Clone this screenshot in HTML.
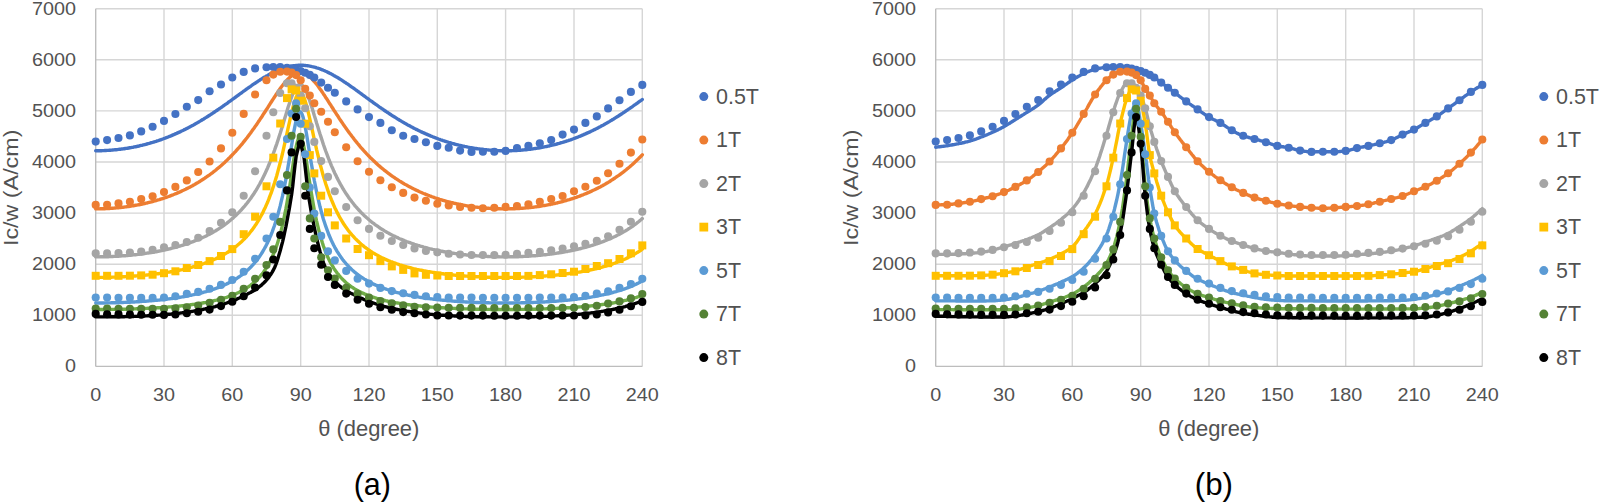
<!DOCTYPE html>
<html lang="en"><head><meta charset="utf-8"><title>Ic/w vs θ</title>
<style>
html,body{margin:0;padding:0;background:#fff;}
body{width:1600px;height:503px;overflow:hidden;font-family:"Liberation Sans",Arial,sans-serif;}
svg{display:block;}
</style></head><body>
<svg width="1600" height="503" viewBox="0 0 1600 503" font-family="'Liberation Sans', Arial, sans-serif">
<rect width="1600" height="503" fill="#fff"/>
<g><line x1="95.7" y1="315.3" x2="642.3" y2="315.3" stroke="#d6d6d6" stroke-width="1.4"/>
<line x1="95.7" y1="264.2" x2="642.3" y2="264.2" stroke="#d6d6d6" stroke-width="1.4"/>
<line x1="95.7" y1="213.1" x2="642.3" y2="213.1" stroke="#d6d6d6" stroke-width="1.4"/>
<line x1="95.7" y1="162.0" x2="642.3" y2="162.0" stroke="#d6d6d6" stroke-width="1.4"/>
<line x1="95.7" y1="110.9" x2="642.3" y2="110.9" stroke="#d6d6d6" stroke-width="1.4"/>
<line x1="95.7" y1="59.8" x2="642.3" y2="59.8" stroke="#d6d6d6" stroke-width="1.4"/>
<line x1="95.7" y1="8.7" x2="642.3" y2="8.7" stroke="#d6d6d6" stroke-width="1.4"/>
<line x1="164.0" y1="8.7" x2="164.0" y2="366.4" stroke="#d6d6d6" stroke-width="1.4"/>
<line x1="232.3" y1="8.7" x2="232.3" y2="366.4" stroke="#d6d6d6" stroke-width="1.4"/>
<line x1="300.7" y1="8.7" x2="300.7" y2="366.4" stroke="#d6d6d6" stroke-width="1.4"/>
<line x1="369.0" y1="8.7" x2="369.0" y2="366.4" stroke="#d6d6d6" stroke-width="1.4"/>
<line x1="437.3" y1="8.7" x2="437.3" y2="366.4" stroke="#d6d6d6" stroke-width="1.4"/>
<line x1="505.6" y1="8.7" x2="505.6" y2="366.4" stroke="#d6d6d6" stroke-width="1.4"/>
<line x1="574.0" y1="8.7" x2="574.0" y2="366.4" stroke="#d6d6d6" stroke-width="1.4"/>
<line x1="642.3" y1="8.7" x2="642.3" y2="366.4" stroke="#d6d6d6" stroke-width="1.4"/>
<line x1="95.7" y1="8.7" x2="95.7" y2="366.4" stroke="#bdbdbd" stroke-width="1.4"/>
<line x1="95.7" y1="366.4" x2="642.3" y2="366.4" stroke="#bdbdbd" stroke-width="1.4"/>
<text x="75.9" y="372.2" font-size="19" fill="#525252" text-anchor="end" textLength="11.0" lengthAdjust="spacingAndGlyphs">0</text>
<text x="75.9" y="321.1" font-size="19" fill="#525252" text-anchor="end" textLength="44.0" lengthAdjust="spacingAndGlyphs">1000</text>
<text x="75.9" y="270.0" font-size="19" fill="#525252" text-anchor="end" textLength="44.0" lengthAdjust="spacingAndGlyphs">2000</text>
<text x="75.9" y="218.9" font-size="19" fill="#525252" text-anchor="end" textLength="44.0" lengthAdjust="spacingAndGlyphs">3000</text>
<text x="75.9" y="167.8" font-size="19" fill="#525252" text-anchor="end" textLength="44.0" lengthAdjust="spacingAndGlyphs">4000</text>
<text x="75.9" y="116.7" font-size="19" fill="#525252" text-anchor="end" textLength="44.0" lengthAdjust="spacingAndGlyphs">5000</text>
<text x="75.9" y="65.6" font-size="19" fill="#525252" text-anchor="end" textLength="44.0" lengthAdjust="spacingAndGlyphs">6000</text>
<text x="75.9" y="14.5" font-size="19" fill="#525252" text-anchor="end" textLength="44.0" lengthAdjust="spacingAndGlyphs">7000</text>
<text x="95.7" y="400.7" font-size="19" fill="#525252" text-anchor="middle" textLength="11.0" lengthAdjust="spacingAndGlyphs">0</text>
<text x="164.0" y="400.7" font-size="19" fill="#525252" text-anchor="middle" textLength="22.0" lengthAdjust="spacingAndGlyphs">30</text>
<text x="232.3" y="400.7" font-size="19" fill="#525252" text-anchor="middle" textLength="22.0" lengthAdjust="spacingAndGlyphs">60</text>
<text x="300.7" y="400.7" font-size="19" fill="#525252" text-anchor="middle" textLength="22.0" lengthAdjust="spacingAndGlyphs">90</text>
<text x="369.0" y="400.7" font-size="19" fill="#525252" text-anchor="middle" textLength="33.0" lengthAdjust="spacingAndGlyphs">120</text>
<text x="437.3" y="400.7" font-size="19" fill="#525252" text-anchor="middle" textLength="33.0" lengthAdjust="spacingAndGlyphs">150</text>
<text x="505.6" y="400.7" font-size="19" fill="#525252" text-anchor="middle" textLength="33.0" lengthAdjust="spacingAndGlyphs">180</text>
<text x="574.0" y="400.7" font-size="19" fill="#525252" text-anchor="middle" textLength="33.0" lengthAdjust="spacingAndGlyphs">210</text>
<text x="642.3" y="400.7" font-size="19" fill="#525252" text-anchor="middle" textLength="33.0" lengthAdjust="spacingAndGlyphs">240</text>
<text x="368.8" y="436.3" font-size="21.6" fill="#525252" text-anchor="middle" textLength="101.2" lengthAdjust="spacingAndGlyphs">θ (degree)</text>
<text transform="translate(17.6,187.8) rotate(-90)" font-size="20.8" fill="#525252" text-anchor="middle" textLength="116.5" lengthAdjust="spacingAndGlyphs">Ic/w (A/cm)</text>
<text x="372.3" y="495" font-size="30.5" fill="#000" text-anchor="middle" textLength="37.3" lengthAdjust="spacingAndGlyphs">(a)</text>
<path d="M95.7,150.8 L96.8,150.8 L98.0,150.7 L99.1,150.7 L100.3,150.7 L101.4,150.7 L102.5,150.6 L103.7,150.6 L104.8,150.5 L105.9,150.5 L107.1,150.4 L108.2,150.4 L109.4,150.3 L110.5,150.2 L111.6,150.1 L112.8,150.0 L113.9,149.9 L115.1,149.8 L116.2,149.7 L117.3,149.6 L118.5,149.4 L119.6,149.3 L120.8,149.2 L121.9,149.0 L123.0,148.9 L124.2,148.7 L125.3,148.5 L126.4,148.4 L127.6,148.2 L128.7,148.0 L129.9,147.8 L131.0,147.6 L132.1,147.4 L133.3,147.2 L134.4,146.9 L135.6,146.7 L136.7,146.5 L137.8,146.2 L139.0,146.0 L140.1,145.7 L141.2,145.4 L142.4,145.2 L143.5,144.9 L144.7,144.6 L145.8,144.3 L146.9,144.0 L148.1,143.7 L149.2,143.4 L150.4,143.0 L151.5,142.7 L152.6,142.4 L153.8,142.0 L154.9,141.7 L156.1,141.3 L157.2,140.9 L158.3,140.6 L159.5,140.2 L160.6,139.8 L161.7,139.4 L162.9,139.0 L164.0,138.5 L165.2,138.1 L166.3,137.7 L167.4,137.2 L168.6,136.8 L169.7,136.3 L170.9,135.9 L172.0,135.4 L173.1,134.9 L174.3,134.4 L175.4,133.9 L176.6,133.4 L177.7,132.9 L178.8,132.4 L180.0,131.9 L181.1,131.3 L182.2,130.8 L183.4,130.2 L184.5,129.6 L185.7,129.1 L186.8,128.5 L187.9,127.9 L189.1,127.3 L190.2,126.7 L191.4,126.1 L192.5,125.5 L193.6,124.9 L194.8,124.2 L195.9,123.6 L197.0,122.9 L198.2,122.3 L199.3,121.6 L200.5,120.9 L201.6,120.2 L202.7,119.5 L203.9,118.9 L205.0,118.1 L206.2,117.4 L207.3,116.7 L208.4,116.0 L209.6,115.3 L210.7,114.5 L211.9,113.8 L213.0,113.0 L214.1,112.3 L215.3,111.5 L216.4,110.7 L217.5,110.0 L218.7,109.2 L219.8,108.4 L221.0,107.6 L222.1,106.8 L223.2,106.0 L224.4,105.2 L225.5,104.4 L226.7,103.6 L227.8,102.8 L228.9,101.9 L230.1,101.1 L231.2,100.3 L232.3,99.5 L233.5,98.6 L234.6,97.8 L235.8,97.0 L236.9,96.1 L238.0,95.3 L239.2,94.5 L240.3,93.7 L241.5,92.8 L242.6,92.0 L243.7,91.2 L244.9,90.4 L246.0,89.5 L247.2,88.7 L248.3,87.9 L249.4,87.1 L250.6,86.3 L251.7,85.5 L252.8,84.7 L254.0,83.9 L255.1,83.2 L256.3,82.4 L257.4,81.7 L258.5,80.9 L259.7,80.2 L260.8,79.4 L262.0,78.7 L263.1,78.0 L264.2,77.3 L265.4,76.7 L266.5,76.0 L267.7,75.4 L268.8,74.7 L269.9,74.1 L271.1,73.5 L272.2,72.9 L273.3,72.4 L274.5,71.8 L275.6,71.3 L276.8,70.8 L277.9,70.3 L279.0,69.8 L280.2,69.4 L281.3,68.9 L282.5,68.5 L283.6,68.1 L284.7,67.8 L285.9,67.4 L287.0,67.1 L288.1,66.8 L289.3,66.6 L290.4,66.3 L291.6,66.1 L292.7,65.9 L293.8,65.7 L295.0,65.6 L296.1,65.5 L297.3,65.4 L298.4,65.3 L299.5,65.3 L300.7,65.3 L301.8,65.3 L303.0,65.3 L304.1,65.4 L305.2,65.5 L306.4,65.6 L307.5,65.7 L308.6,65.9 L309.8,66.1 L310.9,66.3 L312.1,66.6 L313.2,66.8 L314.3,67.1 L315.5,67.4 L316.6,67.8 L317.8,68.1 L318.9,68.5 L320.0,68.9 L321.2,69.4 L322.3,69.8 L323.4,70.3 L324.6,70.8 L325.7,71.3 L326.9,71.8 L328.0,72.4 L329.1,72.9 L330.3,73.5 L331.4,74.1 L332.6,74.7 L333.7,75.4 L334.8,76.0 L336.0,76.7 L337.1,77.3 L338.3,78.0 L339.4,78.7 L340.5,79.4 L341.7,80.2 L342.8,80.9 L343.9,81.7 L345.1,82.4 L346.2,83.2 L347.4,83.9 L348.5,84.7 L349.6,85.5 L350.8,86.3 L351.9,87.1 L353.1,87.9 L354.2,88.7 L355.3,89.5 L356.5,90.4 L357.6,91.2 L358.8,92.0 L359.9,92.8 L361.0,93.7 L362.2,94.5 L363.3,95.3 L364.4,96.1 L365.6,97.0 L366.7,97.8 L367.9,98.6 L369.0,99.5 L370.1,100.3 L371.3,101.1 L372.4,101.9 L373.6,102.8 L374.7,103.6 L375.8,104.4 L377.0,105.2 L378.1,106.0 L379.2,106.8 L380.4,107.6 L381.5,108.4 L382.7,109.2 L383.8,110.0 L384.9,110.7 L386.1,111.5 L387.2,112.3 L388.4,113.0 L389.5,113.8 L390.6,114.5 L391.8,115.3 L392.9,116.0 L394.1,116.7 L395.2,117.4 L396.3,118.1 L397.5,118.9 L398.6,119.5 L399.7,120.2 L400.9,120.9 L402.0,121.6 L403.2,122.3 L404.3,122.9 L405.4,123.6 L406.6,124.2 L407.7,124.9 L408.9,125.5 L410.0,126.1 L411.1,126.7 L412.3,127.3 L413.4,127.9 L414.5,128.5 L415.7,129.1 L416.8,129.6 L418.0,130.2 L419.1,130.8 L420.2,131.3 L421.4,131.9 L422.5,132.4 L423.7,132.9 L424.8,133.4 L425.9,133.9 L427.1,134.4 L428.2,134.9 L429.4,135.4 L430.5,135.9 L431.6,136.3 L432.8,136.8 L433.9,137.2 L435.0,137.7 L436.2,138.1 L437.3,138.5 L438.5,139.0 L439.6,139.4 L440.7,139.8 L441.9,140.2 L443.0,140.6 L444.2,140.9 L445.3,141.3 L446.4,141.7 L447.6,142.0 L448.7,142.4 L449.9,142.7 L451.0,143.0 L452.1,143.4 L453.3,143.7 L454.4,144.0 L455.5,144.3 L456.7,144.6 L457.8,144.9 L459.0,145.2 L460.1,145.4 L461.2,145.7 L462.4,146.0 L463.5,146.2 L464.7,146.5 L465.8,146.7 L466.9,146.9 L468.1,147.2 L469.2,147.4 L470.3,147.6 L471.5,147.8 L472.6,148.0 L473.8,148.2 L474.9,148.4 L476.0,148.5 L477.2,148.7 L478.3,148.9 L479.5,149.0 L480.6,149.2 L481.7,149.3 L482.9,149.4 L484.0,149.6 L485.2,149.7 L486.3,149.8 L487.4,149.9 L488.6,150.0 L489.7,150.1 L490.8,150.2 L492.0,150.3 L493.1,150.4 L494.3,150.4 L495.4,150.5 L496.5,150.5 L497.7,150.6 L498.8,150.6 L500.0,150.7 L501.1,150.7 L502.2,150.7 L503.4,150.7 L504.5,150.8 L505.6,150.8 L506.8,150.8 L507.9,150.7 L509.1,150.7 L510.2,150.7 L511.3,150.7 L512.5,150.6 L513.6,150.6 L514.8,150.5 L515.9,150.5 L517.0,150.4 L518.2,150.4 L519.3,150.3 L520.5,150.2 L521.6,150.1 L522.7,150.0 L523.9,149.9 L525.0,149.8 L526.1,149.7 L527.3,149.6 L528.4,149.4 L529.6,149.3 L530.7,149.2 L531.8,149.0 L533.0,148.9 L534.1,148.7 L535.3,148.5 L536.4,148.4 L537.5,148.2 L538.7,148.0 L539.8,147.8 L541.0,147.6 L542.1,147.4 L543.2,147.2 L544.4,146.9 L545.5,146.7 L546.6,146.5 L547.8,146.2 L548.9,146.0 L550.1,145.7 L551.2,145.4 L552.3,145.2 L553.5,144.9 L554.6,144.6 L555.8,144.3 L556.9,144.0 L558.0,143.7 L559.2,143.4 L560.3,143.0 L561.4,142.7 L562.6,142.4 L563.7,142.0 L564.9,141.7 L566.0,141.3 L567.1,140.9 L568.3,140.6 L569.4,140.2 L570.6,139.8 L571.7,139.4 L572.8,139.0 L574.0,138.5 L575.1,138.1 L576.3,137.7 L577.4,137.2 L578.5,136.8 L579.7,136.3 L580.8,135.9 L581.9,135.4 L583.1,134.9 L584.2,134.4 L585.4,133.9 L586.5,133.4 L587.6,132.9 L588.8,132.4 L589.9,131.9 L591.1,131.3 L592.2,130.8 L593.3,130.2 L594.5,129.6 L595.6,129.1 L596.8,128.5 L597.9,127.9 L599.0,127.3 L600.2,126.7 L601.3,126.1 L602.4,125.5 L603.6,124.9 L604.7,124.2 L605.9,123.6 L607.0,122.9 L608.1,122.3 L609.3,121.6 L610.4,120.9 L611.6,120.2 L612.7,119.5 L613.8,118.9 L615.0,118.1 L616.1,117.4 L617.2,116.7 L618.4,116.0 L619.5,115.3 L620.7,114.5 L621.8,113.8 L622.9,113.0 L624.1,112.3 L625.2,111.5 L626.4,110.7 L627.5,110.0 L628.6,109.2 L629.8,108.4 L630.9,107.6 L632.1,106.8 L633.2,106.0 L634.3,105.2 L635.5,104.4 L636.6,103.6 L637.7,102.8 L638.9,101.9 L640.0,101.1 L641.2,100.3 L642.3,99.5" fill="none" stroke="#4472C4" stroke-width="3.4" stroke-linejoin="round" stroke-linecap="round"/>
<path d="M95.7,208.9 L96.8,208.9 L98.0,208.9 L99.1,208.9 L100.3,208.8 L101.4,208.8 L102.5,208.8 L103.7,208.7 L104.8,208.7 L105.9,208.6 L107.1,208.6 L108.2,208.5 L109.4,208.5 L110.5,208.4 L111.6,208.3 L112.8,208.2 L113.9,208.1 L115.1,208.0 L116.2,207.9 L117.3,207.8 L118.5,207.7 L119.6,207.6 L120.8,207.5 L121.9,207.4 L123.0,207.2 L124.2,207.1 L125.3,206.9 L126.4,206.8 L127.6,206.6 L128.7,206.5 L129.9,206.3 L131.0,206.1 L132.1,205.9 L133.3,205.7 L134.4,205.5 L135.6,205.3 L136.7,205.1 L137.8,204.9 L139.0,204.7 L140.1,204.5 L141.2,204.2 L142.4,204.0 L143.5,203.7 L144.7,203.5 L145.8,203.2 L146.9,203.0 L148.1,202.7 L149.2,202.4 L150.4,202.1 L151.5,201.8 L152.6,201.5 L153.8,201.2 L154.9,200.9 L156.1,200.6 L157.2,200.2 L158.3,199.9 L159.5,199.6 L160.6,199.2 L161.7,198.8 L162.9,198.5 L164.0,198.1 L165.2,197.7 L166.3,197.3 L167.4,196.9 L168.6,196.5 L169.7,196.1 L170.9,195.6 L172.0,195.2 L173.1,194.8 L174.3,194.3 L175.4,193.8 L176.6,193.4 L177.7,192.9 L178.8,192.4 L180.0,191.9 L181.1,191.4 L182.2,190.8 L183.4,190.3 L184.5,189.8 L185.7,189.2 L186.8,188.6 L187.9,188.1 L189.1,187.5 L190.2,186.9 L191.4,186.3 L192.5,185.7 L193.6,185.0 L194.8,184.4 L195.9,183.7 L197.0,183.0 L198.2,182.4 L199.3,181.7 L200.5,181.0 L201.6,180.2 L202.7,179.5 L203.9,178.8 L205.0,178.0 L206.2,177.2 L207.3,176.4 L208.4,175.6 L209.6,174.8 L210.7,174.0 L211.9,173.1 L213.0,172.3 L214.1,171.4 L215.3,170.5 L216.4,169.6 L217.5,168.6 L218.7,167.7 L219.8,166.7 L221.0,165.7 L222.1,164.7 L223.2,163.7 L224.4,162.7 L225.5,161.6 L226.7,160.5 L227.8,159.4 L228.9,158.3 L230.1,157.2 L231.2,156.0 L232.3,154.8 L233.5,153.6 L234.6,152.4 L235.8,151.2 L236.9,149.9 L238.0,148.6 L239.2,147.3 L240.3,146.0 L241.5,144.6 L242.6,143.3 L243.7,141.9 L244.9,140.4 L246.0,139.0 L247.2,137.5 L248.3,136.0 L249.4,134.5 L250.6,133.0 L251.7,131.4 L252.8,129.8 L254.0,128.2 L255.1,126.6 L256.3,125.0 L257.4,123.3 L258.5,121.6 L259.7,119.9 L260.8,118.2 L262.0,116.5 L263.1,114.7 L264.2,113.0 L265.4,111.2 L266.5,109.4 L267.7,107.7 L268.8,105.9 L269.9,104.1 L271.1,102.3 L272.2,100.5 L273.3,98.8 L274.5,97.0 L275.6,95.3 L276.8,93.6 L277.9,91.9 L279.0,90.2 L280.2,88.6 L281.3,87.0 L282.5,85.5 L283.6,84.1 L284.7,82.7 L285.9,81.3 L287.0,80.1 L288.1,78.9 L289.3,77.8 L290.4,76.8 L291.6,75.9 L292.7,75.1 L293.8,74.4 L295.0,73.8 L296.1,73.3 L297.3,73.0 L298.4,72.7 L299.5,72.6 L300.7,72.6 L301.8,72.8 L303.0,73.0 L304.1,73.4 L305.2,73.9 L306.4,74.5 L307.5,75.2 L308.6,76.0 L309.8,77.0 L310.9,78.0 L312.1,79.1 L313.2,80.3 L314.3,81.6 L315.5,82.9 L316.6,84.3 L317.8,85.8 L318.9,87.4 L320.0,88.9 L321.2,90.6 L322.3,92.2 L323.4,93.9 L324.6,95.6 L325.7,97.4 L326.9,99.1 L328.0,100.9 L329.1,102.7 L330.3,104.4 L331.4,106.2 L332.6,108.0 L333.7,109.8 L334.8,111.6 L336.0,113.3 L337.1,115.1 L338.3,116.8 L339.4,118.6 L340.5,120.3 L341.7,122.0 L342.8,123.6 L343.9,125.3 L345.1,126.9 L346.2,128.6 L347.4,130.2 L348.5,131.7 L349.6,133.3 L350.8,134.8 L351.9,136.3 L353.1,137.8 L354.2,139.3 L355.3,140.7 L356.5,142.1 L357.6,143.5 L358.8,144.9 L359.9,146.3 L361.0,147.6 L362.2,148.9 L363.3,150.2 L364.4,151.4 L365.6,152.7 L366.7,153.9 L367.9,155.1 L369.0,156.2 L370.1,157.4 L371.3,158.5 L372.4,159.6 L373.6,160.7 L374.7,161.8 L375.8,162.9 L377.0,163.9 L378.1,164.9 L379.2,165.9 L380.4,166.9 L381.5,167.9 L382.7,168.8 L383.8,169.7 L384.9,170.7 L386.1,171.5 L387.2,172.4 L388.4,173.3 L389.5,174.1 L390.6,175.0 L391.8,175.8 L392.9,176.6 L394.1,177.4 L395.2,178.2 L396.3,178.9 L397.5,179.7 L398.6,180.4 L399.7,181.1 L400.9,181.8 L402.0,182.5 L403.2,183.2 L404.3,183.9 L405.4,184.5 L406.6,185.1 L407.7,185.8 L408.9,186.4 L410.0,187.0 L411.1,187.6 L412.3,188.2 L413.4,188.8 L414.5,189.3 L415.7,189.9 L416.8,190.4 L418.0,190.9 L419.1,191.5 L420.2,192.0 L421.4,192.5 L422.5,193.0 L423.7,193.5 L424.8,193.9 L425.9,194.4 L427.1,194.8 L428.2,195.3 L429.4,195.7 L430.5,196.2 L431.6,196.6 L432.8,197.0 L433.9,197.4 L435.0,197.8 L436.2,198.2 L437.3,198.5 L438.5,198.9 L439.6,199.3 L440.7,199.6 L441.9,200.0 L443.0,200.3 L444.2,200.6 L445.3,201.0 L446.4,201.3 L447.6,201.6 L448.7,201.9 L449.9,202.2 L451.0,202.5 L452.1,202.7 L453.3,203.0 L454.4,203.3 L455.5,203.5 L456.7,203.8 L457.8,204.0 L459.0,204.3 L460.1,204.5 L461.2,204.7 L462.4,205.0 L463.5,205.2 L464.7,205.4 L465.8,205.6 L466.9,205.8 L468.1,206.0 L469.2,206.1 L470.3,206.3 L471.5,206.5 L472.6,206.7 L473.8,206.8 L474.9,207.0 L476.0,207.1 L477.2,207.2 L478.3,207.4 L479.5,207.5 L480.6,207.6 L481.7,207.8 L482.9,207.9 L484.0,208.0 L485.2,208.1 L486.3,208.2 L487.4,208.2 L488.6,208.3 L489.7,208.4 L490.8,208.5 L492.0,208.5 L493.1,208.6 L494.3,208.7 L495.4,208.7 L496.5,208.8 L497.7,208.8 L498.8,208.8 L500.0,208.8 L501.1,208.9 L502.2,208.9 L503.4,208.9 L504.5,208.9 L505.6,208.9 L506.8,208.9 L507.9,208.9 L509.1,208.9 L510.2,208.8 L511.3,208.8 L512.5,208.8 L513.6,208.7 L514.8,208.7 L515.9,208.6 L517.0,208.6 L518.2,208.5 L519.3,208.5 L520.5,208.4 L521.6,208.3 L522.7,208.2 L523.9,208.1 L525.0,208.0 L526.1,207.9 L527.3,207.8 L528.4,207.7 L529.6,207.6 L530.7,207.5 L531.8,207.4 L533.0,207.2 L534.1,207.1 L535.3,206.9 L536.4,206.8 L537.5,206.6 L538.7,206.5 L539.8,206.3 L541.0,206.1 L542.1,205.9 L543.2,205.7 L544.4,205.5 L545.5,205.3 L546.6,205.1 L547.8,204.9 L548.9,204.7 L550.1,204.5 L551.2,204.2 L552.3,204.0 L553.5,203.7 L554.6,203.5 L555.8,203.2 L556.9,203.0 L558.0,202.7 L559.2,202.4 L560.3,202.1 L561.4,201.8 L562.6,201.5 L563.7,201.2 L564.9,200.9 L566.0,200.6 L567.1,200.2 L568.3,199.9 L569.4,199.6 L570.6,199.2 L571.7,198.8 L572.8,198.5 L574.0,198.1 L575.1,197.7 L576.3,197.3 L577.4,196.9 L578.5,196.5 L579.7,196.1 L580.8,195.6 L581.9,195.2 L583.1,194.8 L584.2,194.3 L585.4,193.8 L586.5,193.4 L587.6,192.9 L588.8,192.4 L589.9,191.9 L591.1,191.4 L592.2,190.8 L593.3,190.3 L594.5,189.8 L595.6,189.2 L596.8,188.6 L597.9,188.1 L599.0,187.5 L600.2,186.9 L601.3,186.3 L602.4,185.7 L603.6,185.0 L604.7,184.4 L605.9,183.7 L607.0,183.0 L608.1,182.4 L609.3,181.7 L610.4,181.0 L611.6,180.2 L612.7,179.5 L613.8,178.8 L615.0,178.0 L616.1,177.2 L617.2,176.4 L618.4,175.6 L619.5,174.8 L620.7,174.0 L621.8,173.1 L622.9,172.3 L624.1,171.4 L625.2,170.5 L626.4,169.6 L627.5,168.6 L628.6,167.7 L629.8,166.7 L630.9,165.7 L632.1,164.7 L633.2,163.7 L634.3,162.7 L635.5,161.6 L636.6,160.5 L637.7,159.4 L638.9,158.3 L640.0,157.2 L641.2,156.0 L642.3,154.8" fill="none" stroke="#ED7D31" stroke-width="3.4" stroke-linejoin="round" stroke-linecap="round"/>
<path d="M95.7,256.9 L96.8,256.9 L98.0,256.9 L99.1,256.9 L100.3,256.8 L101.4,256.8 L102.5,256.8 L103.7,256.8 L104.8,256.8 L105.9,256.7 L107.1,256.7 L108.2,256.7 L109.4,256.6 L110.5,256.6 L111.6,256.5 L112.8,256.5 L113.9,256.4 L115.1,256.4 L116.2,256.3 L117.3,256.2 L118.5,256.2 L119.6,256.1 L120.8,256.0 L121.9,255.9 L123.0,255.8 L124.2,255.8 L125.3,255.7 L126.4,255.6 L127.6,255.5 L128.7,255.4 L129.9,255.3 L131.0,255.2 L132.1,255.0 L133.3,254.9 L134.4,254.8 L135.6,254.7 L136.7,254.6 L137.8,254.4 L139.0,254.3 L140.1,254.1 L141.2,254.0 L142.4,253.8 L143.5,253.7 L144.7,253.5 L145.8,253.4 L146.9,253.2 L148.1,253.0 L149.2,252.8 L150.4,252.7 L151.5,252.5 L152.6,252.3 L153.8,252.1 L154.9,251.9 L156.1,251.7 L157.2,251.5 L158.3,251.2 L159.5,251.0 L160.6,250.8 L161.7,250.6 L162.9,250.3 L164.0,250.1 L165.2,249.8 L166.3,249.6 L167.4,249.3 L168.6,249.0 L169.7,248.8 L170.9,248.5 L172.0,248.2 L173.1,247.9 L174.3,247.6 L175.4,247.3 L176.6,247.0 L177.7,246.7 L178.8,246.4 L180.0,246.0 L181.1,245.7 L182.2,245.3 L183.4,245.0 L184.5,244.6 L185.7,244.2 L186.8,243.9 L187.9,243.5 L189.1,243.1 L190.2,242.7 L191.4,242.2 L192.5,241.8 L193.6,241.4 L194.8,240.9 L195.9,240.5 L197.0,240.0 L198.2,239.5 L199.3,239.1 L200.5,238.6 L201.6,238.1 L202.7,237.5 L203.9,237.0 L205.0,236.5 L206.2,235.9 L207.3,235.3 L208.4,234.8 L209.6,234.2 L210.7,233.6 L211.9,232.9 L213.0,232.3 L214.1,231.6 L215.3,231.0 L216.4,230.3 L217.5,229.6 L218.7,228.8 L219.8,228.1 L221.0,227.4 L222.1,226.6 L223.2,225.8 L224.4,225.0 L225.5,224.1 L226.7,223.3 L227.8,222.4 L228.9,221.5 L230.1,220.5 L231.2,219.6 L232.3,218.6 L233.5,217.6 L234.6,216.6 L235.8,215.5 L236.9,214.4 L238.0,213.3 L239.2,212.1 L240.3,210.9 L241.5,209.7 L242.6,208.4 L243.7,207.1 L244.9,205.8 L246.0,204.4 L247.2,203.0 L248.3,201.5 L249.4,200.0 L250.6,198.5 L251.7,196.8 L252.8,195.2 L254.0,193.5 L255.1,191.7 L256.3,189.9 L257.4,188.0 L258.5,186.0 L259.7,184.0 L260.8,181.9 L262.0,179.7 L263.1,177.5 L264.2,175.2 L265.4,172.7 L266.5,170.3 L267.7,167.7 L268.8,165.0 L269.9,162.3 L271.1,159.4 L272.2,156.5 L273.3,153.5 L274.5,150.3 L275.6,147.1 L276.8,143.8 L277.9,140.4 L279.0,136.9 L280.2,133.3 L281.3,129.7 L282.5,126.0 L283.6,122.2 L284.7,118.5 L285.9,114.7 L287.0,111.0 L288.1,107.3 L289.3,103.8 L290.4,100.4 L291.6,97.2 L292.7,94.2 L293.8,91.5 L295.0,89.2 L296.1,87.3 L297.3,85.9 L298.4,84.9 L299.5,84.4 L300.7,84.5 L301.8,85.1 L303.0,86.1 L304.1,87.7 L305.2,89.7 L306.4,92.0 L307.5,94.8 L308.6,97.8 L309.8,101.0 L310.9,104.5 L312.1,108.0 L313.2,111.7 L314.3,115.5 L315.5,119.2 L316.6,123.0 L317.8,126.7 L318.9,130.4 L320.0,134.0 L321.2,137.6 L322.3,141.1 L323.4,144.5 L324.6,147.8 L325.7,151.0 L326.9,154.1 L328.0,157.1 L329.1,160.0 L330.3,162.8 L331.4,165.6 L332.6,168.2 L333.7,170.8 L334.8,173.2 L336.0,175.6 L337.1,177.9 L338.3,180.2 L339.4,182.3 L340.5,184.4 L341.7,186.4 L342.8,188.3 L343.9,190.2 L345.1,192.1 L346.2,193.8 L347.4,195.5 L348.5,197.2 L349.6,198.8 L350.8,200.3 L351.9,201.8 L353.1,203.3 L354.2,204.7 L355.3,206.1 L356.5,207.4 L357.6,208.7 L358.8,210.0 L359.9,211.2 L361.0,212.4 L362.2,213.5 L363.3,214.6 L364.4,215.7 L365.6,216.8 L366.7,217.8 L367.9,218.8 L369.0,219.8 L370.1,220.7 L371.3,221.7 L372.4,222.6 L373.6,223.4 L374.7,224.3 L375.8,225.1 L377.0,225.9 L378.1,226.7 L379.2,227.5 L380.4,228.3 L381.5,229.0 L382.7,229.7 L383.8,230.4 L384.9,231.1 L386.1,231.8 L387.2,232.4 L388.4,233.1 L389.5,233.7 L390.6,234.3 L391.8,234.9 L392.9,235.5 L394.1,236.0 L395.2,236.6 L396.3,237.1 L397.5,237.6 L398.6,238.2 L399.7,238.7 L400.9,239.2 L402.0,239.6 L403.2,240.1 L404.3,240.6 L405.4,241.0 L406.6,241.5 L407.7,241.9 L408.9,242.3 L410.0,242.7 L411.1,243.1 L412.3,243.5 L413.4,243.9 L414.5,244.3 L415.7,244.7 L416.8,245.0 L418.0,245.4 L419.1,245.7 L420.2,246.1 L421.4,246.4 L422.5,246.7 L423.7,247.1 L424.8,247.4 L425.9,247.7 L427.1,248.0 L428.2,248.3 L429.4,248.6 L430.5,248.8 L431.6,249.1 L432.8,249.4 L433.9,249.6 L435.0,249.9 L436.2,250.1 L437.3,250.4 L438.5,250.6 L439.6,250.8 L440.7,251.1 L441.9,251.3 L443.0,251.5 L444.2,251.7 L445.3,251.9 L446.4,252.1 L447.6,252.3 L448.7,252.5 L449.9,252.7 L451.0,252.9 L452.1,253.1 L453.3,253.2 L454.4,253.4 L455.5,253.6 L456.7,253.7 L457.8,253.9 L459.0,254.0 L460.1,254.2 L461.2,254.3 L462.4,254.4 L463.5,254.6 L464.7,254.7 L465.8,254.8 L466.9,255.0 L468.1,255.1 L469.2,255.2 L470.3,255.3 L471.5,255.4 L472.6,255.5 L473.8,255.6 L474.9,255.7 L476.0,255.8 L477.2,255.9 L478.3,255.9 L479.5,256.0 L480.6,256.1 L481.7,256.2 L482.9,256.2 L484.0,256.3 L485.2,256.4 L486.3,256.4 L487.4,256.5 L488.6,256.5 L489.7,256.6 L490.8,256.6 L492.0,256.7 L493.1,256.7 L494.3,256.7 L495.4,256.8 L496.5,256.8 L497.7,256.8 L498.8,256.8 L500.0,256.9 L501.1,256.9 L502.2,256.9 L503.4,256.9 L504.5,256.9 L505.6,256.9 L506.8,256.9 L507.9,256.9 L509.1,256.9 L510.2,256.8 L511.3,256.8 L512.5,256.8 L513.6,256.8 L514.8,256.8 L515.9,256.7 L517.0,256.7 L518.2,256.7 L519.3,256.6 L520.5,256.6 L521.6,256.5 L522.7,256.5 L523.9,256.4 L525.0,256.4 L526.1,256.3 L527.3,256.2 L528.4,256.2 L529.6,256.1 L530.7,256.0 L531.8,255.9 L533.0,255.8 L534.1,255.8 L535.3,255.7 L536.4,255.6 L537.5,255.5 L538.7,255.4 L539.8,255.3 L541.0,255.2 L542.1,255.0 L543.2,254.9 L544.4,254.8 L545.5,254.7 L546.6,254.6 L547.8,254.4 L548.9,254.3 L550.1,254.1 L551.2,254.0 L552.3,253.8 L553.5,253.7 L554.6,253.5 L555.8,253.4 L556.9,253.2 L558.0,253.0 L559.2,252.8 L560.3,252.7 L561.4,252.5 L562.6,252.3 L563.7,252.1 L564.9,251.9 L566.0,251.7 L567.1,251.5 L568.3,251.2 L569.4,251.0 L570.6,250.8 L571.7,250.6 L572.8,250.3 L574.0,250.1 L575.1,249.8 L576.3,249.6 L577.4,249.3 L578.5,249.0 L579.7,248.8 L580.8,248.5 L581.9,248.2 L583.1,247.9 L584.2,247.6 L585.4,247.3 L586.5,247.0 L587.6,246.7 L588.8,246.4 L589.9,246.0 L591.1,245.7 L592.2,245.3 L593.3,245.0 L594.5,244.6 L595.6,244.2 L596.8,243.9 L597.9,243.5 L599.0,243.1 L600.2,242.7 L601.3,242.2 L602.4,241.8 L603.6,241.4 L604.7,240.9 L605.9,240.5 L607.0,240.0 L608.1,239.5 L609.3,239.1 L610.4,238.6 L611.6,238.1 L612.7,237.5 L613.8,237.0 L615.0,236.5 L616.1,235.9 L617.2,235.3 L618.4,234.8 L619.5,234.2 L620.7,233.6 L621.8,232.9 L622.9,232.3 L624.1,231.6 L625.2,231.0 L626.4,230.3 L627.5,229.6 L628.6,228.8 L629.8,228.1 L630.9,227.4 L632.1,226.6 L633.2,225.8 L634.3,225.0 L635.5,224.1 L636.6,223.3 L637.7,222.4 L638.9,221.5 L640.0,220.5 L641.2,219.6 L642.3,218.6" fill="none" stroke="#A5A5A5" stroke-width="3.4" stroke-linejoin="round" stroke-linecap="round"/>
<path d="M95.7,277.4 L96.8,277.4 L98.0,277.4 L99.1,277.4 L100.3,277.4 L101.4,277.4 L102.5,277.4 L103.7,277.4 L104.8,277.3 L105.9,277.3 L107.1,277.3 L108.2,277.3 L109.4,277.2 L110.5,277.2 L111.6,277.2 L112.8,277.1 L113.9,277.1 L115.1,277.1 L116.2,277.0 L117.3,277.0 L118.5,276.9 L119.6,276.9 L120.8,276.8 L121.9,276.8 L123.0,276.7 L124.2,276.7 L125.3,276.6 L126.4,276.6 L127.6,276.5 L128.7,276.4 L129.9,276.4 L131.0,276.3 L132.1,276.2 L133.3,276.1 L134.4,276.0 L135.6,276.0 L136.7,275.9 L137.8,275.8 L139.0,275.7 L140.1,275.6 L141.2,275.5 L142.4,275.4 L143.5,275.3 L144.7,275.2 L145.8,275.1 L146.9,275.0 L148.1,274.9 L149.2,274.7 L150.4,274.6 L151.5,274.5 L152.6,274.4 L153.8,274.2 L154.9,274.1 L156.1,273.9 L157.2,273.8 L158.3,273.7 L159.5,273.5 L160.6,273.3 L161.7,273.2 L162.9,273.0 L164.0,272.9 L165.2,272.7 L166.3,272.5 L167.4,272.3 L168.6,272.1 L169.7,272.0 L170.9,271.8 L172.0,271.6 L173.1,271.4 L174.3,271.2 L175.4,270.9 L176.6,270.7 L177.7,270.5 L178.8,270.3 L180.0,270.0 L181.1,269.8 L182.2,269.6 L183.4,269.3 L184.5,269.0 L185.7,268.8 L186.8,268.5 L187.9,268.2 L189.1,267.9 L190.2,267.7 L191.4,267.4 L192.5,267.0 L193.6,266.7 L194.8,266.4 L195.9,266.1 L197.0,265.7 L198.2,265.4 L199.3,265.0 L200.5,264.7 L201.6,264.3 L202.7,263.9 L203.9,263.5 L205.0,263.1 L206.2,262.7 L207.3,262.3 L208.4,261.8 L209.6,261.4 L210.7,260.9 L211.9,260.5 L213.0,260.0 L214.1,259.5 L215.3,259.0 L216.4,258.4 L217.5,257.9 L218.7,257.3 L219.8,256.8 L221.0,256.2 L222.1,255.6 L223.2,254.9 L224.4,254.3 L225.5,253.6 L226.7,252.9 L227.8,252.2 L228.9,251.5 L230.1,250.8 L231.2,250.0 L232.3,249.2 L233.5,248.4 L234.6,247.5 L235.8,246.6 L236.9,245.7 L238.0,244.8 L239.2,243.8 L240.3,242.8 L241.5,241.7 L242.6,240.6 L243.7,239.5 L244.9,238.4 L246.0,237.2 L247.2,235.9 L248.3,234.6 L249.4,233.3 L250.6,231.8 L251.7,230.4 L252.8,228.9 L254.0,227.3 L255.1,225.6 L256.3,223.9 L257.4,222.1 L258.5,220.3 L259.7,218.3 L260.8,216.3 L262.0,214.2 L263.1,211.9 L264.2,209.6 L265.4,207.2 L266.5,204.6 L267.7,202.0 L268.8,199.2 L269.9,196.2 L271.1,193.2 L272.2,189.9 L273.3,186.6 L274.5,183.0 L275.6,179.4 L276.8,175.5 L277.9,171.4 L279.0,167.2 L280.2,162.8 L281.3,158.3 L282.5,153.5 L283.6,148.6 L284.7,143.6 L285.9,138.5 L287.0,133.3 L288.1,128.1 L289.3,122.9 L290.4,117.8 L291.6,113.0 L292.7,108.4 L293.8,104.2 L295.0,100.5 L296.1,97.3 L297.3,94.9 L298.4,93.3 L299.5,92.5 L300.7,92.6 L301.8,93.6 L303.0,95.4 L304.1,97.9 L305.2,101.1 L306.4,105.0 L307.5,109.3 L308.6,113.9 L309.8,118.8 L310.9,123.9 L312.1,129.1 L313.2,134.4 L314.3,139.5 L315.5,144.6 L316.6,149.6 L317.8,154.5 L318.9,159.2 L320.0,163.7 L321.2,168.1 L322.3,172.3 L323.4,176.3 L324.6,180.1 L325.7,183.8 L326.9,187.3 L328.0,190.6 L329.1,193.8 L330.3,196.8 L331.4,199.7 L332.6,202.5 L333.7,205.1 L334.8,207.7 L336.0,210.1 L337.1,212.4 L338.3,214.6 L339.4,216.7 L340.5,218.7 L341.7,220.6 L342.8,222.5 L343.9,224.3 L345.1,226.0 L346.2,227.6 L347.4,229.2 L348.5,230.7 L349.6,232.1 L350.8,233.5 L351.9,234.9 L353.1,236.2 L354.2,237.4 L355.3,238.6 L356.5,239.8 L357.6,240.9 L358.8,241.9 L359.9,243.0 L361.0,244.0 L362.2,245.0 L363.3,245.9 L364.4,246.8 L365.6,247.7 L366.7,248.5 L367.9,249.3 L369.0,250.1 L370.1,250.9 L371.3,251.7 L372.4,252.4 L373.6,253.1 L374.7,253.8 L375.8,254.4 L377.0,255.1 L378.1,255.7 L379.2,256.3 L380.4,256.9 L381.5,257.5 L382.7,258.0 L383.8,258.5 L384.9,259.1 L386.1,259.6 L387.2,260.1 L388.4,260.6 L389.5,261.0 L390.6,261.5 L391.8,261.9 L392.9,262.4 L394.1,262.8 L395.2,263.2 L396.3,263.6 L397.5,264.0 L398.6,264.4 L399.7,264.8 L400.9,265.1 L402.0,265.5 L403.2,265.8 L404.3,266.2 L405.4,266.5 L406.6,266.8 L407.7,267.1 L408.9,267.4 L410.0,267.7 L411.1,268.0 L412.3,268.3 L413.4,268.6 L414.5,268.8 L415.7,269.1 L416.8,269.4 L418.0,269.6 L419.1,269.8 L420.2,270.1 L421.4,270.3 L422.5,270.5 L423.7,270.8 L424.8,271.0 L425.9,271.2 L427.1,271.4 L428.2,271.6 L429.4,271.8 L430.5,272.0 L431.6,272.2 L432.8,272.4 L433.9,272.5 L435.0,272.7 L436.2,272.9 L437.3,273.1 L438.5,273.2 L439.6,273.4 L440.7,273.5 L441.9,273.7 L443.0,273.8 L444.2,274.0 L445.3,274.1 L446.4,274.3 L447.6,274.4 L448.7,274.5 L449.9,274.6 L451.0,274.8 L452.1,274.9 L453.3,275.0 L454.4,275.1 L455.5,275.2 L456.7,275.3 L457.8,275.4 L459.0,275.5 L460.1,275.6 L461.2,275.7 L462.4,275.8 L463.5,275.9 L464.7,276.0 L465.8,276.1 L466.9,276.1 L468.1,276.2 L469.2,276.3 L470.3,276.4 L471.5,276.4 L472.6,276.5 L473.8,276.6 L474.9,276.6 L476.0,276.7 L477.2,276.8 L478.3,276.8 L479.5,276.9 L480.6,276.9 L481.7,277.0 L482.9,277.0 L484.0,277.0 L485.2,277.1 L486.3,277.1 L487.4,277.2 L488.6,277.2 L489.7,277.2 L490.8,277.2 L492.0,277.3 L493.1,277.3 L494.3,277.3 L495.4,277.3 L496.5,277.4 L497.7,277.4 L498.8,277.4 L500.0,277.4 L501.1,277.4 L502.2,277.4 L503.4,277.4 L504.5,277.4 L505.6,277.4 L506.8,277.4 L507.9,277.4 L509.1,277.4 L510.2,277.4 L511.3,277.4 L512.5,277.4 L513.6,277.4 L514.8,277.3 L515.9,277.3 L517.0,277.3 L518.2,277.3 L519.3,277.2 L520.5,277.2 L521.6,277.2 L522.7,277.1 L523.9,277.1 L525.0,277.1 L526.1,277.0 L527.3,277.0 L528.4,276.9 L529.6,276.9 L530.7,276.8 L531.8,276.8 L533.0,276.7 L534.1,276.7 L535.3,276.6 L536.4,276.6 L537.5,276.5 L538.7,276.4 L539.8,276.4 L541.0,276.3 L542.1,276.2 L543.2,276.1 L544.4,276.0 L545.5,276.0 L546.6,275.9 L547.8,275.8 L548.9,275.7 L550.1,275.6 L551.2,275.5 L552.3,275.4 L553.5,275.3 L554.6,275.2 L555.8,275.1 L556.9,275.0 L558.0,274.9 L559.2,274.7 L560.3,274.6 L561.4,274.5 L562.6,274.4 L563.7,274.2 L564.9,274.1 L566.0,273.9 L567.1,273.8 L568.3,273.7 L569.4,273.5 L570.6,273.3 L571.7,273.2 L572.8,273.0 L574.0,272.9 L575.1,272.7 L576.3,272.5 L577.4,272.3 L578.5,272.1 L579.7,272.0 L580.8,271.8 L581.9,271.6 L583.1,271.4 L584.2,271.2 L585.4,270.9 L586.5,270.7 L587.6,270.5 L588.8,270.3 L589.9,270.0 L591.1,269.8 L592.2,269.6 L593.3,269.3 L594.5,269.0 L595.6,268.8 L596.8,268.5 L597.9,268.2 L599.0,267.9 L600.2,267.7 L601.3,267.4 L602.4,267.0 L603.6,266.7 L604.7,266.4 L605.9,266.1 L607.0,265.7 L608.1,265.4 L609.3,265.0 L610.4,264.7 L611.6,264.3 L612.7,263.9 L613.8,263.5 L615.0,263.1 L616.1,262.7 L617.2,262.3 L618.4,261.8 L619.5,261.4 L620.7,260.9 L621.8,260.5 L622.9,260.0 L624.1,259.5 L625.2,259.0 L626.4,258.4 L627.5,257.9 L628.6,257.3 L629.8,256.8 L630.9,256.2 L632.1,255.6 L633.2,254.9 L634.3,254.3 L635.5,253.6 L636.6,252.9 L637.7,252.2 L638.9,251.5 L640.0,250.8 L641.2,250.0 L642.3,249.2" fill="none" stroke="#FFC000" stroke-width="3.4" stroke-linejoin="round" stroke-linecap="round"/>
<path d="M95.7,303.0 L96.8,303.0 L98.0,303.0 L99.1,303.0 L100.3,303.0 L101.4,303.0 L102.5,303.0 L103.7,303.0 L104.8,303.0 L105.9,302.9 L107.1,302.9 L108.2,302.9 L109.4,302.9 L110.5,302.9 L111.6,302.8 L112.8,302.8 L113.9,302.8 L115.1,302.8 L116.2,302.7 L117.3,302.7 L118.5,302.7 L119.6,302.6 L120.8,302.6 L121.9,302.5 L123.0,302.5 L124.2,302.4 L125.3,302.4 L126.4,302.3 L127.6,302.3 L128.7,302.2 L129.9,302.2 L131.0,302.1 L132.1,302.1 L133.3,302.0 L134.4,302.0 L135.6,301.9 L136.7,301.8 L137.8,301.7 L139.0,301.7 L140.1,301.6 L141.2,301.5 L142.4,301.4 L143.5,301.4 L144.7,301.3 L145.8,301.2 L146.9,301.1 L148.1,301.0 L149.2,300.9 L150.4,300.8 L151.5,300.7 L152.6,300.6 L153.8,300.5 L154.9,300.4 L156.1,300.3 L157.2,300.2 L158.3,300.1 L159.5,300.0 L160.6,299.8 L161.7,299.7 L162.9,299.6 L164.0,299.5 L165.2,299.3 L166.3,299.2 L167.4,299.1 L168.6,298.9 L169.7,298.8 L170.9,298.6 L172.0,298.5 L173.1,298.3 L174.3,298.1 L175.4,298.0 L176.6,297.8 L177.7,297.6 L178.8,297.5 L180.0,297.3 L181.1,297.1 L182.2,296.9 L183.4,296.7 L184.5,296.5 L185.7,296.3 L186.8,296.1 L187.9,295.9 L189.1,295.6 L190.2,295.4 L191.4,295.2 L192.5,294.9 L193.6,294.7 L194.8,294.4 L195.9,294.2 L197.0,293.9 L198.2,293.7 L199.3,293.4 L200.5,293.1 L201.6,292.8 L202.7,292.5 L203.9,292.2 L205.0,291.9 L206.2,291.6 L207.3,291.2 L208.4,290.9 L209.6,290.5 L210.7,290.2 L211.9,289.8 L213.0,289.4 L214.1,289.1 L215.3,288.7 L216.4,288.2 L217.5,287.8 L218.7,287.4 L219.8,286.9 L221.0,286.5 L222.1,286.0 L223.2,285.5 L224.4,285.0 L225.5,284.5 L226.7,283.9 L227.8,283.4 L228.9,282.8 L230.1,282.2 L231.2,281.6 L232.3,281.0 L233.5,280.4 L234.6,279.7 L235.8,279.0 L236.9,278.3 L238.0,277.5 L239.2,276.8 L240.3,276.0 L241.5,275.1 L242.6,274.3 L243.7,273.4 L244.9,272.5 L246.0,271.5 L247.2,270.5 L248.3,269.5 L249.4,268.4 L250.6,267.3 L251.7,266.1 L252.8,264.9 L254.0,263.6 L255.1,262.2 L256.3,260.8 L257.4,259.4 L258.5,257.9 L259.7,256.2 L260.8,254.6 L262.0,252.8 L263.1,250.9 L264.2,249.0 L265.4,246.9 L266.5,244.7 L267.7,242.4 L268.8,240.0 L269.9,237.4 L271.1,234.7 L272.2,231.9 L273.3,228.8 L274.5,225.5 L275.6,222.1 L276.8,218.4 L277.9,214.5 L279.0,210.4 L280.2,205.9 L281.3,201.2 L282.5,196.2 L283.6,190.9 L284.7,185.2 L285.9,179.2 L287.0,172.9 L288.1,166.4 L289.3,159.6 L290.4,152.6 L291.6,145.5 L292.7,138.6 L293.8,131.9 L295.0,125.8 L296.1,120.4 L297.3,116.2 L298.4,113.2 L299.5,111.7 L300.7,111.9 L301.8,113.7 L303.0,116.9 L304.1,121.4 L305.2,127.0 L306.4,133.2 L307.5,140.0 L308.6,146.9 L309.8,154.0 L310.9,160.9 L312.1,167.7 L313.2,174.2 L314.3,180.5 L315.5,186.4 L316.6,192.0 L317.8,197.2 L318.9,202.2 L320.0,206.8 L321.2,211.2 L322.3,215.3 L323.4,219.2 L324.6,222.8 L325.7,226.2 L326.9,229.4 L328.0,232.4 L329.1,235.3 L330.3,238.0 L331.4,240.5 L332.6,242.9 L333.7,245.2 L334.8,247.3 L336.0,249.4 L337.1,251.3 L338.3,253.2 L339.4,254.9 L340.5,256.6 L341.7,258.2 L342.8,259.7 L343.9,261.1 L345.1,262.5 L346.2,263.8 L347.4,265.1 L348.5,266.3 L349.6,267.5 L350.8,268.6 L351.9,269.7 L353.1,270.7 L354.2,271.7 L355.3,272.7 L356.5,273.6 L357.6,274.5 L358.8,275.3 L359.9,276.1 L361.0,276.9 L362.2,277.7 L363.3,278.4 L364.4,279.1 L365.6,279.8 L366.7,280.5 L367.9,281.1 L369.0,281.8 L370.1,282.4 L371.3,282.9 L372.4,283.5 L373.6,284.1 L374.7,284.6 L375.8,285.1 L377.0,285.6 L378.1,286.1 L379.2,286.6 L380.4,287.0 L381.5,287.5 L382.7,287.9 L383.8,288.3 L384.9,288.7 L386.1,289.1 L387.2,289.5 L388.4,289.9 L389.5,290.3 L390.6,290.6 L391.8,291.0 L392.9,291.3 L394.1,291.6 L395.2,292.0 L396.3,292.3 L397.5,292.6 L398.6,292.9 L399.7,293.2 L400.9,293.4 L402.0,293.7 L403.2,294.0 L404.3,294.2 L405.4,294.5 L406.6,294.7 L407.7,295.0 L408.9,295.2 L410.0,295.5 L411.1,295.7 L412.3,295.9 L413.4,296.1 L414.5,296.3 L415.7,296.5 L416.8,296.7 L418.0,296.9 L419.1,297.1 L420.2,297.3 L421.4,297.5 L422.5,297.7 L423.7,297.8 L424.8,298.0 L425.9,298.2 L427.1,298.3 L428.2,298.5 L429.4,298.6 L430.5,298.8 L431.6,298.9 L432.8,299.1 L433.9,299.2 L435.0,299.4 L436.2,299.5 L437.3,299.6 L438.5,299.7 L439.6,299.9 L440.7,300.0 L441.9,300.1 L443.0,300.2 L444.2,300.3 L445.3,300.4 L446.4,300.5 L447.6,300.7 L448.7,300.8 L449.9,300.8 L451.0,300.9 L452.1,301.0 L453.3,301.1 L454.4,301.2 L455.5,301.3 L456.7,301.4 L457.8,301.5 L459.0,301.5 L460.1,301.6 L461.2,301.7 L462.4,301.8 L463.5,301.8 L464.7,301.9 L465.8,302.0 L466.9,302.0 L468.1,302.1 L469.2,302.1 L470.3,302.2 L471.5,302.3 L472.6,302.3 L473.8,302.4 L474.9,302.4 L476.0,302.5 L477.2,302.5 L478.3,302.5 L479.5,302.6 L480.6,302.6 L481.7,302.7 L482.9,302.7 L484.0,302.7 L485.2,302.8 L486.3,302.8 L487.4,302.8 L488.6,302.8 L489.7,302.9 L490.8,302.9 L492.0,302.9 L493.1,302.9 L494.3,302.9 L495.4,303.0 L496.5,303.0 L497.7,303.0 L498.8,303.0 L500.0,303.0 L501.1,303.0 L502.2,303.0 L503.4,303.0 L504.5,303.0 L505.6,303.0 L506.8,303.0 L507.9,303.0 L509.1,303.0 L510.2,303.0 L511.3,303.0 L512.5,303.0 L513.6,303.0 L514.8,303.0 L515.9,302.9 L517.0,302.9 L518.2,302.9 L519.3,302.9 L520.5,302.9 L521.6,302.8 L522.7,302.8 L523.9,302.8 L525.0,302.8 L526.1,302.7 L527.3,302.7 L528.4,302.7 L529.6,302.6 L530.7,302.6 L531.8,302.5 L533.0,302.5 L534.1,302.4 L535.3,302.4 L536.4,302.3 L537.5,302.3 L538.7,302.2 L539.8,302.2 L541.0,302.1 L542.1,302.1 L543.2,302.0 L544.4,302.0 L545.5,301.9 L546.6,301.8 L547.8,301.7 L548.9,301.7 L550.1,301.6 L551.2,301.5 L552.3,301.4 L553.5,301.4 L554.6,301.3 L555.8,301.2 L556.9,301.1 L558.0,301.0 L559.2,300.9 L560.3,300.8 L561.4,300.7 L562.6,300.6 L563.7,300.5 L564.9,300.4 L566.0,300.3 L567.1,300.2 L568.3,300.1 L569.4,300.0 L570.6,299.8 L571.7,299.7 L572.8,299.6 L574.0,299.5 L575.1,299.3 L576.3,299.2 L577.4,299.1 L578.5,298.9 L579.7,298.8 L580.8,298.6 L581.9,298.5 L583.1,298.3 L584.2,298.1 L585.4,298.0 L586.5,297.8 L587.6,297.6 L588.8,297.5 L589.9,297.3 L591.1,297.1 L592.2,296.9 L593.3,296.7 L594.5,296.5 L595.6,296.3 L596.8,296.1 L597.9,295.9 L599.0,295.6 L600.2,295.4 L601.3,295.2 L602.4,294.9 L603.6,294.7 L604.7,294.4 L605.9,294.2 L607.0,293.9 L608.1,293.7 L609.3,293.4 L610.4,293.1 L611.6,292.8 L612.7,292.5 L613.8,292.2 L615.0,291.9 L616.1,291.6 L617.2,291.2 L618.4,290.9 L619.5,290.5 L620.7,290.2 L621.8,289.8 L622.9,289.4 L624.1,289.1 L625.2,288.7 L626.4,288.2 L627.5,287.8 L628.6,287.4 L629.8,286.9 L630.9,286.5 L632.1,286.0 L633.2,285.5 L634.3,285.0 L635.5,284.5 L636.6,283.9 L637.7,283.4 L638.9,282.8 L640.0,282.2 L641.2,281.6 L642.3,281.0" fill="none" stroke="#5B9BD5" stroke-width="3.4" stroke-linejoin="round" stroke-linecap="round"/>
<path d="M95.7,309.5 L96.8,309.5 L98.0,309.5 L99.1,309.5 L100.3,309.5 L101.4,309.5 L102.5,309.5 L103.7,309.5 L104.8,309.5 L105.9,309.5 L107.1,309.5 L108.2,309.5 L109.4,309.4 L110.5,309.4 L111.6,309.4 L112.8,309.4 L113.9,309.4 L115.1,309.4 L116.2,309.4 L117.3,309.3 L118.5,309.3 L119.6,309.3 L120.8,309.3 L121.9,309.2 L123.0,309.2 L124.2,309.2 L125.3,309.2 L126.4,309.1 L127.6,309.1 L128.7,309.1 L129.9,309.0 L131.0,309.0 L132.1,309.0 L133.3,308.9 L134.4,308.9 L135.6,308.9 L136.7,308.8 L137.8,308.8 L139.0,308.7 L140.1,308.7 L141.2,308.6 L142.4,308.6 L143.5,308.5 L144.7,308.5 L145.8,308.4 L146.9,308.4 L148.1,308.3 L149.2,308.3 L150.4,308.2 L151.5,308.2 L152.6,308.1 L153.8,308.0 L154.9,308.0 L156.1,307.9 L157.2,307.8 L158.3,307.8 L159.5,307.7 L160.6,307.6 L161.7,307.5 L162.9,307.5 L164.0,307.4 L165.2,307.3 L166.3,307.2 L167.4,307.1 L168.6,307.0 L169.7,306.9 L170.9,306.9 L172.0,306.8 L173.1,306.7 L174.3,306.6 L175.4,306.5 L176.6,306.3 L177.7,306.2 L178.8,306.1 L180.0,306.0 L181.1,305.9 L182.2,305.8 L183.4,305.7 L184.5,305.5 L185.7,305.4 L186.8,305.3 L187.9,305.1 L189.1,305.0 L190.2,304.8 L191.4,304.7 L192.5,304.5 L193.6,304.4 L194.8,304.2 L195.9,304.1 L197.0,303.9 L198.2,303.7 L199.3,303.5 L200.5,303.4 L201.6,303.2 L202.7,303.0 L203.9,302.8 L205.0,302.6 L206.2,302.4 L207.3,302.1 L208.4,301.9 L209.6,301.7 L210.7,301.5 L211.9,301.2 L213.0,301.0 L214.1,300.7 L215.3,300.4 L216.4,300.2 L217.5,299.9 L218.7,299.6 L219.8,299.3 L221.0,299.0 L222.1,298.6 L223.2,298.3 L224.4,298.0 L225.5,297.6 L226.7,297.3 L227.8,296.9 L228.9,296.5 L230.1,296.1 L231.2,295.6 L232.3,295.2 L233.5,294.8 L234.6,294.3 L235.8,293.8 L236.9,293.3 L238.0,292.8 L239.2,292.2 L240.3,291.6 L241.5,291.1 L242.6,290.4 L243.7,289.8 L244.9,289.1 L246.0,288.4 L247.2,287.7 L248.3,286.9 L249.4,286.1 L250.6,285.3 L251.7,284.4 L252.8,283.5 L254.0,282.5 L255.1,281.5 L256.3,280.4 L257.4,279.3 L258.5,278.1 L259.7,276.9 L260.8,275.5 L262.0,274.2 L263.1,272.7 L264.2,271.1 L265.4,269.5 L266.5,267.7 L267.7,265.8 L268.8,263.8 L269.9,261.7 L271.1,259.4 L272.2,257.0 L273.3,254.4 L274.5,251.6 L275.6,248.6 L276.8,245.4 L277.9,241.9 L279.0,238.2 L280.2,234.2 L281.3,229.8 L282.5,225.1 L283.6,220.1 L284.7,214.7 L285.9,208.9 L287.0,202.7 L288.1,196.1 L289.3,189.1 L290.4,181.9 L291.6,174.4 L292.7,166.9 L293.8,159.6 L295.0,152.8 L296.1,146.8 L297.3,141.9 L298.4,138.5 L299.5,136.8 L300.7,137.0 L301.8,139.0 L303.0,142.8 L304.1,147.9 L305.2,154.1 L306.4,161.1 L307.5,168.4 L308.6,175.9 L309.8,183.3 L310.9,190.5 L312.1,197.4 L313.2,203.9 L314.3,210.1 L315.5,215.8 L316.6,221.1 L317.8,226.1 L318.9,230.7 L320.0,235.0 L321.2,238.9 L322.3,242.6 L323.4,246.0 L324.6,249.2 L325.7,252.2 L326.9,254.9 L328.0,257.5 L329.1,259.9 L330.3,262.1 L331.4,264.2 L332.6,266.2 L333.7,268.1 L334.8,269.8 L336.0,271.4 L337.1,273.0 L338.3,274.4 L339.4,275.8 L340.5,277.1 L341.7,278.4 L342.8,279.5 L343.9,280.6 L345.1,281.7 L346.2,282.7 L347.4,283.7 L348.5,284.6 L349.6,285.5 L350.8,286.3 L351.9,287.1 L353.1,287.8 L354.2,288.6 L355.3,289.3 L356.5,289.9 L357.6,290.6 L358.8,291.2 L359.9,291.8 L361.0,292.3 L362.2,292.9 L363.3,293.4 L364.4,293.9 L365.6,294.4 L366.7,294.9 L367.9,295.3 L369.0,295.7 L370.1,296.2 L371.3,296.6 L372.4,296.9 L373.6,297.3 L374.7,297.7 L375.8,298.0 L377.0,298.4 L378.1,298.7 L379.2,299.0 L380.4,299.3 L381.5,299.6 L382.7,299.9 L383.8,300.2 L384.9,300.5 L386.1,300.8 L387.2,301.0 L388.4,301.3 L389.5,301.5 L390.6,301.7 L391.8,302.0 L392.9,302.2 L394.1,302.4 L395.2,302.6 L396.3,302.8 L397.5,303.0 L398.6,303.2 L399.7,303.4 L400.9,303.6 L402.0,303.8 L403.2,303.9 L404.3,304.1 L405.4,304.3 L406.6,304.4 L407.7,304.6 L408.9,304.7 L410.0,304.9 L411.1,305.0 L412.3,305.2 L413.4,305.3 L414.5,305.4 L415.7,305.6 L416.8,305.7 L418.0,305.8 L419.1,305.9 L420.2,306.0 L421.4,306.2 L422.5,306.3 L423.7,306.4 L424.8,306.5 L425.9,306.6 L427.1,306.7 L428.2,306.8 L429.4,306.9 L430.5,307.0 L431.6,307.1 L432.8,307.1 L433.9,307.2 L435.0,307.3 L436.2,307.4 L437.3,307.5 L438.5,307.6 L439.6,307.6 L440.7,307.7 L441.9,307.8 L443.0,307.8 L444.2,307.9 L445.3,308.0 L446.4,308.0 L447.6,308.1 L448.7,308.2 L449.9,308.2 L451.0,308.3 L452.1,308.3 L453.3,308.4 L454.4,308.4 L455.5,308.5 L456.7,308.5 L457.8,308.6 L459.0,308.6 L460.1,308.7 L461.2,308.7 L462.4,308.8 L463.5,308.8 L464.7,308.9 L465.8,308.9 L466.9,308.9 L468.1,309.0 L469.2,309.0 L470.3,309.0 L471.5,309.1 L472.6,309.1 L473.8,309.1 L474.9,309.2 L476.0,309.2 L477.2,309.2 L478.3,309.2 L479.5,309.3 L480.6,309.3 L481.7,309.3 L482.9,309.3 L484.0,309.4 L485.2,309.4 L486.3,309.4 L487.4,309.4 L488.6,309.4 L489.7,309.4 L490.8,309.5 L492.0,309.5 L493.1,309.5 L494.3,309.5 L495.4,309.5 L496.5,309.5 L497.7,309.5 L498.8,309.5 L500.0,309.5 L501.1,309.5 L502.2,309.5 L503.4,309.5 L504.5,309.5 L505.6,309.5 L506.8,309.5 L507.9,309.5 L509.1,309.5 L510.2,309.5 L511.3,309.5 L512.5,309.5 L513.6,309.5 L514.8,309.5 L515.9,309.5 L517.0,309.5 L518.2,309.5 L519.3,309.4 L520.5,309.4 L521.6,309.4 L522.7,309.4 L523.9,309.4 L525.0,309.4 L526.1,309.4 L527.3,309.3 L528.4,309.3 L529.6,309.3 L530.7,309.3 L531.8,309.2 L533.0,309.2 L534.1,309.2 L535.3,309.2 L536.4,309.1 L537.5,309.1 L538.7,309.1 L539.8,309.0 L541.0,309.0 L542.1,309.0 L543.2,308.9 L544.4,308.9 L545.5,308.9 L546.6,308.8 L547.8,308.8 L548.9,308.7 L550.1,308.7 L551.2,308.6 L552.3,308.6 L553.5,308.5 L554.6,308.5 L555.8,308.4 L556.9,308.4 L558.0,308.3 L559.2,308.3 L560.3,308.2 L561.4,308.2 L562.6,308.1 L563.7,308.0 L564.9,308.0 L566.0,307.9 L567.1,307.8 L568.3,307.8 L569.4,307.7 L570.6,307.6 L571.7,307.5 L572.8,307.5 L574.0,307.4 L575.1,307.3 L576.3,307.2 L577.4,307.1 L578.5,307.0 L579.7,306.9 L580.8,306.9 L581.9,306.8 L583.1,306.7 L584.2,306.6 L585.4,306.5 L586.5,306.3 L587.6,306.2 L588.8,306.1 L589.9,306.0 L591.1,305.9 L592.2,305.8 L593.3,305.7 L594.5,305.5 L595.6,305.4 L596.8,305.3 L597.9,305.1 L599.0,305.0 L600.2,304.8 L601.3,304.7 L602.4,304.5 L603.6,304.4 L604.7,304.2 L605.9,304.1 L607.0,303.9 L608.1,303.7 L609.3,303.5 L610.4,303.4 L611.6,303.2 L612.7,303.0 L613.8,302.8 L615.0,302.6 L616.1,302.4 L617.2,302.1 L618.4,301.9 L619.5,301.7 L620.7,301.5 L621.8,301.2 L622.9,301.0 L624.1,300.7 L625.2,300.4 L626.4,300.2 L627.5,299.9 L628.6,299.6 L629.8,299.3 L630.9,299.0 L632.1,298.6 L633.2,298.3 L634.3,298.0 L635.5,297.6 L636.6,297.3 L637.7,296.9 L638.9,296.5 L640.0,296.1 L641.2,295.6 L642.3,295.2" fill="none" stroke="#70AD47" stroke-width="3.4" stroke-linejoin="round" stroke-linecap="round"/>
<path d="M95.7,316.9 L96.8,316.9 L98.0,316.9 L99.1,316.9 L100.3,316.9 L101.4,316.9 L102.5,316.9 L103.7,316.9 L104.8,316.9 L105.9,316.9 L107.1,316.9 L108.2,316.9 L109.4,316.9 L110.5,316.8 L111.6,316.8 L112.8,316.8 L113.9,316.8 L115.1,316.8 L116.2,316.8 L117.3,316.8 L118.5,316.7 L119.6,316.7 L120.8,316.7 L121.9,316.7 L123.0,316.7 L124.2,316.7 L125.3,316.6 L126.4,316.6 L127.6,316.6 L128.7,316.6 L129.9,316.6 L131.0,316.5 L132.1,316.5 L133.3,316.5 L134.4,316.4 L135.6,316.4 L136.7,316.4 L137.8,316.3 L139.0,316.3 L140.1,316.2 L141.2,316.2 L142.4,316.1 L143.5,316.1 L144.7,316.0 L145.8,315.9 L146.9,315.9 L148.1,315.8 L149.2,315.7 L150.4,315.7 L151.5,315.6 L152.6,315.5 L153.8,315.5 L154.9,315.4 L156.1,315.3 L157.2,315.2 L158.3,315.1 L159.5,315.1 L160.6,315.0 L161.7,314.9 L162.9,314.8 L164.0,314.7 L165.2,314.6 L166.3,314.6 L167.4,314.5 L168.6,314.3 L169.7,314.2 L170.9,314.1 L172.0,314.0 L173.1,313.9 L174.3,313.7 L175.4,313.6 L176.6,313.5 L177.7,313.3 L178.8,313.2 L180.0,313.1 L181.1,312.9 L182.2,312.8 L183.4,312.6 L184.5,312.5 L185.7,312.3 L186.8,312.1 L187.9,312.0 L189.1,311.8 L190.2,311.6 L191.4,311.5 L192.5,311.3 L193.6,311.1 L194.8,310.9 L195.9,310.7 L197.0,310.5 L198.2,310.3 L199.3,310.1 L200.5,309.9 L201.6,309.7 L202.7,309.5 L203.9,309.2 L205.0,309.0 L206.2,308.7 L207.3,308.5 L208.4,308.2 L209.6,308.0 L210.7,307.7 L211.9,307.4 L213.0,307.2 L214.1,306.9 L215.3,306.6 L216.4,306.2 L217.5,305.9 L218.7,305.6 L219.8,305.2 L221.0,304.9 L222.1,304.5 L223.2,304.2 L224.4,303.8 L225.5,303.4 L226.7,303.0 L227.8,302.6 L228.9,302.2 L230.1,301.8 L231.2,301.4 L232.3,301.0 L233.5,300.5 L234.6,300.1 L235.8,299.6 L236.9,299.1 L238.0,298.5 L239.2,298.0 L240.3,297.5 L241.5,296.9 L242.6,296.4 L243.7,295.8 L244.9,295.3 L246.0,294.7 L247.2,294.2 L248.3,293.6 L249.4,293.0 L250.6,292.5 L251.7,291.8 L252.8,291.2 L254.0,290.5 L255.1,289.8 L256.3,289.1 L257.4,288.3 L258.5,287.4 L259.7,286.5 L260.8,285.6 L262.0,284.6 L263.1,283.6 L264.2,282.5 L265.4,281.3 L266.5,280.0 L267.7,278.7 L268.8,277.2 L269.9,275.6 L271.1,273.9 L272.2,272.1 L273.3,270.1 L274.5,267.8 L275.6,265.1 L276.8,261.9 L277.9,258.4 L279.0,254.7 L280.2,250.7 L281.3,246.5 L282.5,242.1 L283.6,237.3 L284.7,232.1 L285.9,226.6 L287.0,220.9 L288.1,214.9 L289.3,208.6 L290.4,201.9 L291.6,194.7 L292.7,186.4 L293.8,175.9 L295.0,165.3 L296.1,156.7 L297.3,151.5 L298.4,147.4 L299.5,144.6 L300.7,145.0 L301.8,148.1 L303.0,152.4 L304.1,158.1 L305.2,167.3 L306.4,178.1 L307.5,188.3 L308.6,196.2 L309.8,203.3 L310.9,209.9 L312.1,216.1 L313.2,222.0 L314.3,227.7 L315.5,233.2 L316.6,238.3 L317.8,243.0 L318.9,247.3 L320.0,251.5 L321.2,255.4 L322.3,259.2 L323.4,262.6 L324.6,265.6 L325.7,268.3 L326.9,270.5 L328.0,272.5 L329.1,274.2 L330.3,275.9 L331.4,277.5 L332.6,279.0 L333.7,280.3 L334.8,281.5 L336.0,282.7 L337.1,283.8 L338.3,284.8 L339.4,285.8 L340.5,286.7 L341.7,287.6 L342.8,288.4 L343.9,289.2 L345.1,290.0 L346.2,290.7 L347.4,291.3 L348.5,292.0 L349.6,292.6 L350.8,293.2 L351.9,293.7 L353.1,294.3 L354.2,294.8 L355.3,295.4 L356.5,295.9 L357.6,296.5 L358.8,297.0 L359.9,297.6 L361.0,298.1 L362.2,298.6 L363.3,299.2 L364.4,299.7 L365.6,300.2 L366.7,300.6 L367.9,301.1 L369.0,301.5 L370.1,301.9 L371.3,302.3 L372.4,302.7 L373.6,303.1 L374.7,303.5 L375.8,303.9 L377.0,304.2 L378.1,304.6 L379.2,305.0 L380.4,305.3 L381.5,305.7 L382.7,306.0 L383.8,306.3 L384.9,306.6 L386.1,306.9 L387.2,307.2 L388.4,307.5 L389.5,307.8 L390.6,308.0 L391.8,308.3 L392.9,308.5 L394.1,308.8 L395.2,309.0 L396.3,309.3 L397.5,309.5 L398.6,309.7 L399.7,309.9 L400.9,310.1 L402.0,310.4 L403.2,310.6 L404.3,310.8 L405.4,311.0 L406.6,311.1 L407.7,311.3 L408.9,311.5 L410.0,311.7 L411.1,311.8 L412.3,312.0 L413.4,312.2 L414.5,312.3 L415.7,312.5 L416.8,312.6 L418.0,312.8 L419.1,312.9 L420.2,313.1 L421.4,313.2 L422.5,313.4 L423.7,313.5 L424.8,313.6 L425.9,313.8 L427.1,313.9 L428.2,314.0 L429.4,314.1 L430.5,314.3 L431.6,314.4 L432.8,314.5 L433.9,314.6 L435.0,314.7 L436.2,314.8 L437.3,314.8 L438.5,314.9 L439.6,315.0 L440.7,315.1 L441.9,315.2 L443.0,315.2 L444.2,315.3 L445.3,315.4 L446.4,315.5 L447.6,315.5 L448.7,315.6 L449.9,315.7 L451.0,315.8 L452.1,315.8 L453.3,315.9 L454.4,316.0 L455.5,316.0 L456.7,316.1 L457.8,316.1 L459.0,316.2 L460.1,316.2 L461.2,316.3 L462.4,316.3 L463.5,316.4 L464.7,316.4 L465.8,316.5 L466.9,316.5 L468.1,316.5 L469.2,316.5 L470.3,316.6 L471.5,316.6 L472.6,316.6 L473.8,316.6 L474.9,316.6 L476.0,316.7 L477.2,316.7 L478.3,316.7 L479.5,316.7 L480.6,316.7 L481.7,316.8 L482.9,316.8 L484.0,316.8 L485.2,316.8 L486.3,316.8 L487.4,316.8 L488.6,316.8 L489.7,316.9 L490.8,316.9 L492.0,316.9 L493.1,316.9 L494.3,316.9 L495.4,316.9 L496.5,316.9 L497.7,316.9 L498.8,316.9 L500.0,316.9 L501.1,316.9 L502.2,316.9 L503.4,316.9 L504.5,316.9 L505.6,316.9 L506.8,316.9 L507.9,316.9 L509.1,316.9 L510.2,316.9 L511.3,316.9 L512.5,316.9 L513.6,316.9 L514.8,316.9 L515.9,316.9 L517.0,316.9 L518.2,316.9 L519.3,316.9 L520.5,316.8 L521.6,316.8 L522.7,316.8 L523.9,316.8 L525.0,316.8 L526.1,316.8 L527.3,316.8 L528.4,316.7 L529.6,316.7 L530.7,316.7 L531.8,316.7 L533.0,316.7 L534.1,316.7 L535.3,316.6 L536.4,316.6 L537.5,316.6 L538.7,316.6 L539.8,316.6 L541.0,316.5 L542.1,316.5 L543.2,316.5 L544.4,316.4 L545.5,316.4 L546.6,316.4 L547.8,316.3 L548.9,316.3 L550.1,316.2 L551.2,316.2 L552.3,316.1 L553.5,316.1 L554.6,316.0 L555.8,315.9 L556.9,315.9 L558.0,315.8 L559.2,315.7 L560.3,315.7 L561.4,315.6 L562.6,315.5 L563.7,315.5 L564.9,315.4 L566.0,315.3 L567.1,315.2 L568.3,315.1 L569.4,315.1 L570.6,315.0 L571.7,314.9 L572.8,314.8 L574.0,314.7 L575.1,314.6 L576.3,314.6 L577.4,314.5 L578.5,314.3 L579.7,314.2 L580.8,314.1 L581.9,314.0 L583.1,313.9 L584.2,313.7 L585.4,313.6 L586.5,313.5 L587.6,313.3 L588.8,313.2 L589.9,313.1 L591.1,312.9 L592.2,312.8 L593.3,312.6 L594.5,312.5 L595.6,312.3 L596.8,312.1 L597.9,312.0 L599.0,311.8 L600.2,311.6 L601.3,311.5 L602.4,311.3 L603.6,311.1 L604.7,310.9 L605.9,310.7 L607.0,310.5 L608.1,310.3 L609.3,310.1 L610.4,309.9 L611.6,309.7 L612.7,309.5 L613.8,309.2 L615.0,309.0 L616.1,308.7 L617.2,308.5 L618.4,308.2 L619.5,308.0 L620.7,307.7 L621.8,307.4 L622.9,307.2 L624.1,306.9 L625.2,306.6 L626.4,306.2 L627.5,305.9 L628.6,305.6 L629.8,305.2 L630.9,304.9 L632.1,304.5 L633.2,304.2 L634.3,303.8 L635.5,303.4 L636.6,303.0 L637.7,302.6 L638.9,302.2 L640.0,301.8 L641.2,301.4 L642.3,301.0" fill="none" stroke="#000000" stroke-width="3.4" stroke-linejoin="round" stroke-linecap="round"/>
<circle cx="95.7" cy="141.6" r="4.05" fill="#4472C4"/>
<circle cx="107.1" cy="140.1" r="4.05" fill="#4472C4"/>
<circle cx="118.5" cy="138.0" r="4.05" fill="#4472C4"/>
<circle cx="129.9" cy="135.4" r="4.05" fill="#4472C4"/>
<circle cx="141.2" cy="131.4" r="4.05" fill="#4472C4"/>
<circle cx="152.6" cy="126.7" r="4.05" fill="#4472C4"/>
<circle cx="164.0" cy="120.9" r="4.05" fill="#4472C4"/>
<circle cx="175.4" cy="114.0" r="4.05" fill="#4472C4"/>
<circle cx="186.8" cy="106.8" r="4.05" fill="#4472C4"/>
<circle cx="198.2" cy="100.1" r="4.05" fill="#4472C4"/>
<circle cx="209.6" cy="91.2" r="4.05" fill="#4472C4"/>
<circle cx="221.0" cy="84.5" r="4.05" fill="#4472C4"/>
<circle cx="232.3" cy="77.5" r="4.05" fill="#4472C4"/>
<circle cx="243.7" cy="71.9" r="4.05" fill="#4472C4"/>
<circle cx="255.1" cy="68.4" r="4.05" fill="#4472C4"/>
<circle cx="266.5" cy="67.2" r="4.05" fill="#4472C4"/>
<circle cx="273.3" cy="67.0" r="4.05" fill="#4472C4"/>
<circle cx="280.2" cy="67.0" r="4.05" fill="#4472C4"/>
<circle cx="287.0" cy="67.9" r="4.05" fill="#4472C4"/>
<circle cx="291.6" cy="68.6" r="4.05" fill="#4472C4"/>
<circle cx="296.1" cy="69.7" r="4.05" fill="#4472C4"/>
<circle cx="300.7" cy="71.0" r="4.05" fill="#4472C4"/>
<circle cx="305.2" cy="72.8" r="4.05" fill="#4472C4"/>
<circle cx="309.8" cy="74.9" r="4.05" fill="#4472C4"/>
<circle cx="314.3" cy="77.5" r="4.05" fill="#4472C4"/>
<circle cx="321.2" cy="82.6" r="4.05" fill="#4472C4"/>
<circle cx="328.0" cy="87.7" r="4.05" fill="#4472C4"/>
<circle cx="334.8" cy="92.8" r="4.05" fill="#4472C4"/>
<circle cx="346.2" cy="101.4" r="4.05" fill="#4472C4"/>
<circle cx="357.6" cy="109.4" r="4.05" fill="#4472C4"/>
<circle cx="369.0" cy="117.1" r="4.05" fill="#4472C4"/>
<circle cx="380.4" cy="122.9" r="4.05" fill="#4472C4"/>
<circle cx="391.8" cy="130.3" r="4.05" fill="#4472C4"/>
<circle cx="403.2" cy="135.8" r="4.05" fill="#4472C4"/>
<circle cx="414.5" cy="139.0" r="4.05" fill="#4472C4"/>
<circle cx="425.9" cy="142.2" r="4.05" fill="#4472C4"/>
<circle cx="437.3" cy="145.9" r="4.05" fill="#4472C4"/>
<circle cx="448.7" cy="147.7" r="4.05" fill="#4472C4"/>
<circle cx="460.1" cy="150.6" r="4.05" fill="#4472C4"/>
<circle cx="471.5" cy="151.9" r="4.05" fill="#4472C4"/>
<circle cx="482.9" cy="151.8" r="4.05" fill="#4472C4"/>
<circle cx="494.3" cy="151.8" r="4.05" fill="#4472C4"/>
<circle cx="505.6" cy="150.9" r="4.05" fill="#4472C4"/>
<circle cx="517.0" cy="148.1" r="4.05" fill="#4472C4"/>
<circle cx="528.4" cy="145.9" r="4.05" fill="#4472C4"/>
<circle cx="539.8" cy="143.3" r="4.05" fill="#4472C4"/>
<circle cx="551.2" cy="140.1" r="4.05" fill="#4472C4"/>
<circle cx="562.6" cy="134.6" r="4.05" fill="#4472C4"/>
<circle cx="574.0" cy="129.6" r="4.05" fill="#4472C4"/>
<circle cx="585.4" cy="122.9" r="4.05" fill="#4472C4"/>
<circle cx="596.8" cy="116.4" r="4.05" fill="#4472C4"/>
<circle cx="608.1" cy="108.4" r="4.05" fill="#4472C4"/>
<circle cx="619.5" cy="100.2" r="4.05" fill="#4472C4"/>
<circle cx="630.9" cy="91.9" r="4.05" fill="#4472C4"/>
<circle cx="642.3" cy="84.9" r="4.05" fill="#4472C4"/>
<circle cx="95.7" cy="204.9" r="4.05" fill="#ED7D31"/>
<circle cx="107.1" cy="204.7" r="4.05" fill="#ED7D31"/>
<circle cx="118.5" cy="203.4" r="4.05" fill="#ED7D31"/>
<circle cx="129.9" cy="201.8" r="4.05" fill="#ED7D31"/>
<circle cx="141.2" cy="199.1" r="4.05" fill="#ED7D31"/>
<circle cx="152.6" cy="196.2" r="4.05" fill="#ED7D31"/>
<circle cx="164.0" cy="192.1" r="4.05" fill="#ED7D31"/>
<circle cx="175.4" cy="186.9" r="4.05" fill="#ED7D31"/>
<circle cx="186.8" cy="180.4" r="4.05" fill="#ED7D31"/>
<circle cx="198.2" cy="172.0" r="4.05" fill="#ED7D31"/>
<circle cx="209.6" cy="161.5" r="4.05" fill="#ED7D31"/>
<circle cx="221.0" cy="148.4" r="4.05" fill="#ED7D31"/>
<circle cx="232.3" cy="132.8" r="4.05" fill="#ED7D31"/>
<circle cx="243.7" cy="113.9" r="4.05" fill="#ED7D31"/>
<circle cx="255.1" cy="94.5" r="4.05" fill="#ED7D31"/>
<circle cx="266.5" cy="80.2" r="4.05" fill="#ED7D31"/>
<circle cx="273.3" cy="74.6" r="4.05" fill="#ED7D31"/>
<circle cx="280.2" cy="71.8" r="4.05" fill="#ED7D31"/>
<circle cx="287.0" cy="71.6" r="4.05" fill="#ED7D31"/>
<circle cx="291.6" cy="72.6" r="4.05" fill="#ED7D31"/>
<circle cx="296.1" cy="75.1" r="4.05" fill="#ED7D31"/>
<circle cx="300.7" cy="80.2" r="4.05" fill="#ED7D31"/>
<circle cx="305.2" cy="88.9" r="4.05" fill="#ED7D31"/>
<circle cx="309.8" cy="95.6" r="4.05" fill="#ED7D31"/>
<circle cx="314.3" cy="103.2" r="4.05" fill="#ED7D31"/>
<circle cx="321.2" cy="111.8" r="4.05" fill="#ED7D31"/>
<circle cx="328.0" cy="121.8" r="4.05" fill="#ED7D31"/>
<circle cx="334.8" cy="132.3" r="4.05" fill="#ED7D31"/>
<circle cx="346.2" cy="147.2" r="4.05" fill="#ED7D31"/>
<circle cx="357.6" cy="161.2" r="4.05" fill="#ED7D31"/>
<circle cx="369.0" cy="171.8" r="4.05" fill="#ED7D31"/>
<circle cx="380.4" cy="180.3" r="4.05" fill="#ED7D31"/>
<circle cx="391.8" cy="187.3" r="4.05" fill="#ED7D31"/>
<circle cx="403.2" cy="192.9" r="4.05" fill="#ED7D31"/>
<circle cx="414.5" cy="197.6" r="4.05" fill="#ED7D31"/>
<circle cx="425.9" cy="200.8" r="4.05" fill="#ED7D31"/>
<circle cx="437.3" cy="203.7" r="4.05" fill="#ED7D31"/>
<circle cx="448.7" cy="205.5" r="4.05" fill="#ED7D31"/>
<circle cx="460.1" cy="206.9" r="4.05" fill="#ED7D31"/>
<circle cx="471.5" cy="207.8" r="4.05" fill="#ED7D31"/>
<circle cx="482.9" cy="208.3" r="4.05" fill="#ED7D31"/>
<circle cx="494.3" cy="207.8" r="4.05" fill="#ED7D31"/>
<circle cx="505.6" cy="206.9" r="4.05" fill="#ED7D31"/>
<circle cx="517.0" cy="206.0" r="4.05" fill="#ED7D31"/>
<circle cx="528.4" cy="204.3" r="4.05" fill="#ED7D31"/>
<circle cx="539.8" cy="201.7" r="4.05" fill="#ED7D31"/>
<circle cx="551.2" cy="199.0" r="4.05" fill="#ED7D31"/>
<circle cx="562.6" cy="196.0" r="4.05" fill="#ED7D31"/>
<circle cx="574.0" cy="191.2" r="4.05" fill="#ED7D31"/>
<circle cx="585.4" cy="186.8" r="4.05" fill="#ED7D31"/>
<circle cx="596.8" cy="180.7" r="4.05" fill="#ED7D31"/>
<circle cx="608.1" cy="173.3" r="4.05" fill="#ED7D31"/>
<circle cx="619.5" cy="163.7" r="4.05" fill="#ED7D31"/>
<circle cx="630.9" cy="152.6" r="4.05" fill="#ED7D31"/>
<circle cx="642.3" cy="139.5" r="4.05" fill="#ED7D31"/>
<circle cx="95.7" cy="253.4" r="4.05" fill="#A5A5A5"/>
<circle cx="107.1" cy="253.4" r="4.05" fill="#A5A5A5"/>
<circle cx="118.5" cy="253.1" r="4.05" fill="#A5A5A5"/>
<circle cx="129.9" cy="252.5" r="4.05" fill="#A5A5A5"/>
<circle cx="141.2" cy="251.6" r="4.05" fill="#A5A5A5"/>
<circle cx="152.6" cy="249.9" r="4.05" fill="#A5A5A5"/>
<circle cx="164.0" cy="247.3" r="4.05" fill="#A5A5A5"/>
<circle cx="175.4" cy="245.0" r="4.05" fill="#A5A5A5"/>
<circle cx="186.8" cy="242.0" r="4.05" fill="#A5A5A5"/>
<circle cx="198.2" cy="237.7" r="4.05" fill="#A5A5A5"/>
<circle cx="209.6" cy="231.0" r="4.05" fill="#A5A5A5"/>
<circle cx="221.0" cy="222.8" r="4.05" fill="#A5A5A5"/>
<circle cx="232.3" cy="212.3" r="4.05" fill="#A5A5A5"/>
<circle cx="243.7" cy="195.7" r="4.05" fill="#A5A5A5"/>
<circle cx="255.1" cy="171.3" r="4.05" fill="#A5A5A5"/>
<circle cx="266.5" cy="135.8" r="4.05" fill="#A5A5A5"/>
<circle cx="273.3" cy="112.2" r="4.05" fill="#A5A5A5"/>
<circle cx="280.2" cy="93.0" r="4.05" fill="#A5A5A5"/>
<circle cx="287.0" cy="83.3" r="4.05" fill="#A5A5A5"/>
<circle cx="291.6" cy="83.3" r="4.05" fill="#A5A5A5"/>
<circle cx="296.1" cy="87.9" r="4.05" fill="#A5A5A5"/>
<circle cx="300.7" cy="95.6" r="4.05" fill="#A5A5A5"/>
<circle cx="305.2" cy="108.3" r="4.05" fill="#A5A5A5"/>
<circle cx="309.8" cy="126.2" r="4.05" fill="#A5A5A5"/>
<circle cx="314.3" cy="141.9" r="4.05" fill="#A5A5A5"/>
<circle cx="321.2" cy="161.1" r="4.05" fill="#A5A5A5"/>
<circle cx="328.0" cy="176.9" r="4.05" fill="#A5A5A5"/>
<circle cx="334.8" cy="191.3" r="4.05" fill="#A5A5A5"/>
<circle cx="346.2" cy="207.0" r="4.05" fill="#A5A5A5"/>
<circle cx="357.6" cy="220.2" r="4.05" fill="#A5A5A5"/>
<circle cx="369.0" cy="228.9" r="4.05" fill="#A5A5A5"/>
<circle cx="380.4" cy="235.8" r="4.05" fill="#A5A5A5"/>
<circle cx="391.8" cy="241.0" r="4.05" fill="#A5A5A5"/>
<circle cx="403.2" cy="245.0" r="4.05" fill="#A5A5A5"/>
<circle cx="414.5" cy="248.4" r="4.05" fill="#A5A5A5"/>
<circle cx="425.9" cy="251.0" r="4.05" fill="#A5A5A5"/>
<circle cx="437.3" cy="252.4" r="4.05" fill="#A5A5A5"/>
<circle cx="448.7" cy="253.8" r="4.05" fill="#A5A5A5"/>
<circle cx="460.1" cy="254.5" r="4.05" fill="#A5A5A5"/>
<circle cx="471.5" cy="255.0" r="4.05" fill="#A5A5A5"/>
<circle cx="482.9" cy="255.0" r="4.05" fill="#A5A5A5"/>
<circle cx="494.3" cy="255.0" r="4.05" fill="#A5A5A5"/>
<circle cx="505.6" cy="254.7" r="4.05" fill="#A5A5A5"/>
<circle cx="517.0" cy="253.8" r="4.05" fill="#A5A5A5"/>
<circle cx="528.4" cy="252.9" r="4.05" fill="#A5A5A5"/>
<circle cx="539.8" cy="251.9" r="4.05" fill="#A5A5A5"/>
<circle cx="551.2" cy="250.3" r="4.05" fill="#A5A5A5"/>
<circle cx="562.6" cy="248.6" r="4.05" fill="#A5A5A5"/>
<circle cx="574.0" cy="246.3" r="4.05" fill="#A5A5A5"/>
<circle cx="585.4" cy="243.7" r="4.05" fill="#A5A5A5"/>
<circle cx="596.8" cy="240.7" r="4.05" fill="#A5A5A5"/>
<circle cx="608.1" cy="236.3" r="4.05" fill="#A5A5A5"/>
<circle cx="619.5" cy="229.7" r="4.05" fill="#A5A5A5"/>
<circle cx="630.9" cy="221.8" r="4.05" fill="#A5A5A5"/>
<circle cx="642.3" cy="211.8" r="4.05" fill="#A5A5A5"/>
<rect x="91.7" y="271.8" width="8" height="8" fill="#FFC000"/>
<rect x="103.1" y="271.8" width="8" height="8" fill="#FFC000"/>
<rect x="114.5" y="271.8" width="8" height="8" fill="#FFC000"/>
<rect x="125.9" y="271.7" width="8" height="8" fill="#FFC000"/>
<rect x="137.2" y="271.4" width="8" height="8" fill="#FFC000"/>
<rect x="148.6" y="270.7" width="8" height="8" fill="#FFC000"/>
<rect x="160.0" y="269.2" width="8" height="8" fill="#FFC000"/>
<rect x="171.4" y="267.3" width="8" height="8" fill="#FFC000"/>
<rect x="182.8" y="264.0" width="8" height="8" fill="#FFC000"/>
<rect x="194.2" y="261.0" width="8" height="8" fill="#FFC000"/>
<rect x="205.6" y="257.1" width="8" height="8" fill="#FFC000"/>
<rect x="217.0" y="252.0" width="8" height="8" fill="#FFC000"/>
<rect x="228.3" y="245.1" width="8" height="8" fill="#FFC000"/>
<rect x="239.7" y="230.2" width="8" height="8" fill="#FFC000"/>
<rect x="251.1" y="212.7" width="8" height="8" fill="#FFC000"/>
<rect x="262.5" y="182.3" width="8" height="8" fill="#FFC000"/>
<rect x="269.3" y="153.7" width="8" height="8" fill="#FFC000"/>
<rect x="276.2" y="119.5" width="8" height="8" fill="#FFC000"/>
<rect x="283.0" y="94.1" width="8" height="8" fill="#FFC000"/>
<rect x="287.6" y="85.4" width="8" height="8" fill="#FFC000"/>
<rect x="292.1" y="86.5" width="8" height="8" fill="#FFC000"/>
<rect x="296.7" y="96.7" width="8" height="8" fill="#FFC000"/>
<rect x="301.2" y="119.7" width="8" height="8" fill="#FFC000"/>
<rect x="305.8" y="151.1" width="8" height="8" fill="#FFC000"/>
<rect x="310.3" y="169.4" width="8" height="8" fill="#FFC000"/>
<rect x="317.2" y="191.7" width="8" height="8" fill="#FFC000"/>
<rect x="324.0" y="208.3" width="8" height="8" fill="#FFC000"/>
<rect x="330.8" y="221.4" width="8" height="8" fill="#FFC000"/>
<rect x="342.2" y="234.5" width="8" height="8" fill="#FFC000"/>
<rect x="353.6" y="245.0" width="8" height="8" fill="#FFC000"/>
<rect x="365.0" y="251.2" width="8" height="8" fill="#FFC000"/>
<rect x="376.4" y="257.1" width="8" height="8" fill="#FFC000"/>
<rect x="387.8" y="262.4" width="8" height="8" fill="#FFC000"/>
<rect x="399.2" y="265.9" width="8" height="8" fill="#FFC000"/>
<rect x="410.5" y="269.4" width="8" height="8" fill="#FFC000"/>
<rect x="421.9" y="270.8" width="8" height="8" fill="#FFC000"/>
<rect x="433.3" y="271.5" width="8" height="8" fill="#FFC000"/>
<rect x="444.7" y="272.0" width="8" height="8" fill="#FFC000"/>
<rect x="456.1" y="272.0" width="8" height="8" fill="#FFC000"/>
<rect x="467.5" y="272.0" width="8" height="8" fill="#FFC000"/>
<rect x="478.9" y="272.0" width="8" height="8" fill="#FFC000"/>
<rect x="490.3" y="272.0" width="8" height="8" fill="#FFC000"/>
<rect x="501.6" y="272.0" width="8" height="8" fill="#FFC000"/>
<rect x="513.0" y="272.0" width="8" height="8" fill="#FFC000"/>
<rect x="524.4" y="271.9" width="8" height="8" fill="#FFC000"/>
<rect x="535.8" y="271.1" width="8" height="8" fill="#FFC000"/>
<rect x="547.2" y="270.3" width="8" height="8" fill="#FFC000"/>
<rect x="558.6" y="269.0" width="8" height="8" fill="#FFC000"/>
<rect x="570.0" y="267.7" width="8" height="8" fill="#FFC000"/>
<rect x="581.4" y="265.0" width="8" height="8" fill="#FFC000"/>
<rect x="592.8" y="262.0" width="8" height="8" fill="#FFC000"/>
<rect x="604.1" y="259.2" width="8" height="8" fill="#FFC000"/>
<rect x="615.5" y="255.0" width="8" height="8" fill="#FFC000"/>
<rect x="626.9" y="249.3" width="8" height="8" fill="#FFC000"/>
<rect x="638.3" y="241.4" width="8" height="8" fill="#FFC000"/>
<circle cx="95.7" cy="297.5" r="4.05" fill="#5B9BD5"/>
<circle cx="107.1" cy="297.6" r="4.05" fill="#5B9BD5"/>
<circle cx="118.5" cy="297.7" r="4.05" fill="#5B9BD5"/>
<circle cx="129.9" cy="297.8" r="4.05" fill="#5B9BD5"/>
<circle cx="141.2" cy="297.9" r="4.05" fill="#5B9BD5"/>
<circle cx="152.6" cy="297.9" r="4.05" fill="#5B9BD5"/>
<circle cx="164.0" cy="297.5" r="4.05" fill="#5B9BD5"/>
<circle cx="175.4" cy="296.3" r="4.05" fill="#5B9BD5"/>
<circle cx="186.8" cy="293.8" r="4.05" fill="#5B9BD5"/>
<circle cx="198.2" cy="291.9" r="4.05" fill="#5B9BD5"/>
<circle cx="209.6" cy="288.7" r="4.05" fill="#5B9BD5"/>
<circle cx="221.0" cy="284.9" r="4.05" fill="#5B9BD5"/>
<circle cx="232.3" cy="280.0" r="4.05" fill="#5B9BD5"/>
<circle cx="243.7" cy="271.8" r="4.05" fill="#5B9BD5"/>
<circle cx="255.1" cy="258.8" r="4.05" fill="#5B9BD5"/>
<circle cx="266.5" cy="238.5" r="4.05" fill="#5B9BD5"/>
<circle cx="273.3" cy="216.7" r="4.05" fill="#5B9BD5"/>
<circle cx="280.2" cy="184.3" r="4.05" fill="#5B9BD5"/>
<circle cx="287.0" cy="139.0" r="4.05" fill="#5B9BD5"/>
<circle cx="291.6" cy="113.5" r="4.05" fill="#5B9BD5"/>
<circle cx="296.1" cy="103.4" r="4.05" fill="#5B9BD5"/>
<circle cx="300.7" cy="123.7" r="4.05" fill="#5B9BD5"/>
<circle cx="305.2" cy="154.3" r="4.05" fill="#5B9BD5"/>
<circle cx="309.8" cy="187.5" r="4.05" fill="#5B9BD5"/>
<circle cx="314.3" cy="213.6" r="4.05" fill="#5B9BD5"/>
<circle cx="321.2" cy="235.9" r="4.05" fill="#5B9BD5"/>
<circle cx="328.0" cy="251.2" r="4.05" fill="#5B9BD5"/>
<circle cx="334.8" cy="260.4" r="4.05" fill="#5B9BD5"/>
<circle cx="346.2" cy="270.9" r="4.05" fill="#5B9BD5"/>
<circle cx="357.6" cy="278.8" r="4.05" fill="#5B9BD5"/>
<circle cx="369.0" cy="283.6" r="4.05" fill="#5B9BD5"/>
<circle cx="380.4" cy="287.9" r="4.05" fill="#5B9BD5"/>
<circle cx="391.8" cy="291.1" r="4.05" fill="#5B9BD5"/>
<circle cx="403.2" cy="293.2" r="4.05" fill="#5B9BD5"/>
<circle cx="414.5" cy="294.9" r="4.05" fill="#5B9BD5"/>
<circle cx="425.9" cy="296.3" r="4.05" fill="#5B9BD5"/>
<circle cx="437.3" cy="297.0" r="4.05" fill="#5B9BD5"/>
<circle cx="448.7" cy="297.5" r="4.05" fill="#5B9BD5"/>
<circle cx="460.1" cy="297.6" r="4.05" fill="#5B9BD5"/>
<circle cx="471.5" cy="297.6" r="4.05" fill="#5B9BD5"/>
<circle cx="482.9" cy="297.7" r="4.05" fill="#5B9BD5"/>
<circle cx="494.3" cy="297.7" r="4.05" fill="#5B9BD5"/>
<circle cx="505.6" cy="297.7" r="4.05" fill="#5B9BD5"/>
<circle cx="517.0" cy="297.7" r="4.05" fill="#5B9BD5"/>
<circle cx="528.4" cy="297.7" r="4.05" fill="#5B9BD5"/>
<circle cx="539.8" cy="297.6" r="4.05" fill="#5B9BD5"/>
<circle cx="551.2" cy="297.6" r="4.05" fill="#5B9BD5"/>
<circle cx="562.6" cy="297.5" r="4.05" fill="#5B9BD5"/>
<circle cx="574.0" cy="297.0" r="4.05" fill="#5B9BD5"/>
<circle cx="585.4" cy="295.8" r="4.05" fill="#5B9BD5"/>
<circle cx="596.8" cy="293.5" r="4.05" fill="#5B9BD5"/>
<circle cx="608.1" cy="291.4" r="4.05" fill="#5B9BD5"/>
<circle cx="619.5" cy="287.9" r="4.05" fill="#5B9BD5"/>
<circle cx="630.9" cy="284.1" r="4.05" fill="#5B9BD5"/>
<circle cx="642.3" cy="278.8" r="4.05" fill="#5B9BD5"/>
<circle cx="95.7" cy="308.5" r="4.05" fill="#548235"/>
<circle cx="107.1" cy="308.6" r="4.05" fill="#548235"/>
<circle cx="118.5" cy="308.7" r="4.05" fill="#548235"/>
<circle cx="129.9" cy="308.7" r="4.05" fill="#548235"/>
<circle cx="141.2" cy="308.8" r="4.05" fill="#548235"/>
<circle cx="152.6" cy="308.7" r="4.05" fill="#548235"/>
<circle cx="164.0" cy="308.7" r="4.05" fill="#548235"/>
<circle cx="175.4" cy="308.4" r="4.05" fill="#548235"/>
<circle cx="186.8" cy="307.3" r="4.05" fill="#548235"/>
<circle cx="198.2" cy="305.5" r="4.05" fill="#548235"/>
<circle cx="209.6" cy="302.8" r="4.05" fill="#548235"/>
<circle cx="221.0" cy="299.8" r="4.05" fill="#548235"/>
<circle cx="232.3" cy="295.7" r="4.05" fill="#548235"/>
<circle cx="243.7" cy="288.7" r="4.05" fill="#548235"/>
<circle cx="255.1" cy="278.8" r="4.05" fill="#548235"/>
<circle cx="266.5" cy="265.0" r="4.05" fill="#548235"/>
<circle cx="273.3" cy="249.4" r="4.05" fill="#548235"/>
<circle cx="280.2" cy="221.9" r="4.05" fill="#548235"/>
<circle cx="287.0" cy="175.1" r="4.05" fill="#548235"/>
<circle cx="291.6" cy="135.8" r="4.05" fill="#548235"/>
<circle cx="296.1" cy="108.7" r="4.05" fill="#548235"/>
<circle cx="300.7" cy="136.7" r="4.05" fill="#548235"/>
<circle cx="305.2" cy="186.3" r="4.05" fill="#548235"/>
<circle cx="309.8" cy="218.4" r="4.05" fill="#548235"/>
<circle cx="314.3" cy="238.5" r="4.05" fill="#548235"/>
<circle cx="321.2" cy="257.3" r="4.05" fill="#548235"/>
<circle cx="328.0" cy="270.3" r="4.05" fill="#548235"/>
<circle cx="334.8" cy="278.5" r="4.05" fill="#548235"/>
<circle cx="346.2" cy="287.7" r="4.05" fill="#548235"/>
<circle cx="357.6" cy="293.8" r="4.05" fill="#548235"/>
<circle cx="369.0" cy="297.5" r="4.05" fill="#548235"/>
<circle cx="380.4" cy="301.0" r="4.05" fill="#548235"/>
<circle cx="391.8" cy="303.3" r="4.05" fill="#548235"/>
<circle cx="403.2" cy="305.4" r="4.05" fill="#548235"/>
<circle cx="414.5" cy="306.8" r="4.05" fill="#548235"/>
<circle cx="425.9" cy="307.3" r="4.05" fill="#548235"/>
<circle cx="437.3" cy="307.6" r="4.05" fill="#548235"/>
<circle cx="448.7" cy="307.8" r="4.05" fill="#548235"/>
<circle cx="460.1" cy="307.9" r="4.05" fill="#548235"/>
<circle cx="471.5" cy="307.9" r="4.05" fill="#548235"/>
<circle cx="482.9" cy="308.0" r="4.05" fill="#548235"/>
<circle cx="494.3" cy="308.0" r="4.05" fill="#548235"/>
<circle cx="505.6" cy="308.0" r="4.05" fill="#548235"/>
<circle cx="517.0" cy="308.0" r="4.05" fill="#548235"/>
<circle cx="528.4" cy="308.0" r="4.05" fill="#548235"/>
<circle cx="539.8" cy="308.0" r="4.05" fill="#548235"/>
<circle cx="551.2" cy="308.0" r="4.05" fill="#548235"/>
<circle cx="562.6" cy="307.9" r="4.05" fill="#548235"/>
<circle cx="574.0" cy="307.8" r="4.05" fill="#548235"/>
<circle cx="585.4" cy="307.0" r="4.05" fill="#548235"/>
<circle cx="596.8" cy="305.7" r="4.05" fill="#548235"/>
<circle cx="608.1" cy="303.6" r="4.05" fill="#548235"/>
<circle cx="619.5" cy="301.4" r="4.05" fill="#548235"/>
<circle cx="630.9" cy="298.4" r="4.05" fill="#548235"/>
<circle cx="642.3" cy="294.0" r="4.05" fill="#548235"/>
<circle cx="95.7" cy="313.9" r="4.05" fill="#000000"/>
<circle cx="107.1" cy="314.2" r="4.05" fill="#000000"/>
<circle cx="118.5" cy="314.4" r="4.05" fill="#000000"/>
<circle cx="129.9" cy="314.6" r="4.05" fill="#000000"/>
<circle cx="141.2" cy="314.7" r="4.05" fill="#000000"/>
<circle cx="152.6" cy="314.8" r="4.05" fill="#000000"/>
<circle cx="164.0" cy="314.9" r="4.05" fill="#000000"/>
<circle cx="175.4" cy="314.5" r="4.05" fill="#000000"/>
<circle cx="186.8" cy="313.3" r="4.05" fill="#000000"/>
<circle cx="198.2" cy="311.7" r="4.05" fill="#000000"/>
<circle cx="209.6" cy="309.6" r="4.05" fill="#000000"/>
<circle cx="221.0" cy="306.1" r="4.05" fill="#000000"/>
<circle cx="232.3" cy="301.8" r="4.05" fill="#000000"/>
<circle cx="243.7" cy="296.3" r="4.05" fill="#000000"/>
<circle cx="255.1" cy="287.5" r="4.05" fill="#000000"/>
<circle cx="266.5" cy="275.3" r="4.05" fill="#000000"/>
<circle cx="273.3" cy="259.5" r="4.05" fill="#000000"/>
<circle cx="280.2" cy="235.0" r="4.05" fill="#000000"/>
<circle cx="287.0" cy="190.4" r="4.05" fill="#000000"/>
<circle cx="291.6" cy="152.4" r="4.05" fill="#000000"/>
<circle cx="296.1" cy="117.0" r="4.05" fill="#000000"/>
<circle cx="300.7" cy="143.7" r="4.05" fill="#000000"/>
<circle cx="305.2" cy="195.7" r="4.05" fill="#000000"/>
<circle cx="309.8" cy="228.9" r="4.05" fill="#000000"/>
<circle cx="314.3" cy="248.2" r="4.05" fill="#000000"/>
<circle cx="321.2" cy="264.7" r="4.05" fill="#000000"/>
<circle cx="328.0" cy="277.0" r="4.05" fill="#000000"/>
<circle cx="334.8" cy="284.9" r="4.05" fill="#000000"/>
<circle cx="346.2" cy="293.6" r="4.05" fill="#000000"/>
<circle cx="357.6" cy="299.8" r="4.05" fill="#000000"/>
<circle cx="369.0" cy="303.8" r="4.05" fill="#000000"/>
<circle cx="380.4" cy="307.2" r="4.05" fill="#000000"/>
<circle cx="391.8" cy="309.8" r="4.05" fill="#000000"/>
<circle cx="403.2" cy="312.1" r="4.05" fill="#000000"/>
<circle cx="414.5" cy="313.3" r="4.05" fill="#000000"/>
<circle cx="425.9" cy="314.5" r="4.05" fill="#000000"/>
<circle cx="437.3" cy="315.4" r="4.05" fill="#000000"/>
<circle cx="448.7" cy="315.5" r="4.05" fill="#000000"/>
<circle cx="460.1" cy="315.6" r="4.05" fill="#000000"/>
<circle cx="471.5" cy="315.6" r="4.05" fill="#000000"/>
<circle cx="482.9" cy="315.6" r="4.05" fill="#000000"/>
<circle cx="494.3" cy="315.7" r="4.05" fill="#000000"/>
<circle cx="505.6" cy="315.7" r="4.05" fill="#000000"/>
<circle cx="517.0" cy="315.7" r="4.05" fill="#000000"/>
<circle cx="528.4" cy="315.6" r="4.05" fill="#000000"/>
<circle cx="539.8" cy="315.6" r="4.05" fill="#000000"/>
<circle cx="551.2" cy="315.6" r="4.05" fill="#000000"/>
<circle cx="562.6" cy="315.5" r="4.05" fill="#000000"/>
<circle cx="574.0" cy="315.5" r="4.05" fill="#000000"/>
<circle cx="585.4" cy="315.4" r="4.05" fill="#000000"/>
<circle cx="596.8" cy="314.5" r="4.05" fill="#000000"/>
<circle cx="608.1" cy="312.4" r="4.05" fill="#000000"/>
<circle cx="619.5" cy="309.8" r="4.05" fill="#000000"/>
<circle cx="630.9" cy="306.3" r="4.05" fill="#000000"/>
<circle cx="642.3" cy="301.9" r="4.05" fill="#000000"/>
<circle cx="703.8" cy="96.6" r="4.5" fill="#4472C4"/>
<text x="716.0" y="103.7" font-size="21.5" fill="#525252" textLength="43.0" lengthAdjust="spacingAndGlyphs">0.5T</text>
<circle cx="703.8" cy="140.1" r="4.5" fill="#ED7D31"/>
<text x="716.0" y="147.2" font-size="21.5" fill="#525252" textLength="25.0" lengthAdjust="spacingAndGlyphs">1T</text>
<circle cx="703.8" cy="183.6" r="4.5" fill="#A5A5A5"/>
<text x="716.0" y="190.7" font-size="21.5" fill="#525252" textLength="25.0" lengthAdjust="spacingAndGlyphs">2T</text>
<rect x="699.4" y="222.7" width="8.8" height="8.8" fill="#FFC000"/>
<text x="716.0" y="234.2" font-size="21.5" fill="#525252" textLength="25.0" lengthAdjust="spacingAndGlyphs">3T</text>
<circle cx="703.8" cy="270.6" r="4.5" fill="#5B9BD5"/>
<text x="716.0" y="277.7" font-size="21.5" fill="#525252" textLength="25.0" lengthAdjust="spacingAndGlyphs">5T</text>
<circle cx="703.8" cy="314.1" r="4.5" fill="#548235"/>
<text x="716.0" y="321.2" font-size="21.5" fill="#525252" textLength="25.0" lengthAdjust="spacingAndGlyphs">7T</text>
<circle cx="703.8" cy="357.6" r="4.5" fill="#000000"/>
<text x="716.0" y="364.7" font-size="21.5" fill="#525252" textLength="25.0" lengthAdjust="spacingAndGlyphs">8T</text></g>
<g><line x1="935.7" y1="315.3" x2="1482.3" y2="315.3" stroke="#d6d6d6" stroke-width="1.4"/>
<line x1="935.7" y1="264.2" x2="1482.3" y2="264.2" stroke="#d6d6d6" stroke-width="1.4"/>
<line x1="935.7" y1="213.1" x2="1482.3" y2="213.1" stroke="#d6d6d6" stroke-width="1.4"/>
<line x1="935.7" y1="162.0" x2="1482.3" y2="162.0" stroke="#d6d6d6" stroke-width="1.4"/>
<line x1="935.7" y1="110.9" x2="1482.3" y2="110.9" stroke="#d6d6d6" stroke-width="1.4"/>
<line x1="935.7" y1="59.8" x2="1482.3" y2="59.8" stroke="#d6d6d6" stroke-width="1.4"/>
<line x1="935.7" y1="8.7" x2="1482.3" y2="8.7" stroke="#d6d6d6" stroke-width="1.4"/>
<line x1="1004.0" y1="8.7" x2="1004.0" y2="366.4" stroke="#d6d6d6" stroke-width="1.4"/>
<line x1="1072.3" y1="8.7" x2="1072.3" y2="366.4" stroke="#d6d6d6" stroke-width="1.4"/>
<line x1="1140.7" y1="8.7" x2="1140.7" y2="366.4" stroke="#d6d6d6" stroke-width="1.4"/>
<line x1="1209.0" y1="8.7" x2="1209.0" y2="366.4" stroke="#d6d6d6" stroke-width="1.4"/>
<line x1="1277.3" y1="8.7" x2="1277.3" y2="366.4" stroke="#d6d6d6" stroke-width="1.4"/>
<line x1="1345.7" y1="8.7" x2="1345.7" y2="366.4" stroke="#d6d6d6" stroke-width="1.4"/>
<line x1="1414.0" y1="8.7" x2="1414.0" y2="366.4" stroke="#d6d6d6" stroke-width="1.4"/>
<line x1="1482.3" y1="8.7" x2="1482.3" y2="366.4" stroke="#d6d6d6" stroke-width="1.4"/>
<line x1="935.7" y1="8.7" x2="935.7" y2="366.4" stroke="#bdbdbd" stroke-width="1.4"/>
<line x1="935.7" y1="366.4" x2="1482.3" y2="366.4" stroke="#bdbdbd" stroke-width="1.4"/>
<text x="915.9" y="372.2" font-size="19" fill="#525252" text-anchor="end" textLength="11.0" lengthAdjust="spacingAndGlyphs">0</text>
<text x="915.9" y="321.1" font-size="19" fill="#525252" text-anchor="end" textLength="44.0" lengthAdjust="spacingAndGlyphs">1000</text>
<text x="915.9" y="270.0" font-size="19" fill="#525252" text-anchor="end" textLength="44.0" lengthAdjust="spacingAndGlyphs">2000</text>
<text x="915.9" y="218.9" font-size="19" fill="#525252" text-anchor="end" textLength="44.0" lengthAdjust="spacingAndGlyphs">3000</text>
<text x="915.9" y="167.8" font-size="19" fill="#525252" text-anchor="end" textLength="44.0" lengthAdjust="spacingAndGlyphs">4000</text>
<text x="915.9" y="116.7" font-size="19" fill="#525252" text-anchor="end" textLength="44.0" lengthAdjust="spacingAndGlyphs">5000</text>
<text x="915.9" y="65.6" font-size="19" fill="#525252" text-anchor="end" textLength="44.0" lengthAdjust="spacingAndGlyphs">6000</text>
<text x="915.9" y="14.5" font-size="19" fill="#525252" text-anchor="end" textLength="44.0" lengthAdjust="spacingAndGlyphs">7000</text>
<text x="935.7" y="400.7" font-size="19" fill="#525252" text-anchor="middle" textLength="11.0" lengthAdjust="spacingAndGlyphs">0</text>
<text x="1004.0" y="400.7" font-size="19" fill="#525252" text-anchor="middle" textLength="22.0" lengthAdjust="spacingAndGlyphs">30</text>
<text x="1072.3" y="400.7" font-size="19" fill="#525252" text-anchor="middle" textLength="22.0" lengthAdjust="spacingAndGlyphs">60</text>
<text x="1140.7" y="400.7" font-size="19" fill="#525252" text-anchor="middle" textLength="22.0" lengthAdjust="spacingAndGlyphs">90</text>
<text x="1209.0" y="400.7" font-size="19" fill="#525252" text-anchor="middle" textLength="33.0" lengthAdjust="spacingAndGlyphs">120</text>
<text x="1277.3" y="400.7" font-size="19" fill="#525252" text-anchor="middle" textLength="33.0" lengthAdjust="spacingAndGlyphs">150</text>
<text x="1345.7" y="400.7" font-size="19" fill="#525252" text-anchor="middle" textLength="33.0" lengthAdjust="spacingAndGlyphs">180</text>
<text x="1414.0" y="400.7" font-size="19" fill="#525252" text-anchor="middle" textLength="33.0" lengthAdjust="spacingAndGlyphs">210</text>
<text x="1482.3" y="400.7" font-size="19" fill="#525252" text-anchor="middle" textLength="33.0" lengthAdjust="spacingAndGlyphs">240</text>
<text x="1208.8" y="436.3" font-size="21.6" fill="#525252" text-anchor="middle" textLength="101.2" lengthAdjust="spacingAndGlyphs">θ (degree)</text>
<text transform="translate(857.6,187.8) rotate(-90)" font-size="20.8" fill="#525252" text-anchor="middle" textLength="116.5" lengthAdjust="spacingAndGlyphs">Ic/w (A/cm)</text>
<text x="1213.9" y="495" font-size="30.5" fill="#000" text-anchor="middle" textLength="38.2" lengthAdjust="spacingAndGlyphs">(b)</text>
<path d="M935.7,147.2 L936.8,147.1 L938.0,146.9 L939.1,146.8 L940.3,146.7 L941.4,146.5 L942.5,146.4 L943.7,146.2 L944.8,146.1 L945.9,145.9 L947.1,145.8 L948.2,145.6 L949.4,145.4 L950.5,145.2 L951.6,145.0 L952.8,144.8 L953.9,144.6 L955.1,144.3 L956.2,144.1 L957.3,143.9 L958.5,143.7 L959.6,143.4 L960.8,143.2 L961.9,143.0 L963.0,142.7 L964.2,142.5 L965.3,142.2 L966.4,141.9 L967.6,141.7 L968.7,141.4 L969.9,141.0 L971.0,140.7 L972.1,140.4 L973.3,140.0 L974.4,139.6 L975.6,139.2 L976.7,138.8 L977.8,138.3 L979.0,137.9 L980.1,137.4 L981.2,137.0 L982.4,136.6 L983.5,136.1 L984.7,135.7 L985.8,135.2 L986.9,134.8 L988.1,134.3 L989.2,133.8 L990.4,133.3 L991.5,132.8 L992.6,132.3 L993.8,131.8 L994.9,131.2 L996.1,130.7 L997.2,130.1 L998.3,129.6 L999.5,129.0 L1000.6,128.4 L1001.7,127.8 L1002.9,127.2 L1004.0,126.5 L1005.2,125.9 L1006.3,125.2 L1007.4,124.6 L1008.6,123.9 L1009.7,123.2 L1010.9,122.4 L1012.0,121.7 L1013.1,121.0 L1014.3,120.3 L1015.4,119.6 L1016.6,118.9 L1017.7,118.2 L1018.8,117.4 L1020.0,116.7 L1021.1,116.0 L1022.2,115.3 L1023.4,114.6 L1024.5,113.8 L1025.7,113.1 L1026.8,112.4 L1027.9,111.8 L1029.1,111.1 L1030.2,110.3 L1031.4,109.6 L1032.5,108.9 L1033.6,108.2 L1034.8,107.4 L1035.9,106.6 L1037.0,105.8 L1038.2,105.0 L1039.3,104.1 L1040.5,103.2 L1041.6,102.2 L1042.7,101.2 L1043.9,100.1 L1045.0,99.1 L1046.2,98.1 L1047.3,97.1 L1048.4,96.2 L1049.6,95.3 L1050.7,94.5 L1051.9,93.7 L1053.0,92.9 L1054.1,92.2 L1055.3,91.5 L1056.4,90.7 L1057.5,90.0 L1058.7,89.3 L1059.8,88.6 L1061.0,87.8 L1062.1,87.1 L1063.2,86.3 L1064.4,85.5 L1065.5,84.7 L1066.7,83.8 L1067.8,83.0 L1068.9,82.3 L1070.1,81.5 L1071.2,80.7 L1072.3,80.0 L1073.5,79.3 L1074.6,78.6 L1075.8,77.9 L1076.9,77.2 L1078.0,76.5 L1079.2,75.9 L1080.3,75.3 L1081.5,74.7 L1082.6,74.1 L1083.7,73.6 L1084.9,73.0 L1086.0,72.5 L1087.2,72.0 L1088.3,71.6 L1089.4,71.1 L1090.6,70.7 L1091.7,70.3 L1092.8,69.9 L1094.0,69.5 L1095.1,69.3 L1096.3,69.0 L1097.4,68.7 L1098.5,68.5 L1099.7,68.3 L1100.8,68.1 L1102.0,67.9 L1103.1,67.7 L1104.2,67.5 L1105.4,67.3 L1106.5,67.2 L1107.7,67.2 L1108.8,67.1 L1109.9,67.1 L1111.1,67.1 L1112.2,67.0 L1113.3,67.0 L1114.5,67.0 L1115.6,67.0 L1116.8,67.0 L1117.9,67.0 L1119.0,67.0 L1120.2,67.0 L1121.3,67.1 L1122.5,67.2 L1123.6,67.4 L1124.7,67.5 L1125.9,67.7 L1127.0,67.9 L1128.1,68.1 L1129.3,68.2 L1130.4,68.4 L1131.6,68.6 L1132.7,68.9 L1133.8,69.1 L1135.0,69.4 L1136.1,69.7 L1137.3,70.0 L1138.4,70.3 L1139.5,70.7 L1140.7,71.0 L1141.8,71.4 L1143.0,71.8 L1144.1,72.3 L1145.2,72.8 L1146.4,73.3 L1147.5,73.8 L1148.6,74.4 L1149.8,74.9 L1150.9,75.5 L1152.1,76.2 L1153.2,76.8 L1154.3,77.5 L1155.5,78.3 L1156.6,79.1 L1157.8,80.0 L1158.9,80.9 L1160.0,81.7 L1161.2,82.6 L1162.3,83.5 L1163.5,84.3 L1164.6,85.2 L1165.7,86.0 L1166.9,86.8 L1168.0,87.7 L1169.1,88.5 L1170.3,89.4 L1171.4,90.2 L1172.6,91.1 L1173.7,91.9 L1174.8,92.8 L1176.0,93.6 L1177.1,94.5 L1178.3,95.4 L1179.4,96.3 L1180.5,97.1 L1181.7,98.0 L1182.8,98.9 L1183.9,99.8 L1185.1,100.6 L1186.2,101.4 L1187.4,102.3 L1188.5,103.1 L1189.6,103.9 L1190.8,104.7 L1191.9,105.5 L1193.1,106.2 L1194.2,107.0 L1195.3,107.8 L1196.5,108.6 L1197.6,109.4 L1198.8,110.2 L1199.9,111.0 L1201.0,111.8 L1202.2,112.6 L1203.3,113.4 L1204.4,114.2 L1205.6,115.0 L1206.7,115.7 L1207.9,116.5 L1209.0,117.1 L1210.1,117.8 L1211.3,118.4 L1212.4,118.9 L1213.6,119.5 L1214.7,120.0 L1215.8,120.6 L1217.0,121.1 L1218.1,121.7 L1219.2,122.3 L1220.4,122.9 L1221.5,123.6 L1222.7,124.3 L1223.8,125.1 L1224.9,125.8 L1226.1,126.6 L1227.2,127.4 L1228.4,128.2 L1229.5,128.9 L1230.6,129.7 L1231.8,130.3 L1232.9,130.9 L1234.1,131.6 L1235.2,132.2 L1236.3,132.8 L1237.5,133.4 L1238.6,133.9 L1239.7,134.5 L1240.9,135.0 L1242.0,135.4 L1243.2,135.8 L1244.3,136.2 L1245.4,136.6 L1246.6,136.9 L1247.7,137.2 L1248.9,137.5 L1250.0,137.8 L1251.1,138.1 L1252.3,138.4 L1253.4,138.7 L1254.5,139.0 L1255.7,139.3 L1256.8,139.6 L1258.0,139.9 L1259.1,140.2 L1260.2,140.6 L1261.4,140.9 L1262.5,141.2 L1263.7,141.5 L1264.8,141.8 L1265.9,142.2 L1267.1,142.5 L1268.2,142.9 L1269.4,143.3 L1270.5,143.7 L1271.6,144.2 L1272.8,144.6 L1273.9,145.0 L1275.0,145.3 L1276.2,145.6 L1277.3,145.9 L1278.5,146.1 L1279.6,146.3 L1280.7,146.5 L1281.9,146.7 L1283.0,146.8 L1284.2,147.0 L1285.3,147.1 L1286.4,147.3 L1287.6,147.5 L1288.7,147.7 L1289.9,147.9 L1291.0,148.2 L1292.1,148.5 L1293.3,148.8 L1294.4,149.2 L1295.5,149.5 L1296.7,149.8 L1297.8,150.1 L1299.0,150.3 L1300.1,150.6 L1301.2,150.7 L1302.4,150.9 L1303.5,151.1 L1304.7,151.3 L1305.8,151.4 L1306.9,151.6 L1308.1,151.7 L1309.2,151.8 L1310.3,151.9 L1311.5,151.9 L1312.6,151.9 L1313.8,151.9 L1314.9,151.9 L1316.0,151.8 L1317.2,151.8 L1318.3,151.8 L1319.5,151.8 L1320.6,151.8 L1321.7,151.8 L1322.9,151.8 L1324.0,151.8 L1325.2,151.8 L1326.3,151.8 L1327.4,151.8 L1328.6,151.8 L1329.7,151.8 L1330.8,151.8 L1332.0,151.8 L1333.1,151.8 L1334.3,151.8 L1335.4,151.8 L1336.5,151.7 L1337.7,151.7 L1338.8,151.6 L1340.0,151.5 L1341.1,151.4 L1342.2,151.3 L1343.4,151.2 L1344.5,151.0 L1345.7,150.9 L1346.8,150.7 L1347.9,150.5 L1349.1,150.3 L1350.2,150.0 L1351.3,149.6 L1352.5,149.3 L1353.6,149.0 L1354.8,148.7 L1355.9,148.4 L1357.0,148.1 L1358.2,147.9 L1359.3,147.6 L1360.5,147.4 L1361.6,147.2 L1362.7,147.0 L1363.9,146.8 L1365.0,146.6 L1366.1,146.4 L1367.3,146.1 L1368.4,145.9 L1369.6,145.7 L1370.7,145.4 L1371.8,145.2 L1373.0,144.9 L1374.1,144.7 L1375.3,144.4 L1376.4,144.1 L1377.5,143.9 L1378.7,143.6 L1379.8,143.3 L1381.0,143.0 L1382.1,142.7 L1383.2,142.4 L1384.4,142.2 L1385.5,141.9 L1386.6,141.6 L1387.8,141.2 L1388.9,140.9 L1390.1,140.5 L1391.2,140.1 L1392.3,139.7 L1393.5,139.2 L1394.6,138.7 L1395.8,138.1 L1396.9,137.5 L1398.0,136.9 L1399.2,136.3 L1400.3,135.7 L1401.4,135.1 L1402.6,134.6 L1403.7,134.0 L1404.9,133.5 L1406.0,133.1 L1407.1,132.6 L1408.3,132.1 L1409.4,131.6 L1410.6,131.1 L1411.7,130.6 L1412.8,130.1 L1414.0,129.6 L1415.1,129.0 L1416.3,128.3 L1417.4,127.7 L1418.5,127.0 L1419.7,126.3 L1420.8,125.6 L1421.9,124.9 L1423.1,124.3 L1424.2,123.6 L1425.4,122.9 L1426.5,122.3 L1427.6,121.6 L1428.8,121.0 L1429.9,120.4 L1431.1,119.7 L1432.2,119.1 L1433.3,118.5 L1434.5,117.8 L1435.6,117.1 L1436.8,116.4 L1437.9,115.7 L1439.0,114.9 L1440.2,114.1 L1441.3,113.3 L1442.4,112.5 L1443.6,111.7 L1444.7,110.9 L1445.9,110.0 L1447.0,109.2 L1448.1,108.4 L1449.3,107.6 L1450.4,106.8 L1451.6,105.9 L1452.7,105.1 L1453.8,104.3 L1455.0,103.5 L1456.1,102.6 L1457.2,101.8 L1458.4,101.0 L1459.5,100.2 L1460.7,99.3 L1461.8,98.5 L1462.9,97.6 L1464.1,96.8 L1465.2,95.9 L1466.4,95.1 L1467.5,94.3 L1468.6,93.5 L1469.8,92.7 L1470.9,91.9 L1472.1,91.1 L1473.2,90.4 L1474.3,89.7 L1475.5,88.9 L1476.6,88.2 L1477.7,87.5 L1478.9,86.9 L1480.0,86.2 L1481.2,85.5 L1482.3,84.9" fill="none" stroke="#4472C4" stroke-width="3.4" stroke-linejoin="round" stroke-linecap="round"/>
<path d="M935.7,204.9 L936.8,204.9 L938.0,204.9 L939.1,204.9 L940.3,204.9 L941.4,204.8 L942.5,204.8 L943.7,204.8 L944.8,204.7 L945.9,204.7 L947.1,204.7 L948.2,204.6 L949.4,204.5 L950.5,204.4 L951.6,204.3 L952.8,204.2 L953.9,204.0 L955.1,203.8 L956.2,203.7 L957.3,203.5 L958.5,203.4 L959.6,203.2 L960.8,203.1 L961.9,203.0 L963.0,202.8 L964.2,202.7 L965.3,202.5 L966.4,202.4 L967.6,202.2 L968.7,202.0 L969.9,201.8 L971.0,201.6 L972.1,201.4 L973.3,201.1 L974.4,200.9 L975.6,200.6 L976.7,200.3 L977.8,200.0 L979.0,199.7 L980.1,199.4 L981.2,199.1 L982.4,198.9 L983.5,198.6 L984.7,198.3 L985.8,198.0 L986.9,197.7 L988.1,197.5 L989.2,197.2 L990.4,196.8 L991.5,196.5 L992.6,196.2 L993.8,195.8 L994.9,195.5 L996.1,195.1 L997.2,194.7 L998.3,194.3 L999.5,193.9 L1000.6,193.5 L1001.7,193.0 L1002.9,192.6 L1004.0,192.1 L1005.2,191.7 L1006.3,191.2 L1007.4,190.7 L1008.6,190.2 L1009.7,189.7 L1010.9,189.1 L1012.0,188.6 L1013.1,188.0 L1014.3,187.5 L1015.4,186.9 L1016.6,186.3 L1017.7,185.7 L1018.8,185.1 L1020.0,184.5 L1021.1,183.8 L1022.2,183.2 L1023.4,182.5 L1024.5,181.8 L1025.7,181.1 L1026.8,180.4 L1027.9,179.7 L1029.1,178.9 L1030.2,178.1 L1031.4,177.3 L1032.5,176.5 L1033.6,175.6 L1034.8,174.7 L1035.9,173.8 L1037.0,172.9 L1038.2,172.0 L1039.3,171.1 L1040.5,170.1 L1041.6,169.1 L1042.7,168.1 L1043.9,167.0 L1045.0,166.0 L1046.2,164.9 L1047.3,163.8 L1048.4,162.6 L1049.6,161.5 L1050.7,160.3 L1051.9,159.1 L1053.0,157.8 L1054.1,156.6 L1055.3,155.3 L1056.4,153.9 L1057.5,152.6 L1058.7,151.2 L1059.8,149.8 L1061.0,148.4 L1062.1,147.0 L1063.2,145.5 L1064.4,144.0 L1065.5,142.5 L1066.7,140.9 L1067.8,139.4 L1068.9,137.8 L1070.1,136.1 L1071.2,134.5 L1072.3,132.8 L1073.5,131.0 L1074.6,129.2 L1075.8,127.4 L1076.9,125.5 L1078.0,123.6 L1079.2,121.7 L1080.3,119.7 L1081.5,117.8 L1082.6,115.8 L1083.7,113.9 L1084.9,112.0 L1086.0,110.0 L1087.2,108.0 L1088.3,105.9 L1089.4,103.9 L1090.6,101.9 L1091.7,99.9 L1092.8,98.1 L1094.0,96.3 L1095.1,94.5 L1096.3,92.9 L1097.4,91.3 L1098.5,89.7 L1099.7,88.2 L1100.8,86.7 L1102.0,85.3 L1103.1,83.9 L1104.2,82.6 L1105.4,81.4 L1106.5,80.2 L1107.7,79.1 L1108.8,78.1 L1109.9,77.1 L1111.1,76.1 L1112.2,75.3 L1113.3,74.6 L1114.5,74.0 L1115.6,73.4 L1116.8,72.8 L1117.9,72.3 L1119.0,72.0 L1120.2,71.8 L1121.3,71.7 L1122.5,71.7 L1123.6,71.6 L1124.7,71.6 L1125.9,71.6 L1127.0,71.6 L1128.1,71.6 L1129.3,71.9 L1130.4,72.2 L1131.6,72.6 L1132.7,73.0 L1133.8,73.6 L1135.0,74.3 L1136.1,75.1 L1137.3,76.1 L1138.4,77.3 L1139.5,78.7 L1140.7,80.2 L1141.8,82.1 L1143.0,84.4 L1144.1,86.8 L1145.2,88.9 L1146.4,90.7 L1147.5,92.3 L1148.6,93.9 L1149.8,95.6 L1150.9,97.5 L1152.1,99.5 L1153.2,101.4 L1154.3,103.2 L1155.5,104.8 L1156.6,106.2 L1157.8,107.6 L1158.9,109.0 L1160.0,110.3 L1161.2,111.8 L1162.3,113.4 L1163.5,115.0 L1164.6,116.7 L1165.7,118.4 L1166.9,120.1 L1168.0,121.8 L1169.1,123.5 L1170.3,125.3 L1171.4,127.1 L1172.6,128.9 L1173.7,130.6 L1174.8,132.3 L1176.0,133.9 L1177.1,135.5 L1178.3,137.0 L1179.4,138.5 L1180.5,140.0 L1181.7,141.4 L1182.8,142.9 L1183.9,144.3 L1185.1,145.7 L1186.2,147.2 L1187.4,148.6 L1188.5,150.1 L1189.6,151.6 L1190.8,153.0 L1191.9,154.5 L1193.1,155.9 L1194.2,157.3 L1195.3,158.6 L1196.5,159.9 L1197.6,161.2 L1198.8,162.4 L1199.9,163.5 L1201.0,164.7 L1202.2,165.8 L1203.3,166.8 L1204.4,167.9 L1205.6,168.9 L1206.7,169.9 L1207.9,170.9 L1209.0,171.8 L1210.1,172.7 L1211.3,173.7 L1212.4,174.5 L1213.6,175.4 L1214.7,176.3 L1215.8,177.1 L1217.0,177.9 L1218.1,178.7 L1219.2,179.5 L1220.4,180.3 L1221.5,181.1 L1222.7,181.8 L1223.8,182.5 L1224.9,183.3 L1226.1,184.0 L1227.2,184.7 L1228.4,185.3 L1229.5,186.0 L1230.6,186.7 L1231.8,187.3 L1232.9,187.9 L1234.1,188.5 L1235.2,189.1 L1236.3,189.7 L1237.5,190.2 L1238.6,190.8 L1239.7,191.3 L1240.9,191.9 L1242.0,192.4 L1243.2,192.9 L1244.3,193.4 L1245.4,193.9 L1246.6,194.4 L1247.7,194.9 L1248.9,195.4 L1250.0,195.9 L1251.1,196.4 L1252.3,196.8 L1253.4,197.2 L1254.5,197.6 L1255.7,198.0 L1256.8,198.3 L1258.0,198.7 L1259.1,199.0 L1260.2,199.3 L1261.4,199.6 L1262.5,199.9 L1263.7,200.2 L1264.8,200.5 L1265.9,200.8 L1267.1,201.1 L1268.2,201.4 L1269.4,201.7 L1270.5,202.1 L1271.6,202.4 L1272.8,202.7 L1273.9,203.0 L1275.0,203.3 L1276.2,203.5 L1277.3,203.7 L1278.5,204.0 L1279.6,204.2 L1280.7,204.3 L1281.9,204.5 L1283.0,204.7 L1284.2,204.9 L1285.3,205.0 L1286.4,205.2 L1287.6,205.3 L1288.7,205.5 L1289.9,205.6 L1291.0,205.8 L1292.1,206.0 L1293.3,206.1 L1294.4,206.3 L1295.5,206.4 L1296.7,206.5 L1297.8,206.7 L1299.0,206.8 L1300.1,206.9 L1301.2,207.0 L1302.4,207.1 L1303.5,207.2 L1304.7,207.3 L1305.8,207.4 L1306.9,207.5 L1308.1,207.6 L1309.2,207.6 L1310.3,207.7 L1311.5,207.8 L1312.6,207.9 L1313.8,207.9 L1314.9,208.0 L1316.0,208.1 L1317.2,208.1 L1318.3,208.2 L1319.5,208.2 L1320.6,208.3 L1321.7,208.3 L1322.9,208.3 L1324.0,208.3 L1325.2,208.3 L1326.3,208.2 L1327.4,208.2 L1328.6,208.1 L1329.7,208.1 L1330.8,208.0 L1332.0,207.9 L1333.1,207.9 L1334.3,207.8 L1335.4,207.7 L1336.5,207.6 L1337.7,207.6 L1338.8,207.5 L1340.0,207.4 L1341.1,207.3 L1342.2,207.2 L1343.4,207.1 L1344.5,207.0 L1345.7,206.9 L1346.8,206.8 L1347.9,206.7 L1349.1,206.7 L1350.2,206.6 L1351.3,206.5 L1352.5,206.4 L1353.6,206.3 L1354.8,206.2 L1355.9,206.1 L1357.0,206.0 L1358.2,205.9 L1359.3,205.7 L1360.5,205.6 L1361.6,205.4 L1362.7,205.2 L1363.9,205.1 L1365.0,204.9 L1366.1,204.7 L1367.3,204.5 L1368.4,204.3 L1369.6,204.0 L1370.7,203.8 L1371.8,203.6 L1373.0,203.3 L1374.1,203.0 L1375.3,202.7 L1376.4,202.5 L1377.5,202.2 L1378.7,201.9 L1379.8,201.7 L1381.0,201.4 L1382.1,201.1 L1383.2,200.9 L1384.4,200.6 L1385.5,200.4 L1386.6,200.1 L1387.8,199.9 L1388.9,199.6 L1390.1,199.3 L1391.2,199.0 L1392.3,198.8 L1393.5,198.5 L1394.6,198.2 L1395.8,197.9 L1396.9,197.7 L1398.0,197.4 L1399.2,197.1 L1400.3,196.7 L1401.4,196.4 L1402.6,196.0 L1403.7,195.6 L1404.9,195.2 L1406.0,194.7 L1407.1,194.2 L1408.3,193.7 L1409.4,193.2 L1410.6,192.7 L1411.7,192.2 L1412.8,191.7 L1414.0,191.2 L1415.1,190.7 L1416.3,190.3 L1417.4,189.9 L1418.5,189.5 L1419.7,189.0 L1420.8,188.6 L1421.9,188.2 L1423.1,187.7 L1424.2,187.3 L1425.4,186.8 L1426.5,186.3 L1427.6,185.7 L1428.8,185.1 L1429.9,184.5 L1431.1,183.9 L1432.2,183.3 L1433.3,182.6 L1434.5,182.0 L1435.6,181.3 L1436.8,180.7 L1437.9,180.0 L1439.0,179.3 L1440.2,178.6 L1441.3,177.9 L1442.4,177.2 L1443.6,176.4 L1444.7,175.7 L1445.9,174.9 L1447.0,174.1 L1448.1,173.3 L1449.3,172.4 L1450.4,171.6 L1451.6,170.6 L1452.7,169.7 L1453.8,168.7 L1455.0,167.7 L1456.1,166.7 L1457.2,165.7 L1458.4,164.7 L1459.5,163.7 L1460.7,162.7 L1461.8,161.6 L1462.9,160.5 L1464.1,159.5 L1465.2,158.4 L1466.4,157.3 L1467.5,156.1 L1468.6,155.0 L1469.8,153.8 L1470.9,152.6 L1472.1,151.4 L1473.2,150.2 L1474.3,148.9 L1475.5,147.7 L1476.6,146.4 L1477.7,145.0 L1478.9,143.7 L1480.0,142.3 L1481.2,140.9 L1482.3,139.5" fill="none" stroke="#ED7D31" stroke-width="3.4" stroke-linejoin="round" stroke-linecap="round"/>
<path d="M935.7,254.4 L936.8,254.4 L938.0,254.4 L939.1,254.4 L940.3,254.4 L941.4,254.4 L942.5,254.4 L943.7,254.4 L944.8,254.4 L945.9,254.4 L947.1,254.4 L948.2,254.4 L949.4,254.4 L950.5,254.4 L951.6,254.3 L952.8,254.3 L953.9,254.2 L955.1,254.2 L956.2,254.1 L957.3,254.1 L958.5,254.0 L959.6,254.0 L960.8,253.9 L961.9,253.9 L963.0,253.8 L964.2,253.7 L965.3,253.7 L966.4,253.6 L967.6,253.5 L968.7,253.5 L969.9,253.4 L971.0,253.3 L972.1,253.2 L973.3,253.1 L974.4,253.0 L975.6,252.9 L976.7,252.9 L977.8,252.7 L979.0,252.6 L980.1,252.5 L981.2,252.4 L982.4,252.3 L983.5,252.1 L984.7,251.9 L985.8,251.7 L986.9,251.5 L988.1,251.2 L989.2,251.0 L990.4,250.7 L991.5,250.5 L992.6,250.2 L993.8,249.9 L994.9,249.6 L996.1,249.2 L997.2,248.9 L998.3,248.5 L999.5,248.2 L1000.6,247.8 L1001.7,247.5 L1002.9,247.1 L1004.0,246.8 L1005.2,246.5 L1006.3,246.1 L1007.4,245.8 L1008.6,245.5 L1009.7,245.1 L1010.9,244.8 L1012.0,244.5 L1013.1,244.1 L1014.3,243.7 L1015.4,243.4 L1016.6,243.0 L1017.7,242.6 L1018.8,242.2 L1020.0,241.8 L1021.1,241.4 L1022.2,241.0 L1023.4,240.6 L1024.5,240.3 L1025.7,239.9 L1026.8,239.5 L1027.9,239.1 L1029.1,238.6 L1030.2,238.2 L1031.4,237.8 L1032.5,237.3 L1033.6,236.8 L1034.8,236.3 L1035.9,235.8 L1037.0,235.3 L1038.2,234.7 L1039.3,234.2 L1040.5,233.5 L1041.6,232.9 L1042.7,232.2 L1043.9,231.5 L1045.0,230.8 L1046.2,230.0 L1047.3,229.3 L1048.4,228.5 L1049.6,227.8 L1050.7,227.0 L1051.9,226.2 L1053.0,225.4 L1054.1,224.6 L1055.3,223.8 L1056.4,223.0 L1057.5,222.2 L1058.7,221.3 L1059.8,220.4 L1061.0,219.5 L1062.1,218.6 L1063.2,217.6 L1064.4,216.7 L1065.5,215.7 L1066.7,214.7 L1067.8,213.7 L1068.9,212.6 L1070.1,211.5 L1071.2,210.3 L1072.3,209.0 L1073.5,207.7 L1074.6,206.3 L1075.8,204.8 L1076.9,203.3 L1078.0,201.7 L1079.2,200.0 L1080.3,198.2 L1081.5,196.4 L1082.6,194.5 L1083.7,192.6 L1084.9,190.6 L1086.0,188.5 L1087.2,186.4 L1088.3,184.1 L1089.4,181.8 L1090.6,179.4 L1091.7,176.9 L1092.8,174.3 L1094.0,171.6 L1095.1,168.9 L1096.3,165.9 L1097.4,162.8 L1098.5,159.6 L1099.7,156.2 L1100.8,152.6 L1102.0,149.0 L1103.1,145.4 L1104.2,141.7 L1105.4,137.9 L1106.5,134.3 L1107.7,130.5 L1108.8,126.5 L1109.9,122.6 L1111.1,118.6 L1112.2,114.8 L1113.3,111.3 L1114.5,107.8 L1115.6,104.3 L1116.8,101.0 L1117.9,97.8 L1119.0,95.1 L1120.2,92.7 L1121.3,90.6 L1122.5,88.5 L1123.6,86.5 L1124.7,84.8 L1125.9,83.7 L1127.0,83.3 L1128.1,83.3 L1129.3,83.3 L1130.4,83.3 L1131.6,83.3 L1132.7,83.8 L1133.8,84.9 L1135.0,86.4 L1136.1,87.9 L1137.3,89.5 L1138.4,91.3 L1139.5,93.3 L1140.7,95.6 L1141.8,98.2 L1143.0,101.3 L1144.1,104.7 L1145.2,108.3 L1146.4,112.5 L1147.5,117.1 L1148.6,121.8 L1149.8,126.2 L1150.9,130.4 L1152.1,134.4 L1153.2,138.3 L1154.3,141.9 L1155.5,145.4 L1156.6,148.8 L1157.8,152.0 L1158.9,155.2 L1160.0,158.2 L1161.2,161.1 L1162.3,164.0 L1163.5,166.7 L1164.6,169.3 L1165.7,171.9 L1166.9,174.4 L1168.0,176.9 L1169.1,179.5 L1170.3,182.0 L1171.4,184.5 L1172.6,187.0 L1173.7,189.2 L1174.8,191.3 L1176.0,193.2 L1177.1,194.9 L1178.3,196.6 L1179.4,198.2 L1180.5,199.8 L1181.7,201.3 L1182.8,202.7 L1183.9,204.2 L1185.1,205.6 L1186.2,207.0 L1187.4,208.5 L1188.5,209.9 L1189.6,211.3 L1190.8,212.7 L1191.9,214.1 L1193.1,215.4 L1194.2,216.7 L1195.3,217.9 L1196.5,219.1 L1197.6,220.2 L1198.8,221.2 L1199.9,222.2 L1201.0,223.1 L1202.2,224.0 L1203.3,224.9 L1204.4,225.7 L1205.6,226.5 L1206.7,227.3 L1207.9,228.1 L1209.0,228.9 L1210.1,229.7 L1211.3,230.4 L1212.4,231.1 L1213.6,231.9 L1214.7,232.6 L1215.8,233.2 L1217.0,233.9 L1218.1,234.6 L1219.2,235.2 L1220.4,235.8 L1221.5,236.4 L1222.7,236.9 L1223.8,237.5 L1224.9,238.0 L1226.1,238.6 L1227.2,239.1 L1228.4,239.6 L1229.5,240.1 L1230.6,240.5 L1231.8,241.0 L1232.9,241.4 L1234.1,241.9 L1235.2,242.3 L1236.3,242.7 L1237.5,243.1 L1238.6,243.5 L1239.7,243.9 L1240.9,244.3 L1242.0,244.7 L1243.2,245.0 L1244.3,245.4 L1245.4,245.8 L1246.6,246.1 L1247.7,246.5 L1248.9,246.8 L1250.0,247.2 L1251.1,247.5 L1252.3,247.8 L1253.4,248.1 L1254.5,248.4 L1255.7,248.7 L1256.8,249.0 L1258.0,249.3 L1259.1,249.6 L1260.2,249.9 L1261.4,250.1 L1262.5,250.4 L1263.7,250.6 L1264.8,250.8 L1265.9,251.0 L1267.1,251.2 L1268.2,251.3 L1269.4,251.5 L1270.5,251.6 L1271.6,251.8 L1272.8,251.9 L1273.9,252.0 L1275.0,252.1 L1276.2,252.3 L1277.3,252.4 L1278.5,252.5 L1279.6,252.7 L1280.7,252.9 L1281.9,253.0 L1283.0,253.2 L1284.2,253.4 L1285.3,253.6 L1286.4,253.7 L1287.6,253.9 L1288.7,254.0 L1289.9,254.2 L1291.0,254.3 L1292.1,254.4 L1293.3,254.6 L1294.4,254.7 L1295.5,254.8 L1296.7,254.9 L1297.8,255.0 L1299.0,255.1 L1300.1,255.2 L1301.2,255.4 L1302.4,255.5 L1303.5,255.6 L1304.7,255.7 L1305.8,255.8 L1306.9,255.9 L1308.1,255.9 L1309.2,256.0 L1310.3,256.0 L1311.5,256.0 L1312.6,256.0 L1313.8,256.0 L1314.9,256.0 L1316.0,256.0 L1317.2,256.0 L1318.3,256.0 L1319.5,256.0 L1320.6,256.0 L1321.7,256.0 L1322.9,256.0 L1324.0,256.0 L1325.2,256.0 L1326.3,256.0 L1327.4,256.0 L1328.6,256.0 L1329.7,256.0 L1330.8,256.0 L1332.0,256.0 L1333.1,256.0 L1334.3,256.0 L1335.4,256.0 L1336.5,256.0 L1337.7,256.0 L1338.8,256.0 L1340.0,255.9 L1341.1,255.9 L1342.2,255.9 L1343.4,255.8 L1344.5,255.8 L1345.7,255.7 L1346.8,255.7 L1347.9,255.6 L1349.1,255.5 L1350.2,255.4 L1351.3,255.3 L1352.5,255.2 L1353.6,255.1 L1354.8,255.0 L1355.9,254.9 L1357.0,254.8 L1358.2,254.7 L1359.3,254.6 L1360.5,254.5 L1361.6,254.4 L1362.7,254.3 L1363.9,254.2 L1365.0,254.2 L1366.1,254.1 L1367.3,254.0 L1368.4,253.9 L1369.6,253.8 L1370.7,253.7 L1371.8,253.6 L1373.0,253.5 L1374.1,253.4 L1375.3,253.2 L1376.4,253.1 L1377.5,253.0 L1378.7,252.9 L1379.8,252.8 L1381.0,252.6 L1382.1,252.5 L1383.2,252.3 L1384.4,252.1 L1385.5,252.0 L1386.6,251.8 L1387.8,251.6 L1388.9,251.4 L1390.1,251.2 L1391.2,251.1 L1392.3,250.9 L1393.5,250.7 L1394.6,250.5 L1395.8,250.3 L1396.9,250.1 L1398.0,249.9 L1399.2,249.6 L1400.3,249.4 L1401.4,249.1 L1402.6,248.9 L1403.7,248.6 L1404.9,248.3 L1406.0,248.0 L1407.1,247.7 L1408.3,247.4 L1409.4,247.1 L1410.6,246.8 L1411.7,246.4 L1412.8,246.1 L1414.0,245.8 L1415.1,245.5 L1416.3,245.1 L1417.4,244.8 L1418.5,244.4 L1419.7,244.0 L1420.8,243.6 L1421.9,243.2 L1423.1,242.8 L1424.2,242.4 L1425.4,242.0 L1426.5,241.6 L1427.6,241.2 L1428.8,240.9 L1429.9,240.5 L1431.1,240.1 L1432.2,239.7 L1433.3,239.3 L1434.5,238.9 L1435.6,238.5 L1436.8,238.1 L1437.9,237.7 L1439.0,237.3 L1440.2,236.9 L1441.3,236.4 L1442.4,236.0 L1443.6,235.5 L1444.7,235.0 L1445.9,234.4 L1447.0,233.9 L1448.1,233.4 L1449.3,232.8 L1450.4,232.2 L1451.6,231.5 L1452.7,230.8 L1453.8,230.1 L1455.0,229.4 L1456.1,228.7 L1457.2,227.9 L1458.4,227.2 L1459.5,226.4 L1460.7,225.7 L1461.8,224.9 L1462.9,224.2 L1464.1,223.4 L1465.2,222.6 L1466.4,221.8 L1467.5,221.0 L1468.6,220.2 L1469.8,219.3 L1470.9,218.5 L1472.1,217.6 L1473.2,216.7 L1474.3,215.7 L1475.5,214.8 L1476.6,213.8 L1477.7,212.8 L1478.9,211.8 L1480.0,210.7 L1481.2,209.7 L1482.3,208.6" fill="none" stroke="#A5A5A5" stroke-width="3.4" stroke-linejoin="round" stroke-linecap="round"/>
<path d="M935.7,275.8 L936.8,275.8 L938.0,275.8 L939.1,275.8 L940.3,275.8 L941.4,275.8 L942.5,275.8 L943.7,275.8 L944.8,275.8 L945.9,275.8 L947.1,275.8 L948.2,275.8 L949.4,275.8 L950.5,275.8 L951.6,275.8 L952.8,275.8 L953.9,275.8 L955.1,275.8 L956.2,275.8 L957.3,275.8 L958.5,275.8 L959.6,275.8 L960.8,275.8 L961.9,275.8 L963.0,275.8 L964.2,275.8 L965.3,275.8 L966.4,275.7 L967.6,275.7 L968.7,275.7 L969.9,275.7 L971.0,275.7 L972.1,275.7 L973.3,275.6 L974.4,275.6 L975.6,275.6 L976.7,275.6 L977.8,275.5 L979.0,275.5 L980.1,275.5 L981.2,275.4 L982.4,275.4 L983.5,275.3 L984.7,275.3 L985.8,275.2 L986.9,275.1 L988.1,275.1 L989.2,275.0 L990.4,274.9 L991.5,274.8 L992.6,274.7 L993.8,274.6 L994.9,274.4 L996.1,274.3 L997.2,274.2 L998.3,274.0 L999.5,273.9 L1000.6,273.7 L1001.7,273.5 L1002.9,273.4 L1004.0,273.2 L1005.2,273.0 L1006.3,272.8 L1007.4,272.6 L1008.6,272.4 L1009.7,272.2 L1010.9,272.0 L1012.0,271.8 L1013.1,271.5 L1014.3,271.2 L1015.4,270.9 L1016.6,270.6 L1017.7,270.3 L1018.8,269.9 L1020.0,269.5 L1021.1,269.1 L1022.2,268.7 L1023.4,268.3 L1024.5,267.8 L1025.7,267.4 L1026.8,267.0 L1027.9,266.7 L1029.1,266.3 L1030.2,265.9 L1031.4,265.6 L1032.5,265.2 L1033.6,264.9 L1034.8,264.5 L1035.9,264.2 L1037.0,263.8 L1038.2,263.4 L1039.3,263.1 L1040.5,262.7 L1041.6,262.3 L1042.7,261.9 L1043.9,261.5 L1045.0,261.1 L1046.2,260.6 L1047.3,260.2 L1048.4,259.7 L1049.6,259.3 L1050.7,258.8 L1051.9,258.3 L1053.0,257.8 L1054.1,257.3 L1055.3,256.8 L1056.4,256.2 L1057.5,255.7 L1058.7,255.1 L1059.8,254.5 L1061.0,253.9 L1062.1,253.3 L1063.2,252.7 L1064.4,252.1 L1065.5,251.5 L1066.7,250.8 L1067.8,250.1 L1068.9,249.4 L1070.1,248.6 L1071.2,247.7 L1072.3,246.8 L1073.5,245.8 L1074.6,244.5 L1075.8,243.2 L1076.9,241.7 L1078.0,240.1 L1079.2,238.4 L1080.3,236.7 L1081.5,235.0 L1082.6,233.3 L1083.7,231.7 L1084.9,230.1 L1086.0,228.5 L1087.2,226.9 L1088.3,225.3 L1089.4,223.6 L1090.6,221.9 L1091.7,220.2 L1092.8,218.3 L1094.0,216.3 L1095.1,214.1 L1096.3,211.8 L1097.4,209.4 L1098.5,206.8 L1099.7,204.1 L1100.8,201.3 L1102.0,198.3 L1103.1,195.2 L1104.2,191.9 L1105.4,188.5 L1106.5,185.0 L1107.7,181.2 L1108.8,176.9 L1109.9,172.3 L1111.1,167.5 L1112.2,162.5 L1113.3,157.4 L1114.5,152.0 L1115.6,146.3 L1116.8,140.3 L1117.9,134.4 L1119.0,128.7 L1120.2,123.5 L1121.3,118.7 L1122.5,113.9 L1123.6,109.3 L1124.7,105.1 L1125.9,101.3 L1127.0,98.1 L1128.1,95.2 L1129.3,92.4 L1130.4,90.3 L1131.6,89.4 L1132.7,89.5 L1133.8,89.7 L1135.0,90.0 L1136.1,90.5 L1137.3,91.7 L1138.4,94.0 L1139.5,97.2 L1140.7,100.7 L1141.8,105.0 L1143.0,110.6 L1144.1,117.0 L1145.2,123.7 L1146.4,131.2 L1147.5,139.8 L1148.6,148.1 L1149.8,155.1 L1150.9,160.4 L1152.1,165.1 L1153.2,169.3 L1154.3,173.4 L1155.5,177.5 L1156.6,181.4 L1157.8,185.3 L1158.9,188.9 L1160.0,192.4 L1161.2,195.7 L1162.3,198.8 L1163.5,201.7 L1164.6,204.5 L1165.7,207.2 L1166.9,209.8 L1168.0,212.3 L1169.1,214.7 L1170.3,217.1 L1171.4,219.4 L1172.6,221.6 L1173.7,223.6 L1174.8,225.4 L1176.0,227.0 L1177.1,228.6 L1178.3,230.0 L1179.4,231.3 L1180.5,232.6 L1181.7,233.9 L1182.8,235.1 L1183.9,236.2 L1185.1,237.4 L1186.2,238.5 L1187.4,239.7 L1188.5,240.9 L1189.6,242.0 L1190.8,243.2 L1191.9,244.3 L1193.1,245.3 L1194.2,246.4 L1195.3,247.3 L1196.5,248.2 L1197.6,249.0 L1198.8,249.8 L1199.9,250.5 L1201.0,251.1 L1202.2,251.7 L1203.3,252.3 L1204.4,252.9 L1205.6,253.4 L1206.7,254.0 L1207.9,254.6 L1209.0,255.2 L1210.1,255.8 L1211.3,256.4 L1212.4,257.0 L1213.6,257.6 L1214.7,258.2 L1215.8,258.8 L1217.0,259.4 L1218.1,260.0 L1219.2,260.6 L1220.4,261.1 L1221.5,261.7 L1222.7,262.3 L1223.8,262.8 L1224.9,263.4 L1226.1,263.9 L1227.2,264.5 L1228.4,265.0 L1229.5,265.5 L1230.6,266.0 L1231.8,266.4 L1232.9,266.8 L1234.1,267.2 L1235.2,267.6 L1236.3,267.9 L1237.5,268.3 L1238.6,268.6 L1239.7,268.9 L1240.9,269.2 L1242.0,269.6 L1243.2,269.9 L1244.3,270.3 L1245.4,270.7 L1246.6,271.1 L1247.7,271.5 L1248.9,271.9 L1250.0,272.2 L1251.1,272.6 L1252.3,272.9 L1253.4,273.2 L1254.5,273.4 L1255.7,273.6 L1256.8,273.8 L1258.0,273.9 L1259.1,274.1 L1260.2,274.2 L1261.4,274.3 L1262.5,274.5 L1263.7,274.6 L1264.8,274.7 L1265.9,274.8 L1267.1,274.9 L1268.2,275.0 L1269.4,275.0 L1270.5,275.1 L1271.6,275.2 L1272.8,275.2 L1273.9,275.3 L1275.0,275.4 L1276.2,275.4 L1277.3,275.5 L1278.5,275.6 L1279.6,275.6 L1280.7,275.7 L1281.9,275.8 L1283.0,275.8 L1284.2,275.9 L1285.3,275.9 L1286.4,276.0 L1287.6,276.0 L1288.7,276.0 L1289.9,276.0 L1291.0,276.0 L1292.1,276.0 L1293.3,276.0 L1294.4,276.0 L1295.5,276.0 L1296.7,276.0 L1297.8,276.0 L1299.0,276.0 L1300.1,276.0 L1301.2,276.0 L1302.4,276.0 L1303.5,276.0 L1304.7,276.0 L1305.8,276.0 L1306.9,276.0 L1308.1,276.0 L1309.2,276.0 L1310.3,276.0 L1311.5,276.0 L1312.6,276.0 L1313.8,276.0 L1314.9,276.0 L1316.0,276.0 L1317.2,276.0 L1318.3,276.0 L1319.5,276.0 L1320.6,276.0 L1321.7,276.0 L1322.9,276.0 L1324.0,276.0 L1325.2,276.0 L1326.3,276.0 L1327.4,276.0 L1328.6,276.0 L1329.7,276.0 L1330.8,276.0 L1332.0,276.0 L1333.1,276.0 L1334.3,276.0 L1335.4,276.0 L1336.5,276.0 L1337.7,276.0 L1338.8,276.0 L1340.0,276.0 L1341.1,276.0 L1342.2,276.0 L1343.4,276.0 L1344.5,276.0 L1345.7,276.0 L1346.8,276.0 L1347.9,276.0 L1349.1,276.0 L1350.2,276.0 L1351.3,276.0 L1352.5,276.0 L1353.6,276.0 L1354.8,276.0 L1355.9,276.0 L1357.0,276.0 L1358.2,276.0 L1359.3,275.9 L1360.5,275.9 L1361.6,275.9 L1362.7,275.9 L1363.9,275.9 L1365.0,275.9 L1366.1,275.9 L1367.3,275.9 L1368.4,275.9 L1369.6,275.8 L1370.7,275.8 L1371.8,275.7 L1373.0,275.7 L1374.1,275.6 L1375.3,275.5 L1376.4,275.4 L1377.5,275.3 L1378.7,275.2 L1379.8,275.1 L1381.0,275.1 L1382.1,275.0 L1383.2,274.9 L1384.4,274.8 L1385.5,274.7 L1386.6,274.6 L1387.8,274.6 L1388.9,274.5 L1390.1,274.4 L1391.2,274.3 L1392.3,274.2 L1393.5,274.1 L1394.6,273.9 L1395.8,273.8 L1396.9,273.7 L1398.0,273.6 L1399.2,273.4 L1400.3,273.3 L1401.4,273.2 L1402.6,273.0 L1403.7,272.9 L1404.9,272.8 L1406.0,272.7 L1407.1,272.5 L1408.3,272.4 L1409.4,272.3 L1410.6,272.1 L1411.7,272.0 L1412.8,271.8 L1414.0,271.7 L1415.1,271.5 L1416.3,271.2 L1417.4,271.0 L1418.5,270.7 L1419.7,270.4 L1420.8,270.0 L1421.9,269.7 L1423.1,269.4 L1424.2,269.0 L1425.4,268.7 L1426.5,268.3 L1427.6,268.0 L1428.8,267.6 L1429.9,267.3 L1431.1,266.9 L1432.2,266.5 L1433.3,266.2 L1434.5,265.8 L1435.6,265.4 L1436.8,265.1 L1437.9,264.7 L1439.0,264.4 L1440.2,264.0 L1441.3,263.7 L1442.4,263.4 L1443.6,263.1 L1444.7,262.7 L1445.9,262.4 L1447.0,262.1 L1448.1,261.7 L1449.3,261.3 L1450.4,260.9 L1451.6,260.5 L1452.7,260.1 L1453.8,259.6 L1455.0,259.2 L1456.1,258.7 L1457.2,258.2 L1458.4,257.7 L1459.5,257.2 L1460.7,256.7 L1461.8,256.1 L1462.9,255.6 L1464.1,255.0 L1465.2,254.4 L1466.4,253.8 L1467.5,253.2 L1468.6,252.6 L1469.8,251.9 L1470.9,251.2 L1472.1,250.5 L1473.2,249.8 L1474.3,249.0 L1475.5,248.2 L1476.6,247.4 L1477.7,246.6 L1478.9,245.8 L1480.0,244.9 L1481.2,244.0 L1482.3,243.1" fill="none" stroke="#FFC000" stroke-width="3.4" stroke-linejoin="round" stroke-linecap="round"/>
<path d="M935.7,300.8 L936.8,300.8 L938.0,300.8 L939.1,300.9 L940.3,300.9 L941.4,300.9 L942.5,300.9 L943.7,300.9 L944.8,300.9 L945.9,300.9 L947.1,300.9 L948.2,300.9 L949.4,300.9 L950.5,300.9 L951.6,300.9 L952.8,300.9 L953.9,300.9 L955.1,300.9 L956.2,301.0 L957.3,301.0 L958.5,301.0 L959.6,301.0 L960.8,301.0 L961.9,301.0 L963.0,301.0 L964.2,301.0 L965.3,301.0 L966.4,301.1 L967.6,301.1 L968.7,301.1 L969.9,301.1 L971.0,301.1 L972.1,301.1 L973.3,301.1 L974.4,301.1 L975.6,301.1 L976.7,301.1 L977.8,301.1 L979.0,301.1 L980.1,301.1 L981.2,301.1 L982.4,301.0 L983.5,301.0 L984.7,301.0 L985.8,301.0 L986.9,300.9 L988.1,300.9 L989.2,300.9 L990.4,300.8 L991.5,300.8 L992.6,300.8 L993.8,300.7 L994.9,300.7 L996.1,300.6 L997.2,300.5 L998.3,300.4 L999.5,300.3 L1000.6,300.2 L1001.7,300.1 L1002.9,300.0 L1004.0,299.9 L1005.2,299.7 L1006.3,299.6 L1007.4,299.4 L1008.6,299.2 L1009.7,299.0 L1010.9,298.8 L1012.0,298.6 L1013.1,298.4 L1014.3,298.2 L1015.4,297.9 L1016.6,297.7 L1017.7,297.4 L1018.8,297.0 L1020.0,296.7 L1021.1,296.3 L1022.2,296.0 L1023.4,295.6 L1024.5,295.2 L1025.7,294.9 L1026.8,294.6 L1027.9,294.2 L1029.1,293.9 L1030.2,293.7 L1031.4,293.4 L1032.5,293.1 L1033.6,292.8 L1034.8,292.4 L1035.9,292.1 L1037.0,291.8 L1038.2,291.4 L1039.3,291.0 L1040.5,290.6 L1041.6,290.1 L1042.7,289.7 L1043.9,289.2 L1045.0,288.8 L1046.2,288.3 L1047.3,287.9 L1048.4,287.4 L1049.6,286.9 L1050.7,286.5 L1051.9,286.0 L1053.0,285.6 L1054.1,285.1 L1055.3,284.6 L1056.4,284.2 L1057.5,283.7 L1058.7,283.2 L1059.8,282.7 L1061.0,282.2 L1062.1,281.6 L1063.2,281.1 L1064.4,280.6 L1065.5,280.1 L1066.7,279.5 L1067.8,279.0 L1068.9,278.4 L1070.1,277.8 L1071.2,277.2 L1072.3,276.6 L1073.5,275.9 L1074.6,275.2 L1075.8,274.4 L1076.9,273.6 L1078.0,272.7 L1079.2,271.8 L1080.3,270.9 L1081.5,270.0 L1082.6,269.0 L1083.7,267.9 L1084.9,266.9 L1086.0,265.7 L1087.2,264.6 L1088.3,263.3 L1089.4,262.0 L1090.6,260.7 L1091.7,259.3 L1092.8,257.8 L1094.0,256.3 L1095.1,254.7 L1096.3,253.1 L1097.4,251.5 L1098.5,249.8 L1099.7,248.0 L1100.8,246.1 L1102.0,244.1 L1103.1,242.0 L1104.2,239.8 L1105.4,237.4 L1106.5,234.9 L1107.7,232.1 L1108.8,229.0 L1109.9,225.5 L1111.1,221.8 L1112.2,217.8 L1113.3,213.6 L1114.5,209.2 L1115.6,204.5 L1116.8,199.5 L1117.9,194.3 L1119.0,188.7 L1120.2,182.9 L1121.3,176.5 L1122.5,169.3 L1123.6,161.7 L1124.7,153.9 L1125.9,146.2 L1127.0,139.0 L1128.1,131.8 L1129.3,124.6 L1130.4,118.2 L1131.6,113.5 L1132.7,109.9 L1133.8,106.6 L1135.0,104.3 L1136.1,103.4 L1137.3,105.4 L1138.4,110.5 L1139.5,117.1 L1140.7,123.7 L1141.8,130.4 L1143.0,138.1 L1144.1,146.2 L1145.2,154.3 L1146.4,162.6 L1147.5,171.3 L1148.6,179.7 L1149.8,187.5 L1150.9,194.8 L1152.1,201.8 L1153.2,208.2 L1154.3,213.6 L1155.5,218.2 L1156.6,222.3 L1157.8,226.1 L1158.9,229.6 L1160.0,232.8 L1161.2,235.9 L1162.3,238.9 L1163.5,241.7 L1164.6,244.4 L1165.7,246.9 L1166.9,249.2 L1168.0,251.2 L1169.1,253.1 L1170.3,254.8 L1171.4,256.3 L1172.6,257.8 L1173.7,259.2 L1174.8,260.5 L1176.0,261.7 L1177.1,262.9 L1178.3,264.0 L1179.4,265.1 L1180.5,266.2 L1181.7,267.2 L1182.8,268.2 L1183.9,269.2 L1185.1,270.1 L1186.2,271.0 L1187.4,272.0 L1188.5,272.9 L1189.6,273.7 L1190.8,274.6 L1191.9,275.5 L1193.1,276.3 L1194.2,277.1 L1195.3,277.8 L1196.5,278.5 L1197.6,279.1 L1198.8,279.7 L1199.9,280.3 L1201.0,280.8 L1202.2,281.3 L1203.3,281.8 L1204.4,282.3 L1205.6,282.7 L1206.7,283.2 L1207.9,283.7 L1209.0,284.1 L1210.1,284.6 L1211.3,285.1 L1212.4,285.6 L1213.6,286.1 L1214.7,286.5 L1215.8,287.0 L1217.0,287.5 L1218.1,287.9 L1219.2,288.4 L1220.4,288.8 L1221.5,289.2 L1222.7,289.6 L1223.8,290.0 L1224.9,290.4 L1226.1,290.8 L1227.2,291.2 L1228.4,291.6 L1229.5,291.9 L1230.6,292.2 L1231.8,292.6 L1232.9,292.9 L1234.1,293.2 L1235.2,293.5 L1236.3,293.7 L1237.5,294.0 L1238.6,294.2 L1239.7,294.5 L1240.9,294.7 L1242.0,295.0 L1243.2,295.2 L1244.3,295.5 L1245.4,295.7 L1246.6,295.9 L1247.7,296.2 L1248.9,296.4 L1250.0,296.6 L1251.1,296.8 L1252.3,297.1 L1253.4,297.3 L1254.5,297.5 L1255.7,297.7 L1256.8,297.9 L1258.0,298.1 L1259.1,298.3 L1260.2,298.5 L1261.4,298.7 L1262.5,298.9 L1263.7,299.1 L1264.8,299.2 L1265.9,299.4 L1267.1,299.5 L1268.2,299.6 L1269.4,299.7 L1270.5,299.9 L1271.6,300.0 L1272.8,300.0 L1273.9,300.1 L1275.0,300.2 L1276.2,300.3 L1277.3,300.3 L1278.5,300.4 L1279.6,300.5 L1280.7,300.5 L1281.9,300.6 L1283.0,300.6 L1284.2,300.7 L1285.3,300.8 L1286.4,300.8 L1287.6,300.8 L1288.7,300.8 L1289.9,300.8 L1291.0,300.9 L1292.1,300.9 L1293.3,300.9 L1294.4,300.9 L1295.5,300.9 L1296.7,300.9 L1297.8,300.9 L1299.0,300.9 L1300.1,300.9 L1301.2,300.9 L1302.4,300.9 L1303.5,300.9 L1304.7,300.9 L1305.8,300.9 L1306.9,300.9 L1308.1,300.9 L1309.2,300.9 L1310.3,300.9 L1311.5,300.9 L1312.6,300.9 L1313.8,301.0 L1314.9,301.0 L1316.0,301.0 L1317.2,301.0 L1318.3,301.0 L1319.5,301.0 L1320.6,301.0 L1321.7,301.0 L1322.9,301.0 L1324.0,301.0 L1325.2,301.0 L1326.3,301.0 L1327.4,301.0 L1328.6,301.0 L1329.7,301.0 L1330.8,301.0 L1332.0,301.0 L1333.1,301.0 L1334.3,301.0 L1335.4,301.0 L1336.5,301.0 L1337.7,301.0 L1338.8,301.0 L1340.0,301.0 L1341.1,301.0 L1342.2,301.0 L1343.4,301.0 L1344.5,301.0 L1345.7,301.0 L1346.8,301.0 L1347.9,301.0 L1349.1,301.0 L1350.2,301.0 L1351.3,301.0 L1352.5,301.0 L1353.6,301.0 L1354.8,301.0 L1355.9,301.0 L1357.0,301.0 L1358.2,301.0 L1359.3,301.0 L1360.5,301.0 L1361.6,301.0 L1362.7,301.0 L1363.9,301.0 L1365.0,301.0 L1366.1,301.0 L1367.3,301.0 L1368.4,300.9 L1369.6,300.9 L1370.7,300.9 L1371.8,300.9 L1373.0,300.9 L1374.1,300.9 L1375.3,300.9 L1376.4,300.9 L1377.5,300.9 L1378.7,300.9 L1379.8,300.9 L1381.0,300.9 L1382.1,300.9 L1383.2,300.9 L1384.4,300.8 L1385.5,300.8 L1386.6,300.8 L1387.8,300.8 L1388.9,300.8 L1390.1,300.7 L1391.2,300.7 L1392.3,300.7 L1393.5,300.7 L1394.6,300.6 L1395.8,300.6 L1396.9,300.6 L1398.0,300.5 L1399.2,300.5 L1400.3,300.5 L1401.4,300.4 L1402.6,300.4 L1403.7,300.3 L1404.9,300.3 L1406.0,300.2 L1407.1,300.1 L1408.3,300.0 L1409.4,299.9 L1410.6,299.8 L1411.7,299.6 L1412.8,299.5 L1414.0,299.4 L1415.1,299.2 L1416.3,299.1 L1417.4,298.9 L1418.5,298.7 L1419.7,298.5 L1420.8,298.3 L1421.9,298.1 L1423.1,297.9 L1424.2,297.7 L1425.4,297.4 L1426.5,297.2 L1427.6,296.9 L1428.8,296.6 L1429.9,296.2 L1431.1,295.9 L1432.2,295.6 L1433.3,295.2 L1434.5,294.9 L1435.6,294.5 L1436.8,294.2 L1437.9,293.9 L1439.0,293.6 L1440.2,293.3 L1441.3,293.0 L1442.4,292.6 L1443.6,292.3 L1444.7,292.0 L1445.9,291.6 L1447.0,291.3 L1448.1,290.9 L1449.3,290.5 L1450.4,290.0 L1451.6,289.6 L1452.7,289.1 L1453.8,288.6 L1455.0,288.1 L1456.1,287.6 L1457.2,287.1 L1458.4,286.6 L1459.5,286.1 L1460.7,285.7 L1461.8,285.2 L1462.9,284.7 L1464.1,284.3 L1465.2,283.8 L1466.4,283.3 L1467.5,282.9 L1468.6,282.4 L1469.8,281.9 L1470.9,281.3 L1472.1,280.8 L1473.2,280.2 L1474.3,279.7 L1475.5,279.1 L1476.6,278.5 L1477.7,277.9 L1478.9,277.3 L1480.0,276.7 L1481.2,276.0 L1482.3,275.4" fill="none" stroke="#5B9BD5" stroke-width="3.4" stroke-linejoin="round" stroke-linecap="round"/>
<path d="M935.7,309.5 L936.8,309.5 L938.0,309.5 L939.1,309.6 L940.3,309.6 L941.4,309.6 L942.5,309.6 L943.7,309.6 L944.8,309.6 L945.9,309.6 L947.1,309.6 L948.2,309.6 L949.4,309.6 L950.5,309.6 L951.6,309.6 L952.8,309.6 L953.9,309.7 L955.1,309.7 L956.2,309.7 L957.3,309.7 L958.5,309.7 L959.6,309.7 L960.8,309.7 L961.9,309.7 L963.0,309.7 L964.2,309.7 L965.3,309.7 L966.4,309.7 L967.6,309.7 L968.7,309.7 L969.9,309.7 L971.0,309.8 L972.1,309.8 L973.3,309.8 L974.4,309.8 L975.6,309.8 L976.7,309.8 L977.8,309.8 L979.0,309.8 L980.1,309.8 L981.2,309.8 L982.4,309.8 L983.5,309.8 L984.7,309.8 L985.8,309.8 L986.9,309.8 L988.1,309.8 L989.2,309.8 L990.4,309.8 L991.5,309.8 L992.6,309.8 L993.8,309.7 L994.9,309.7 L996.1,309.7 L997.2,309.7 L998.3,309.7 L999.5,309.7 L1000.6,309.7 L1001.7,309.7 L1002.9,309.7 L1004.0,309.7 L1005.2,309.7 L1006.3,309.7 L1007.4,309.6 L1008.6,309.6 L1009.7,309.6 L1010.9,309.6 L1012.0,309.5 L1013.1,309.5 L1014.3,309.5 L1015.4,309.4 L1016.6,309.4 L1017.7,309.3 L1018.8,309.2 L1020.0,309.0 L1021.1,308.9 L1022.2,308.7 L1023.4,308.5 L1024.5,308.3 L1025.7,308.1 L1026.8,307.9 L1027.9,307.7 L1029.1,307.5 L1030.2,307.3 L1031.4,307.1 L1032.5,306.8 L1033.6,306.6 L1034.8,306.3 L1035.9,306.1 L1037.0,305.8 L1038.2,305.5 L1039.3,305.3 L1040.5,305.0 L1041.6,304.6 L1042.7,304.3 L1043.9,303.9 L1045.0,303.6 L1046.2,303.2 L1047.3,302.8 L1048.4,302.5 L1049.6,302.1 L1050.7,301.7 L1051.9,301.4 L1053.0,301.0 L1054.1,300.7 L1055.3,300.3 L1056.4,300.0 L1057.5,299.6 L1058.7,299.3 L1059.8,298.9 L1061.0,298.5 L1062.1,298.2 L1063.2,297.8 L1064.4,297.4 L1065.5,297.0 L1066.7,296.5 L1067.8,296.1 L1068.9,295.6 L1070.1,295.1 L1071.2,294.6 L1072.3,294.1 L1073.5,293.5 L1074.6,292.9 L1075.8,292.3 L1076.9,291.6 L1078.0,290.9 L1079.2,290.1 L1080.3,289.3 L1081.5,288.6 L1082.6,287.8 L1083.7,286.9 L1084.9,286.1 L1086.0,285.2 L1087.2,284.3 L1088.3,283.4 L1089.4,282.4 L1090.6,281.4 L1091.7,280.3 L1092.8,279.3 L1094.0,278.2 L1095.1,277.0 L1096.3,275.9 L1097.4,274.7 L1098.5,273.5 L1099.7,272.3 L1100.8,271.0 L1102.0,269.6 L1103.1,268.2 L1104.2,266.6 L1105.4,265.0 L1106.5,263.2 L1107.7,261.2 L1108.8,259.0 L1109.9,256.6 L1111.1,254.0 L1112.2,251.1 L1113.3,248.1 L1114.5,244.7 L1115.6,240.8 L1116.8,236.6 L1117.9,231.9 L1119.0,226.9 L1120.2,221.4 L1121.3,215.3 L1122.5,208.3 L1123.6,200.6 L1124.7,192.4 L1125.9,183.9 L1127.0,175.1 L1128.1,165.6 L1129.3,155.1 L1130.4,144.8 L1131.6,135.8 L1132.7,127.0 L1133.8,118.2 L1135.0,111.4 L1136.1,108.7 L1137.3,111.3 L1138.4,118.2 L1139.5,127.2 L1140.7,136.7 L1141.8,147.6 L1143.0,161.1 L1144.1,174.7 L1145.2,186.3 L1146.4,195.6 L1147.5,204.1 L1148.6,211.7 L1149.8,218.4 L1150.9,224.3 L1152.1,229.6 L1153.2,234.4 L1154.3,238.5 L1155.5,242.3 L1156.6,245.8 L1157.8,248.9 L1158.9,251.9 L1160.0,254.7 L1161.2,257.3 L1162.3,259.8 L1163.5,262.2 L1164.6,264.5 L1165.7,266.6 L1166.9,268.6 L1168.0,270.3 L1169.1,271.9 L1170.3,273.4 L1171.4,274.8 L1172.6,276.1 L1173.7,277.4 L1174.8,278.5 L1176.0,279.6 L1177.1,280.7 L1178.3,281.7 L1179.4,282.6 L1180.5,283.6 L1181.7,284.5 L1182.8,285.3 L1183.9,286.2 L1185.1,287.0 L1186.2,287.7 L1187.4,288.4 L1188.5,289.1 L1189.6,289.8 L1190.8,290.5 L1191.9,291.1 L1193.1,291.7 L1194.2,292.3 L1195.3,292.8 L1196.5,293.4 L1197.6,293.8 L1198.8,294.3 L1199.9,294.7 L1201.0,295.1 L1202.2,295.5 L1203.3,295.8 L1204.4,296.1 L1205.6,296.5 L1206.7,296.8 L1207.9,297.2 L1209.0,297.5 L1210.1,297.9 L1211.3,298.3 L1212.4,298.6 L1213.6,299.0 L1214.7,299.4 L1215.8,299.7 L1217.0,300.1 L1218.1,300.4 L1219.2,300.8 L1220.4,301.1 L1221.5,301.4 L1222.7,301.6 L1223.8,301.9 L1224.9,302.1 L1226.1,302.4 L1227.2,302.6 L1228.4,302.8 L1229.5,303.1 L1230.6,303.3 L1231.8,303.6 L1232.9,303.8 L1234.1,304.0 L1235.2,304.3 L1236.3,304.5 L1237.5,304.8 L1238.6,305.0 L1239.7,305.3 L1240.9,305.5 L1242.0,305.7 L1243.2,305.9 L1244.3,306.1 L1245.4,306.3 L1246.6,306.5 L1247.7,306.7 L1248.9,306.9 L1250.0,307.0 L1251.1,307.2 L1252.3,307.3 L1253.4,307.5 L1254.5,307.6 L1255.7,307.7 L1256.8,307.7 L1258.0,307.8 L1259.1,307.9 L1260.2,307.9 L1261.4,308.0 L1262.5,308.1 L1263.7,308.1 L1264.8,308.2 L1265.9,308.2 L1267.1,308.3 L1268.2,308.3 L1269.4,308.4 L1270.5,308.4 L1271.6,308.5 L1272.8,308.5 L1273.9,308.6 L1275.0,308.6 L1276.2,308.6 L1277.3,308.7 L1278.5,308.7 L1279.6,308.7 L1280.7,308.7 L1281.9,308.7 L1283.0,308.7 L1284.2,308.7 L1285.3,308.7 L1286.4,308.8 L1287.6,308.8 L1288.7,308.8 L1289.9,308.8 L1291.0,308.8 L1292.1,308.8 L1293.3,308.8 L1294.4,308.8 L1295.5,308.8 L1296.7,308.9 L1297.8,308.9 L1299.0,308.9 L1300.1,308.9 L1301.2,308.9 L1302.4,308.9 L1303.5,308.9 L1304.7,308.9 L1305.8,308.9 L1306.9,308.9 L1308.1,308.9 L1309.2,308.9 L1310.3,309.0 L1311.5,309.0 L1312.6,309.0 L1313.8,309.0 L1314.9,309.0 L1316.0,309.0 L1317.2,309.0 L1318.3,309.0 L1319.5,309.0 L1320.6,309.0 L1321.7,309.0 L1322.9,309.0 L1324.0,309.0 L1325.2,309.0 L1326.3,309.0 L1327.4,309.0 L1328.6,309.0 L1329.7,309.0 L1330.8,309.0 L1332.0,309.0 L1333.1,309.1 L1334.3,309.1 L1335.4,309.1 L1336.5,309.1 L1337.7,309.1 L1338.8,309.1 L1340.0,309.1 L1341.1,309.1 L1342.2,309.1 L1343.4,309.1 L1344.5,309.1 L1345.7,309.1 L1346.8,309.1 L1347.9,309.1 L1349.1,309.1 L1350.2,309.1 L1351.3,309.1 L1352.5,309.1 L1353.6,309.1 L1354.8,309.1 L1355.9,309.1 L1357.0,309.1 L1358.2,309.1 L1359.3,309.1 L1360.5,309.1 L1361.6,309.1 L1362.7,309.1 L1363.9,309.1 L1365.0,309.1 L1366.1,309.1 L1367.3,309.1 L1368.4,309.1 L1369.6,309.0 L1370.7,309.0 L1371.8,309.0 L1373.0,309.0 L1374.1,309.0 L1375.3,309.0 L1376.4,309.0 L1377.5,309.0 L1378.7,309.0 L1379.8,309.0 L1381.0,309.0 L1382.1,309.0 L1383.2,309.0 L1384.4,309.0 L1385.5,309.0 L1386.6,309.0 L1387.8,309.0 L1388.9,309.0 L1390.1,309.0 L1391.2,309.0 L1392.3,309.0 L1393.5,309.0 L1394.6,309.0 L1395.8,309.0 L1396.9,309.0 L1398.0,309.0 L1399.2,309.0 L1400.3,308.9 L1401.4,308.9 L1402.6,308.9 L1403.7,308.9 L1404.9,308.9 L1406.0,308.9 L1407.1,308.9 L1408.3,308.9 L1409.4,308.9 L1410.6,308.9 L1411.7,308.9 L1412.8,308.9 L1414.0,308.9 L1415.1,308.8 L1416.3,308.8 L1417.4,308.7 L1418.5,308.6 L1419.7,308.5 L1420.8,308.4 L1421.9,308.3 L1423.1,308.2 L1424.2,308.1 L1425.4,308.0 L1426.5,307.9 L1427.6,307.8 L1428.8,307.6 L1429.9,307.5 L1431.1,307.3 L1432.2,307.2 L1433.3,307.0 L1434.5,306.8 L1435.6,306.6 L1436.8,306.4 L1437.9,306.2 L1439.0,305.9 L1440.2,305.7 L1441.3,305.4 L1442.4,305.1 L1443.6,304.8 L1444.7,304.5 L1445.9,304.2 L1447.0,303.9 L1448.1,303.6 L1449.3,303.4 L1450.4,303.1 L1451.6,302.8 L1452.7,302.5 L1453.8,302.3 L1455.0,302.0 L1456.1,301.7 L1457.2,301.4 L1458.4,301.0 L1459.5,300.7 L1460.7,300.4 L1461.8,300.0 L1462.9,299.7 L1464.1,299.3 L1465.2,299.0 L1466.4,298.6 L1467.5,298.3 L1468.6,297.9 L1469.8,297.5 L1470.9,297.1 L1472.1,296.7 L1473.2,296.3 L1474.3,295.8 L1475.5,295.4 L1476.6,294.9 L1477.7,294.4 L1478.9,293.9 L1480.0,293.4 L1481.2,292.9 L1482.3,292.4" fill="none" stroke="#70AD47" stroke-width="3.4" stroke-linejoin="round" stroke-linecap="round"/>
<path d="M935.7,316.2 L936.8,316.2 L938.0,316.2 L939.1,316.3 L940.3,316.3 L941.4,316.3 L942.5,316.3 L943.7,316.4 L944.8,316.4 L945.9,316.4 L947.1,316.5 L948.2,316.5 L949.4,316.5 L950.5,316.5 L951.6,316.6 L952.8,316.6 L953.9,316.6 L955.1,316.6 L956.2,316.6 L957.3,316.7 L958.5,316.7 L959.6,316.7 L960.8,316.7 L961.9,316.7 L963.0,316.8 L964.2,316.8 L965.3,316.8 L966.4,316.8 L967.6,316.8 L968.7,316.8 L969.9,316.9 L971.0,316.9 L972.1,316.9 L973.3,316.9 L974.4,316.9 L975.6,316.9 L976.7,316.9 L977.8,316.9 L979.0,317.0 L980.1,317.0 L981.2,317.0 L982.4,317.0 L983.5,317.0 L984.7,317.0 L985.8,317.0 L986.9,317.0 L988.1,317.0 L989.2,317.0 L990.4,317.0 L991.5,317.0 L992.6,317.0 L993.8,317.0 L994.9,317.0 L996.1,317.0 L997.2,317.0 L998.3,317.0 L999.5,317.0 L1000.6,317.0 L1001.7,317.0 L1002.9,317.0 L1004.0,316.9 L1005.2,316.9 L1006.3,316.9 L1007.4,316.8 L1008.6,316.7 L1009.7,316.6 L1010.9,316.5 L1012.0,316.4 L1013.1,316.3 L1014.3,316.2 L1015.4,316.1 L1016.6,315.9 L1017.7,315.8 L1018.8,315.6 L1020.0,315.4 L1021.1,315.2 L1022.2,315.0 L1023.4,314.8 L1024.5,314.5 L1025.7,314.3 L1026.8,314.1 L1027.9,313.9 L1029.1,313.6 L1030.2,313.4 L1031.4,313.2 L1032.5,312.9 L1033.6,312.7 L1034.8,312.5 L1035.9,312.2 L1037.0,311.9 L1038.2,311.7 L1039.3,311.4 L1040.5,311.1 L1041.6,310.8 L1042.7,310.5 L1043.9,310.2 L1045.0,309.9 L1046.2,309.5 L1047.3,309.2 L1048.4,308.8 L1049.6,308.4 L1050.7,308.0 L1051.9,307.6 L1053.0,307.1 L1054.1,306.7 L1055.3,306.2 L1056.4,305.7 L1057.5,305.3 L1058.7,304.8 L1059.8,304.3 L1061.0,303.8 L1062.1,303.3 L1063.2,302.8 L1064.4,302.3 L1065.5,301.8 L1066.7,301.3 L1067.8,300.7 L1068.9,300.2 L1070.1,299.6 L1071.2,299.1 L1072.3,298.5 L1073.5,297.9 L1074.6,297.4 L1075.8,296.8 L1076.9,296.2 L1078.0,295.6 L1079.2,295.0 L1080.3,294.4 L1081.5,293.8 L1082.6,293.1 L1083.7,292.5 L1084.9,291.7 L1086.0,291.0 L1087.2,290.1 L1088.3,289.3 L1089.4,288.4 L1090.6,287.5 L1091.7,286.5 L1092.8,285.5 L1094.0,284.5 L1095.1,283.5 L1096.3,282.5 L1097.4,281.4 L1098.5,280.4 L1099.7,279.3 L1100.8,278.2 L1102.0,277.0 L1103.1,275.7 L1104.2,274.3 L1105.4,272.8 L1106.5,271.2 L1107.7,269.3 L1108.8,267.1 L1109.9,264.7 L1111.1,262.0 L1112.2,259.2 L1113.3,256.2 L1114.5,253.1 L1115.6,249.8 L1116.8,246.2 L1117.9,242.2 L1119.0,237.8 L1120.2,233.0 L1121.3,227.4 L1122.5,220.9 L1123.6,213.7 L1124.7,206.1 L1125.9,198.0 L1127.0,189.9 L1128.1,181.1 L1129.3,171.6 L1130.4,161.9 L1131.6,152.4 L1132.7,141.7 L1133.8,130.1 L1135.0,120.8 L1136.1,117.0 L1137.3,119.5 L1138.4,125.9 L1139.5,134.5 L1140.7,143.7 L1141.8,154.8 L1143.0,169.0 L1144.1,183.5 L1145.2,195.7 L1146.4,205.4 L1147.5,214.3 L1148.6,222.2 L1149.8,228.9 L1150.9,234.7 L1152.1,239.8 L1153.2,244.3 L1154.3,248.2 L1155.5,251.5 L1156.6,254.6 L1157.8,257.3 L1158.9,259.9 L1160.0,262.3 L1161.2,264.7 L1162.3,267.0 L1163.5,269.3 L1164.6,271.4 L1165.7,273.5 L1166.9,275.3 L1168.0,277.0 L1169.1,278.6 L1170.3,280.0 L1171.4,281.4 L1172.6,282.6 L1173.7,283.8 L1174.8,284.9 L1176.0,285.9 L1177.1,286.9 L1178.3,287.9 L1179.4,288.8 L1180.5,289.7 L1181.7,290.5 L1182.8,291.4 L1183.9,292.1 L1185.1,292.9 L1186.2,293.6 L1187.4,294.3 L1188.5,295.0 L1189.6,295.7 L1190.8,296.4 L1191.9,297.0 L1193.1,297.6 L1194.2,298.2 L1195.3,298.8 L1196.5,299.3 L1197.6,299.8 L1198.8,300.3 L1199.9,300.7 L1201.0,301.2 L1202.2,301.6 L1203.3,302.0 L1204.4,302.3 L1205.6,302.7 L1206.7,303.1 L1207.9,303.4 L1209.0,303.8 L1210.1,304.2 L1211.3,304.5 L1212.4,304.9 L1213.6,305.3 L1214.7,305.7 L1215.8,306.0 L1217.0,306.4 L1218.1,306.7 L1219.2,307.1 L1220.4,307.4 L1221.5,307.8 L1222.7,308.1 L1223.8,308.4 L1224.9,308.7 L1226.1,309.1 L1227.2,309.4 L1228.4,309.7 L1229.5,310.0 L1230.6,310.3 L1231.8,310.6 L1232.9,310.9 L1234.1,311.2 L1235.2,311.5 L1236.3,311.8 L1237.5,312.1 L1238.6,312.4 L1239.7,312.7 L1240.9,312.9 L1242.0,313.2 L1243.2,313.4 L1244.3,313.5 L1245.4,313.7 L1246.6,313.9 L1247.7,314.0 L1248.9,314.2 L1250.0,314.3 L1251.1,314.5 L1252.3,314.6 L1253.4,314.8 L1254.5,314.9 L1255.7,315.1 L1256.8,315.2 L1258.0,315.4 L1259.1,315.5 L1260.2,315.7 L1261.4,315.8 L1262.5,316.0 L1263.7,316.1 L1264.8,316.2 L1265.9,316.4 L1267.1,316.5 L1268.2,316.6 L1269.4,316.8 L1270.5,316.9 L1271.6,317.0 L1272.8,317.2 L1273.9,317.3 L1275.0,317.4 L1276.2,317.4 L1277.3,317.4 L1278.5,317.5 L1279.6,317.5 L1280.7,317.5 L1281.9,317.5 L1283.0,317.5 L1284.2,317.5 L1285.3,317.6 L1286.4,317.6 L1287.6,317.6 L1288.7,317.6 L1289.9,317.6 L1291.0,317.6 L1292.1,317.7 L1293.3,317.7 L1294.4,317.7 L1295.5,317.7 L1296.7,317.7 L1297.8,317.7 L1299.0,317.7 L1300.1,317.7 L1301.2,317.8 L1302.4,317.8 L1303.5,317.8 L1304.7,317.8 L1305.8,317.8 L1306.9,317.8 L1308.1,317.8 L1309.2,317.8 L1310.3,317.8 L1311.5,317.8 L1312.6,317.8 L1313.8,317.9 L1314.9,317.9 L1316.0,317.9 L1317.2,317.9 L1318.3,317.9 L1319.5,317.9 L1320.6,317.9 L1321.7,317.9 L1322.9,317.9 L1324.0,317.9 L1325.2,317.9 L1326.3,317.9 L1327.4,317.9 L1328.6,317.9 L1329.7,317.9 L1330.8,317.9 L1332.0,317.9 L1333.1,317.9 L1334.3,317.9 L1335.4,317.9 L1336.5,317.9 L1337.7,318.0 L1338.8,318.0 L1340.0,318.0 L1341.1,318.0 L1342.2,318.0 L1343.4,318.0 L1344.5,318.0 L1345.7,318.0 L1346.8,318.0 L1347.9,318.0 L1349.1,318.0 L1350.2,318.0 L1351.3,318.0 L1352.5,318.0 L1353.6,318.0 L1354.8,318.0 L1355.9,318.0 L1357.0,318.0 L1358.2,318.0 L1359.3,318.0 L1360.5,318.0 L1361.6,318.0 L1362.7,318.0 L1363.9,317.9 L1365.0,317.9 L1366.1,317.9 L1367.3,317.9 L1368.4,317.9 L1369.6,317.9 L1370.7,317.9 L1371.8,317.9 L1373.0,317.9 L1374.1,317.9 L1375.3,317.9 L1376.4,317.9 L1377.5,317.9 L1378.7,317.9 L1379.8,317.9 L1381.0,317.9 L1382.1,317.9 L1383.2,317.9 L1384.4,317.9 L1385.5,317.9 L1386.6,317.9 L1387.8,317.9 L1388.9,317.9 L1390.1,317.9 L1391.2,317.9 L1392.3,317.9 L1393.5,317.9 L1394.6,317.9 L1395.8,317.9 L1396.9,317.9 L1398.0,317.8 L1399.2,317.8 L1400.3,317.8 L1401.4,317.8 L1402.6,317.8 L1403.7,317.8 L1404.9,317.7 L1406.0,317.7 L1407.1,317.7 L1408.3,317.7 L1409.4,317.6 L1410.6,317.6 L1411.7,317.6 L1412.8,317.6 L1414.0,317.5 L1415.1,317.5 L1416.3,317.5 L1417.4,317.4 L1418.5,317.4 L1419.7,317.3 L1420.8,317.2 L1421.9,317.2 L1423.1,317.1 L1424.2,317.0 L1425.4,316.9 L1426.5,316.9 L1427.6,316.7 L1428.8,316.6 L1429.9,316.5 L1431.1,316.3 L1432.2,316.1 L1433.3,315.9 L1434.5,315.7 L1435.6,315.5 L1436.8,315.3 L1437.9,315.1 L1439.0,314.8 L1440.2,314.6 L1441.3,314.3 L1442.4,314.0 L1443.6,313.6 L1444.7,313.3 L1445.9,313.0 L1447.0,312.7 L1448.1,312.3 L1449.3,312.0 L1450.4,311.7 L1451.6,311.3 L1452.7,311.0 L1453.8,310.6 L1455.0,310.2 L1456.1,309.8 L1457.2,309.4 L1458.4,309.0 L1459.5,308.6 L1460.7,308.2 L1461.8,307.7 L1462.9,307.3 L1464.1,306.8 L1465.2,306.4 L1466.4,305.9 L1467.5,305.4 L1468.6,305.0 L1469.8,304.5 L1470.9,304.0 L1472.1,303.5 L1473.2,303.0 L1474.3,302.5 L1475.5,302.0 L1476.6,301.5 L1477.7,300.9 L1478.9,300.4 L1480.0,299.8 L1481.2,299.2 L1482.3,298.7" fill="none" stroke="#000000" stroke-width="3.4" stroke-linejoin="round" stroke-linecap="round"/>
<circle cx="935.7" cy="141.6" r="4.05" fill="#4472C4"/>
<circle cx="947.1" cy="140.1" r="4.05" fill="#4472C4"/>
<circle cx="958.5" cy="138.0" r="4.05" fill="#4472C4"/>
<circle cx="969.9" cy="135.4" r="4.05" fill="#4472C4"/>
<circle cx="981.2" cy="131.4" r="4.05" fill="#4472C4"/>
<circle cx="992.6" cy="126.7" r="4.05" fill="#4472C4"/>
<circle cx="1004.0" cy="120.9" r="4.05" fill="#4472C4"/>
<circle cx="1015.4" cy="114.0" r="4.05" fill="#4472C4"/>
<circle cx="1026.8" cy="106.8" r="4.05" fill="#4472C4"/>
<circle cx="1038.2" cy="100.1" r="4.05" fill="#4472C4"/>
<circle cx="1049.6" cy="91.2" r="4.05" fill="#4472C4"/>
<circle cx="1061.0" cy="84.5" r="4.05" fill="#4472C4"/>
<circle cx="1072.3" cy="77.5" r="4.05" fill="#4472C4"/>
<circle cx="1083.7" cy="71.9" r="4.05" fill="#4472C4"/>
<circle cx="1095.1" cy="68.4" r="4.05" fill="#4472C4"/>
<circle cx="1106.5" cy="67.2" r="4.05" fill="#4472C4"/>
<circle cx="1113.3" cy="67.0" r="4.05" fill="#4472C4"/>
<circle cx="1120.2" cy="67.0" r="4.05" fill="#4472C4"/>
<circle cx="1127.0" cy="67.9" r="4.05" fill="#4472C4"/>
<circle cx="1131.6" cy="68.6" r="4.05" fill="#4472C4"/>
<circle cx="1136.1" cy="69.7" r="4.05" fill="#4472C4"/>
<circle cx="1140.7" cy="71.0" r="4.05" fill="#4472C4"/>
<circle cx="1145.2" cy="72.8" r="4.05" fill="#4472C4"/>
<circle cx="1149.8" cy="74.9" r="4.05" fill="#4472C4"/>
<circle cx="1154.3" cy="77.5" r="4.05" fill="#4472C4"/>
<circle cx="1161.2" cy="82.6" r="4.05" fill="#4472C4"/>
<circle cx="1168.0" cy="87.7" r="4.05" fill="#4472C4"/>
<circle cx="1174.8" cy="92.8" r="4.05" fill="#4472C4"/>
<circle cx="1186.2" cy="101.4" r="4.05" fill="#4472C4"/>
<circle cx="1197.6" cy="109.4" r="4.05" fill="#4472C4"/>
<circle cx="1209.0" cy="117.1" r="4.05" fill="#4472C4"/>
<circle cx="1220.4" cy="122.9" r="4.05" fill="#4472C4"/>
<circle cx="1231.8" cy="130.3" r="4.05" fill="#4472C4"/>
<circle cx="1243.2" cy="135.8" r="4.05" fill="#4472C4"/>
<circle cx="1254.5" cy="139.0" r="4.05" fill="#4472C4"/>
<circle cx="1265.9" cy="142.2" r="4.05" fill="#4472C4"/>
<circle cx="1277.3" cy="145.9" r="4.05" fill="#4472C4"/>
<circle cx="1288.7" cy="147.7" r="4.05" fill="#4472C4"/>
<circle cx="1300.1" cy="150.6" r="4.05" fill="#4472C4"/>
<circle cx="1311.5" cy="151.9" r="4.05" fill="#4472C4"/>
<circle cx="1322.9" cy="151.8" r="4.05" fill="#4472C4"/>
<circle cx="1334.3" cy="151.8" r="4.05" fill="#4472C4"/>
<circle cx="1345.7" cy="150.9" r="4.05" fill="#4472C4"/>
<circle cx="1357.0" cy="148.1" r="4.05" fill="#4472C4"/>
<circle cx="1368.4" cy="145.9" r="4.05" fill="#4472C4"/>
<circle cx="1379.8" cy="143.3" r="4.05" fill="#4472C4"/>
<circle cx="1391.2" cy="140.1" r="4.05" fill="#4472C4"/>
<circle cx="1402.6" cy="134.6" r="4.05" fill="#4472C4"/>
<circle cx="1414.0" cy="129.6" r="4.05" fill="#4472C4"/>
<circle cx="1425.4" cy="122.9" r="4.05" fill="#4472C4"/>
<circle cx="1436.8" cy="116.4" r="4.05" fill="#4472C4"/>
<circle cx="1448.1" cy="108.4" r="4.05" fill="#4472C4"/>
<circle cx="1459.5" cy="100.2" r="4.05" fill="#4472C4"/>
<circle cx="1470.9" cy="91.9" r="4.05" fill="#4472C4"/>
<circle cx="1482.3" cy="84.9" r="4.05" fill="#4472C4"/>
<circle cx="935.7" cy="204.9" r="4.05" fill="#ED7D31"/>
<circle cx="947.1" cy="204.7" r="4.05" fill="#ED7D31"/>
<circle cx="958.5" cy="203.4" r="4.05" fill="#ED7D31"/>
<circle cx="969.9" cy="201.8" r="4.05" fill="#ED7D31"/>
<circle cx="981.2" cy="199.1" r="4.05" fill="#ED7D31"/>
<circle cx="992.6" cy="196.2" r="4.05" fill="#ED7D31"/>
<circle cx="1004.0" cy="192.1" r="4.05" fill="#ED7D31"/>
<circle cx="1015.4" cy="186.9" r="4.05" fill="#ED7D31"/>
<circle cx="1026.8" cy="180.4" r="4.05" fill="#ED7D31"/>
<circle cx="1038.2" cy="172.0" r="4.05" fill="#ED7D31"/>
<circle cx="1049.6" cy="161.5" r="4.05" fill="#ED7D31"/>
<circle cx="1061.0" cy="148.4" r="4.05" fill="#ED7D31"/>
<circle cx="1072.3" cy="132.8" r="4.05" fill="#ED7D31"/>
<circle cx="1083.7" cy="113.9" r="4.05" fill="#ED7D31"/>
<circle cx="1095.1" cy="94.5" r="4.05" fill="#ED7D31"/>
<circle cx="1106.5" cy="80.2" r="4.05" fill="#ED7D31"/>
<circle cx="1113.3" cy="74.6" r="4.05" fill="#ED7D31"/>
<circle cx="1120.2" cy="71.8" r="4.05" fill="#ED7D31"/>
<circle cx="1127.0" cy="71.6" r="4.05" fill="#ED7D31"/>
<circle cx="1131.6" cy="72.6" r="4.05" fill="#ED7D31"/>
<circle cx="1136.1" cy="75.1" r="4.05" fill="#ED7D31"/>
<circle cx="1140.7" cy="80.2" r="4.05" fill="#ED7D31"/>
<circle cx="1145.2" cy="88.9" r="4.05" fill="#ED7D31"/>
<circle cx="1149.8" cy="95.6" r="4.05" fill="#ED7D31"/>
<circle cx="1154.3" cy="103.2" r="4.05" fill="#ED7D31"/>
<circle cx="1161.2" cy="111.8" r="4.05" fill="#ED7D31"/>
<circle cx="1168.0" cy="121.8" r="4.05" fill="#ED7D31"/>
<circle cx="1174.8" cy="132.3" r="4.05" fill="#ED7D31"/>
<circle cx="1186.2" cy="147.2" r="4.05" fill="#ED7D31"/>
<circle cx="1197.6" cy="161.2" r="4.05" fill="#ED7D31"/>
<circle cx="1209.0" cy="171.8" r="4.05" fill="#ED7D31"/>
<circle cx="1220.4" cy="180.3" r="4.05" fill="#ED7D31"/>
<circle cx="1231.8" cy="187.3" r="4.05" fill="#ED7D31"/>
<circle cx="1243.2" cy="192.9" r="4.05" fill="#ED7D31"/>
<circle cx="1254.5" cy="197.6" r="4.05" fill="#ED7D31"/>
<circle cx="1265.9" cy="200.8" r="4.05" fill="#ED7D31"/>
<circle cx="1277.3" cy="203.7" r="4.05" fill="#ED7D31"/>
<circle cx="1288.7" cy="205.5" r="4.05" fill="#ED7D31"/>
<circle cx="1300.1" cy="206.9" r="4.05" fill="#ED7D31"/>
<circle cx="1311.5" cy="207.8" r="4.05" fill="#ED7D31"/>
<circle cx="1322.9" cy="208.3" r="4.05" fill="#ED7D31"/>
<circle cx="1334.3" cy="207.8" r="4.05" fill="#ED7D31"/>
<circle cx="1345.7" cy="206.9" r="4.05" fill="#ED7D31"/>
<circle cx="1357.0" cy="206.0" r="4.05" fill="#ED7D31"/>
<circle cx="1368.4" cy="204.3" r="4.05" fill="#ED7D31"/>
<circle cx="1379.8" cy="201.7" r="4.05" fill="#ED7D31"/>
<circle cx="1391.2" cy="199.0" r="4.05" fill="#ED7D31"/>
<circle cx="1402.6" cy="196.0" r="4.05" fill="#ED7D31"/>
<circle cx="1414.0" cy="191.2" r="4.05" fill="#ED7D31"/>
<circle cx="1425.4" cy="186.8" r="4.05" fill="#ED7D31"/>
<circle cx="1436.8" cy="180.7" r="4.05" fill="#ED7D31"/>
<circle cx="1448.1" cy="173.3" r="4.05" fill="#ED7D31"/>
<circle cx="1459.5" cy="163.7" r="4.05" fill="#ED7D31"/>
<circle cx="1470.9" cy="152.6" r="4.05" fill="#ED7D31"/>
<circle cx="1482.3" cy="139.5" r="4.05" fill="#ED7D31"/>
<circle cx="935.7" cy="253.4" r="4.05" fill="#A5A5A5"/>
<circle cx="947.1" cy="253.4" r="4.05" fill="#A5A5A5"/>
<circle cx="958.5" cy="253.1" r="4.05" fill="#A5A5A5"/>
<circle cx="969.9" cy="252.5" r="4.05" fill="#A5A5A5"/>
<circle cx="981.2" cy="251.6" r="4.05" fill="#A5A5A5"/>
<circle cx="992.6" cy="249.9" r="4.05" fill="#A5A5A5"/>
<circle cx="1004.0" cy="247.3" r="4.05" fill="#A5A5A5"/>
<circle cx="1015.4" cy="245.0" r="4.05" fill="#A5A5A5"/>
<circle cx="1026.8" cy="242.0" r="4.05" fill="#A5A5A5"/>
<circle cx="1038.2" cy="237.7" r="4.05" fill="#A5A5A5"/>
<circle cx="1049.6" cy="231.0" r="4.05" fill="#A5A5A5"/>
<circle cx="1061.0" cy="222.8" r="4.05" fill="#A5A5A5"/>
<circle cx="1072.3" cy="212.3" r="4.05" fill="#A5A5A5"/>
<circle cx="1083.7" cy="195.7" r="4.05" fill="#A5A5A5"/>
<circle cx="1095.1" cy="171.3" r="4.05" fill="#A5A5A5"/>
<circle cx="1106.5" cy="135.8" r="4.05" fill="#A5A5A5"/>
<circle cx="1113.3" cy="112.2" r="4.05" fill="#A5A5A5"/>
<circle cx="1120.2" cy="93.0" r="4.05" fill="#A5A5A5"/>
<circle cx="1127.0" cy="83.3" r="4.05" fill="#A5A5A5"/>
<circle cx="1131.6" cy="83.3" r="4.05" fill="#A5A5A5"/>
<circle cx="1136.1" cy="87.9" r="4.05" fill="#A5A5A5"/>
<circle cx="1140.7" cy="95.6" r="4.05" fill="#A5A5A5"/>
<circle cx="1145.2" cy="108.3" r="4.05" fill="#A5A5A5"/>
<circle cx="1149.8" cy="126.2" r="4.05" fill="#A5A5A5"/>
<circle cx="1154.3" cy="141.9" r="4.05" fill="#A5A5A5"/>
<circle cx="1161.2" cy="161.1" r="4.05" fill="#A5A5A5"/>
<circle cx="1168.0" cy="176.9" r="4.05" fill="#A5A5A5"/>
<circle cx="1174.8" cy="191.3" r="4.05" fill="#A5A5A5"/>
<circle cx="1186.2" cy="207.0" r="4.05" fill="#A5A5A5"/>
<circle cx="1197.6" cy="220.2" r="4.05" fill="#A5A5A5"/>
<circle cx="1209.0" cy="228.9" r="4.05" fill="#A5A5A5"/>
<circle cx="1220.4" cy="235.8" r="4.05" fill="#A5A5A5"/>
<circle cx="1231.8" cy="241.0" r="4.05" fill="#A5A5A5"/>
<circle cx="1243.2" cy="245.0" r="4.05" fill="#A5A5A5"/>
<circle cx="1254.5" cy="248.4" r="4.05" fill="#A5A5A5"/>
<circle cx="1265.9" cy="251.0" r="4.05" fill="#A5A5A5"/>
<circle cx="1277.3" cy="252.4" r="4.05" fill="#A5A5A5"/>
<circle cx="1288.7" cy="253.8" r="4.05" fill="#A5A5A5"/>
<circle cx="1300.1" cy="254.5" r="4.05" fill="#A5A5A5"/>
<circle cx="1311.5" cy="255.0" r="4.05" fill="#A5A5A5"/>
<circle cx="1322.9" cy="255.0" r="4.05" fill="#A5A5A5"/>
<circle cx="1334.3" cy="255.0" r="4.05" fill="#A5A5A5"/>
<circle cx="1345.7" cy="254.7" r="4.05" fill="#A5A5A5"/>
<circle cx="1357.0" cy="253.8" r="4.05" fill="#A5A5A5"/>
<circle cx="1368.4" cy="252.9" r="4.05" fill="#A5A5A5"/>
<circle cx="1379.8" cy="251.9" r="4.05" fill="#A5A5A5"/>
<circle cx="1391.2" cy="250.3" r="4.05" fill="#A5A5A5"/>
<circle cx="1402.6" cy="248.6" r="4.05" fill="#A5A5A5"/>
<circle cx="1414.0" cy="246.3" r="4.05" fill="#A5A5A5"/>
<circle cx="1425.4" cy="243.7" r="4.05" fill="#A5A5A5"/>
<circle cx="1436.8" cy="240.7" r="4.05" fill="#A5A5A5"/>
<circle cx="1448.1" cy="236.3" r="4.05" fill="#A5A5A5"/>
<circle cx="1459.5" cy="229.7" r="4.05" fill="#A5A5A5"/>
<circle cx="1470.9" cy="221.8" r="4.05" fill="#A5A5A5"/>
<circle cx="1482.3" cy="211.8" r="4.05" fill="#A5A5A5"/>
<rect x="931.7" y="271.8" width="8" height="8" fill="#FFC000"/>
<rect x="943.1" y="271.8" width="8" height="8" fill="#FFC000"/>
<rect x="954.5" y="271.8" width="8" height="8" fill="#FFC000"/>
<rect x="965.9" y="271.7" width="8" height="8" fill="#FFC000"/>
<rect x="977.2" y="271.4" width="8" height="8" fill="#FFC000"/>
<rect x="988.6" y="270.7" width="8" height="8" fill="#FFC000"/>
<rect x="1000.0" y="269.2" width="8" height="8" fill="#FFC000"/>
<rect x="1011.4" y="267.3" width="8" height="8" fill="#FFC000"/>
<rect x="1022.8" y="264.0" width="8" height="8" fill="#FFC000"/>
<rect x="1034.2" y="261.0" width="8" height="8" fill="#FFC000"/>
<rect x="1045.6" y="257.1" width="8" height="8" fill="#FFC000"/>
<rect x="1057.0" y="252.0" width="8" height="8" fill="#FFC000"/>
<rect x="1068.3" y="245.1" width="8" height="8" fill="#FFC000"/>
<rect x="1079.7" y="230.2" width="8" height="8" fill="#FFC000"/>
<rect x="1091.1" y="212.7" width="8" height="8" fill="#FFC000"/>
<rect x="1102.5" y="182.3" width="8" height="8" fill="#FFC000"/>
<rect x="1109.3" y="153.7" width="8" height="8" fill="#FFC000"/>
<rect x="1116.2" y="119.5" width="8" height="8" fill="#FFC000"/>
<rect x="1123.0" y="94.1" width="8" height="8" fill="#FFC000"/>
<rect x="1127.6" y="85.4" width="8" height="8" fill="#FFC000"/>
<rect x="1132.1" y="86.5" width="8" height="8" fill="#FFC000"/>
<rect x="1136.7" y="96.7" width="8" height="8" fill="#FFC000"/>
<rect x="1141.2" y="119.7" width="8" height="8" fill="#FFC000"/>
<rect x="1145.8" y="151.1" width="8" height="8" fill="#FFC000"/>
<rect x="1150.3" y="169.4" width="8" height="8" fill="#FFC000"/>
<rect x="1157.2" y="191.7" width="8" height="8" fill="#FFC000"/>
<rect x="1164.0" y="208.3" width="8" height="8" fill="#FFC000"/>
<rect x="1170.8" y="221.4" width="8" height="8" fill="#FFC000"/>
<rect x="1182.2" y="234.5" width="8" height="8" fill="#FFC000"/>
<rect x="1193.6" y="245.0" width="8" height="8" fill="#FFC000"/>
<rect x="1205.0" y="251.2" width="8" height="8" fill="#FFC000"/>
<rect x="1216.4" y="257.1" width="8" height="8" fill="#FFC000"/>
<rect x="1227.8" y="262.4" width="8" height="8" fill="#FFC000"/>
<rect x="1239.2" y="265.9" width="8" height="8" fill="#FFC000"/>
<rect x="1250.5" y="269.4" width="8" height="8" fill="#FFC000"/>
<rect x="1261.9" y="270.8" width="8" height="8" fill="#FFC000"/>
<rect x="1273.3" y="271.5" width="8" height="8" fill="#FFC000"/>
<rect x="1284.7" y="272.0" width="8" height="8" fill="#FFC000"/>
<rect x="1296.1" y="272.0" width="8" height="8" fill="#FFC000"/>
<rect x="1307.5" y="272.0" width="8" height="8" fill="#FFC000"/>
<rect x="1318.9" y="272.0" width="8" height="8" fill="#FFC000"/>
<rect x="1330.3" y="272.0" width="8" height="8" fill="#FFC000"/>
<rect x="1341.7" y="272.0" width="8" height="8" fill="#FFC000"/>
<rect x="1353.0" y="272.0" width="8" height="8" fill="#FFC000"/>
<rect x="1364.4" y="271.9" width="8" height="8" fill="#FFC000"/>
<rect x="1375.8" y="271.1" width="8" height="8" fill="#FFC000"/>
<rect x="1387.2" y="270.3" width="8" height="8" fill="#FFC000"/>
<rect x="1398.6" y="269.0" width="8" height="8" fill="#FFC000"/>
<rect x="1410.0" y="267.7" width="8" height="8" fill="#FFC000"/>
<rect x="1421.4" y="265.0" width="8" height="8" fill="#FFC000"/>
<rect x="1432.8" y="262.0" width="8" height="8" fill="#FFC000"/>
<rect x="1444.1" y="259.2" width="8" height="8" fill="#FFC000"/>
<rect x="1455.5" y="255.0" width="8" height="8" fill="#FFC000"/>
<rect x="1466.9" y="249.3" width="8" height="8" fill="#FFC000"/>
<rect x="1478.3" y="241.4" width="8" height="8" fill="#FFC000"/>
<circle cx="935.7" cy="297.5" r="4.05" fill="#5B9BD5"/>
<circle cx="947.1" cy="297.6" r="4.05" fill="#5B9BD5"/>
<circle cx="958.5" cy="297.7" r="4.05" fill="#5B9BD5"/>
<circle cx="969.9" cy="297.8" r="4.05" fill="#5B9BD5"/>
<circle cx="981.2" cy="297.9" r="4.05" fill="#5B9BD5"/>
<circle cx="992.6" cy="297.9" r="4.05" fill="#5B9BD5"/>
<circle cx="1004.0" cy="297.5" r="4.05" fill="#5B9BD5"/>
<circle cx="1015.4" cy="296.3" r="4.05" fill="#5B9BD5"/>
<circle cx="1026.8" cy="293.8" r="4.05" fill="#5B9BD5"/>
<circle cx="1038.2" cy="291.9" r="4.05" fill="#5B9BD5"/>
<circle cx="1049.6" cy="288.7" r="4.05" fill="#5B9BD5"/>
<circle cx="1061.0" cy="284.9" r="4.05" fill="#5B9BD5"/>
<circle cx="1072.3" cy="280.0" r="4.05" fill="#5B9BD5"/>
<circle cx="1083.7" cy="271.8" r="4.05" fill="#5B9BD5"/>
<circle cx="1095.1" cy="258.8" r="4.05" fill="#5B9BD5"/>
<circle cx="1106.5" cy="238.5" r="4.05" fill="#5B9BD5"/>
<circle cx="1113.3" cy="216.7" r="4.05" fill="#5B9BD5"/>
<circle cx="1120.2" cy="184.3" r="4.05" fill="#5B9BD5"/>
<circle cx="1127.0" cy="139.0" r="4.05" fill="#5B9BD5"/>
<circle cx="1131.6" cy="113.5" r="4.05" fill="#5B9BD5"/>
<circle cx="1136.1" cy="103.4" r="4.05" fill="#5B9BD5"/>
<circle cx="1140.7" cy="123.7" r="4.05" fill="#5B9BD5"/>
<circle cx="1145.2" cy="154.3" r="4.05" fill="#5B9BD5"/>
<circle cx="1149.8" cy="187.5" r="4.05" fill="#5B9BD5"/>
<circle cx="1154.3" cy="213.6" r="4.05" fill="#5B9BD5"/>
<circle cx="1161.2" cy="235.9" r="4.05" fill="#5B9BD5"/>
<circle cx="1168.0" cy="251.2" r="4.05" fill="#5B9BD5"/>
<circle cx="1174.8" cy="260.4" r="4.05" fill="#5B9BD5"/>
<circle cx="1186.2" cy="270.9" r="4.05" fill="#5B9BD5"/>
<circle cx="1197.6" cy="278.8" r="4.05" fill="#5B9BD5"/>
<circle cx="1209.0" cy="283.6" r="4.05" fill="#5B9BD5"/>
<circle cx="1220.4" cy="287.9" r="4.05" fill="#5B9BD5"/>
<circle cx="1231.8" cy="291.1" r="4.05" fill="#5B9BD5"/>
<circle cx="1243.2" cy="293.2" r="4.05" fill="#5B9BD5"/>
<circle cx="1254.5" cy="294.9" r="4.05" fill="#5B9BD5"/>
<circle cx="1265.9" cy="296.3" r="4.05" fill="#5B9BD5"/>
<circle cx="1277.3" cy="297.0" r="4.05" fill="#5B9BD5"/>
<circle cx="1288.7" cy="297.5" r="4.05" fill="#5B9BD5"/>
<circle cx="1300.1" cy="297.6" r="4.05" fill="#5B9BD5"/>
<circle cx="1311.5" cy="297.6" r="4.05" fill="#5B9BD5"/>
<circle cx="1322.9" cy="297.7" r="4.05" fill="#5B9BD5"/>
<circle cx="1334.3" cy="297.7" r="4.05" fill="#5B9BD5"/>
<circle cx="1345.7" cy="297.7" r="4.05" fill="#5B9BD5"/>
<circle cx="1357.0" cy="297.7" r="4.05" fill="#5B9BD5"/>
<circle cx="1368.4" cy="297.7" r="4.05" fill="#5B9BD5"/>
<circle cx="1379.8" cy="297.6" r="4.05" fill="#5B9BD5"/>
<circle cx="1391.2" cy="297.6" r="4.05" fill="#5B9BD5"/>
<circle cx="1402.6" cy="297.5" r="4.05" fill="#5B9BD5"/>
<circle cx="1414.0" cy="297.0" r="4.05" fill="#5B9BD5"/>
<circle cx="1425.4" cy="295.8" r="4.05" fill="#5B9BD5"/>
<circle cx="1436.8" cy="293.5" r="4.05" fill="#5B9BD5"/>
<circle cx="1448.1" cy="291.4" r="4.05" fill="#5B9BD5"/>
<circle cx="1459.5" cy="287.9" r="4.05" fill="#5B9BD5"/>
<circle cx="1470.9" cy="284.1" r="4.05" fill="#5B9BD5"/>
<circle cx="1482.3" cy="278.8" r="4.05" fill="#5B9BD5"/>
<circle cx="935.7" cy="308.5" r="4.05" fill="#548235"/>
<circle cx="947.1" cy="308.6" r="4.05" fill="#548235"/>
<circle cx="958.5" cy="308.7" r="4.05" fill="#548235"/>
<circle cx="969.9" cy="308.7" r="4.05" fill="#548235"/>
<circle cx="981.2" cy="308.8" r="4.05" fill="#548235"/>
<circle cx="992.6" cy="308.7" r="4.05" fill="#548235"/>
<circle cx="1004.0" cy="308.7" r="4.05" fill="#548235"/>
<circle cx="1015.4" cy="308.4" r="4.05" fill="#548235"/>
<circle cx="1026.8" cy="307.3" r="4.05" fill="#548235"/>
<circle cx="1038.2" cy="305.5" r="4.05" fill="#548235"/>
<circle cx="1049.6" cy="302.8" r="4.05" fill="#548235"/>
<circle cx="1061.0" cy="299.8" r="4.05" fill="#548235"/>
<circle cx="1072.3" cy="295.7" r="4.05" fill="#548235"/>
<circle cx="1083.7" cy="288.7" r="4.05" fill="#548235"/>
<circle cx="1095.1" cy="278.8" r="4.05" fill="#548235"/>
<circle cx="1106.5" cy="265.0" r="4.05" fill="#548235"/>
<circle cx="1113.3" cy="249.4" r="4.05" fill="#548235"/>
<circle cx="1120.2" cy="221.9" r="4.05" fill="#548235"/>
<circle cx="1127.0" cy="175.1" r="4.05" fill="#548235"/>
<circle cx="1131.6" cy="135.8" r="4.05" fill="#548235"/>
<circle cx="1136.1" cy="108.7" r="4.05" fill="#548235"/>
<circle cx="1140.7" cy="136.7" r="4.05" fill="#548235"/>
<circle cx="1145.2" cy="186.3" r="4.05" fill="#548235"/>
<circle cx="1149.8" cy="218.4" r="4.05" fill="#548235"/>
<circle cx="1154.3" cy="238.5" r="4.05" fill="#548235"/>
<circle cx="1161.2" cy="257.3" r="4.05" fill="#548235"/>
<circle cx="1168.0" cy="270.3" r="4.05" fill="#548235"/>
<circle cx="1174.8" cy="278.5" r="4.05" fill="#548235"/>
<circle cx="1186.2" cy="287.7" r="4.05" fill="#548235"/>
<circle cx="1197.6" cy="293.8" r="4.05" fill="#548235"/>
<circle cx="1209.0" cy="297.5" r="4.05" fill="#548235"/>
<circle cx="1220.4" cy="301.0" r="4.05" fill="#548235"/>
<circle cx="1231.8" cy="303.3" r="4.05" fill="#548235"/>
<circle cx="1243.2" cy="305.4" r="4.05" fill="#548235"/>
<circle cx="1254.5" cy="306.8" r="4.05" fill="#548235"/>
<circle cx="1265.9" cy="307.3" r="4.05" fill="#548235"/>
<circle cx="1277.3" cy="307.6" r="4.05" fill="#548235"/>
<circle cx="1288.7" cy="307.8" r="4.05" fill="#548235"/>
<circle cx="1300.1" cy="307.9" r="4.05" fill="#548235"/>
<circle cx="1311.5" cy="307.9" r="4.05" fill="#548235"/>
<circle cx="1322.9" cy="308.0" r="4.05" fill="#548235"/>
<circle cx="1334.3" cy="308.0" r="4.05" fill="#548235"/>
<circle cx="1345.7" cy="308.0" r="4.05" fill="#548235"/>
<circle cx="1357.0" cy="308.0" r="4.05" fill="#548235"/>
<circle cx="1368.4" cy="308.0" r="4.05" fill="#548235"/>
<circle cx="1379.8" cy="308.0" r="4.05" fill="#548235"/>
<circle cx="1391.2" cy="308.0" r="4.05" fill="#548235"/>
<circle cx="1402.6" cy="307.9" r="4.05" fill="#548235"/>
<circle cx="1414.0" cy="307.8" r="4.05" fill="#548235"/>
<circle cx="1425.4" cy="307.0" r="4.05" fill="#548235"/>
<circle cx="1436.8" cy="305.7" r="4.05" fill="#548235"/>
<circle cx="1448.1" cy="303.6" r="4.05" fill="#548235"/>
<circle cx="1459.5" cy="301.4" r="4.05" fill="#548235"/>
<circle cx="1470.9" cy="298.4" r="4.05" fill="#548235"/>
<circle cx="1482.3" cy="294.0" r="4.05" fill="#548235"/>
<circle cx="935.7" cy="313.9" r="4.05" fill="#000000"/>
<circle cx="947.1" cy="314.2" r="4.05" fill="#000000"/>
<circle cx="958.5" cy="314.4" r="4.05" fill="#000000"/>
<circle cx="969.9" cy="314.6" r="4.05" fill="#000000"/>
<circle cx="981.2" cy="314.7" r="4.05" fill="#000000"/>
<circle cx="992.6" cy="314.8" r="4.05" fill="#000000"/>
<circle cx="1004.0" cy="314.9" r="4.05" fill="#000000"/>
<circle cx="1015.4" cy="314.5" r="4.05" fill="#000000"/>
<circle cx="1026.8" cy="313.3" r="4.05" fill="#000000"/>
<circle cx="1038.2" cy="311.7" r="4.05" fill="#000000"/>
<circle cx="1049.6" cy="309.6" r="4.05" fill="#000000"/>
<circle cx="1061.0" cy="306.1" r="4.05" fill="#000000"/>
<circle cx="1072.3" cy="301.8" r="4.05" fill="#000000"/>
<circle cx="1083.7" cy="296.3" r="4.05" fill="#000000"/>
<circle cx="1095.1" cy="287.5" r="4.05" fill="#000000"/>
<circle cx="1106.5" cy="275.3" r="4.05" fill="#000000"/>
<circle cx="1113.3" cy="259.5" r="4.05" fill="#000000"/>
<circle cx="1120.2" cy="235.0" r="4.05" fill="#000000"/>
<circle cx="1127.0" cy="190.4" r="4.05" fill="#000000"/>
<circle cx="1131.6" cy="152.4" r="4.05" fill="#000000"/>
<circle cx="1136.1" cy="117.0" r="4.05" fill="#000000"/>
<circle cx="1140.7" cy="143.7" r="4.05" fill="#000000"/>
<circle cx="1145.2" cy="195.7" r="4.05" fill="#000000"/>
<circle cx="1149.8" cy="228.9" r="4.05" fill="#000000"/>
<circle cx="1154.3" cy="248.2" r="4.05" fill="#000000"/>
<circle cx="1161.2" cy="264.7" r="4.05" fill="#000000"/>
<circle cx="1168.0" cy="277.0" r="4.05" fill="#000000"/>
<circle cx="1174.8" cy="284.9" r="4.05" fill="#000000"/>
<circle cx="1186.2" cy="293.6" r="4.05" fill="#000000"/>
<circle cx="1197.6" cy="299.8" r="4.05" fill="#000000"/>
<circle cx="1209.0" cy="303.8" r="4.05" fill="#000000"/>
<circle cx="1220.4" cy="307.2" r="4.05" fill="#000000"/>
<circle cx="1231.8" cy="309.8" r="4.05" fill="#000000"/>
<circle cx="1243.2" cy="312.1" r="4.05" fill="#000000"/>
<circle cx="1254.5" cy="313.3" r="4.05" fill="#000000"/>
<circle cx="1265.9" cy="314.5" r="4.05" fill="#000000"/>
<circle cx="1277.3" cy="315.4" r="4.05" fill="#000000"/>
<circle cx="1288.7" cy="315.5" r="4.05" fill="#000000"/>
<circle cx="1300.1" cy="315.6" r="4.05" fill="#000000"/>
<circle cx="1311.5" cy="315.6" r="4.05" fill="#000000"/>
<circle cx="1322.9" cy="315.6" r="4.05" fill="#000000"/>
<circle cx="1334.3" cy="315.7" r="4.05" fill="#000000"/>
<circle cx="1345.7" cy="315.7" r="4.05" fill="#000000"/>
<circle cx="1357.0" cy="315.7" r="4.05" fill="#000000"/>
<circle cx="1368.4" cy="315.6" r="4.05" fill="#000000"/>
<circle cx="1379.8" cy="315.6" r="4.05" fill="#000000"/>
<circle cx="1391.2" cy="315.6" r="4.05" fill="#000000"/>
<circle cx="1402.6" cy="315.5" r="4.05" fill="#000000"/>
<circle cx="1414.0" cy="315.5" r="4.05" fill="#000000"/>
<circle cx="1425.4" cy="315.4" r="4.05" fill="#000000"/>
<circle cx="1436.8" cy="314.5" r="4.05" fill="#000000"/>
<circle cx="1448.1" cy="312.4" r="4.05" fill="#000000"/>
<circle cx="1459.5" cy="309.8" r="4.05" fill="#000000"/>
<circle cx="1470.9" cy="306.3" r="4.05" fill="#000000"/>
<circle cx="1482.3" cy="301.9" r="4.05" fill="#000000"/>
<circle cx="1543.8" cy="96.6" r="4.5" fill="#4472C4"/>
<text x="1556.0" y="103.7" font-size="21.5" fill="#525252" textLength="43.0" lengthAdjust="spacingAndGlyphs">0.5T</text>
<circle cx="1543.8" cy="140.1" r="4.5" fill="#ED7D31"/>
<text x="1556.0" y="147.2" font-size="21.5" fill="#525252" textLength="25.0" lengthAdjust="spacingAndGlyphs">1T</text>
<circle cx="1543.8" cy="183.6" r="4.5" fill="#A5A5A5"/>
<text x="1556.0" y="190.7" font-size="21.5" fill="#525252" textLength="25.0" lengthAdjust="spacingAndGlyphs">2T</text>
<rect x="1539.4" y="222.7" width="8.8" height="8.8" fill="#FFC000"/>
<text x="1556.0" y="234.2" font-size="21.5" fill="#525252" textLength="25.0" lengthAdjust="spacingAndGlyphs">3T</text>
<circle cx="1543.8" cy="270.6" r="4.5" fill="#5B9BD5"/>
<text x="1556.0" y="277.7" font-size="21.5" fill="#525252" textLength="25.0" lengthAdjust="spacingAndGlyphs">5T</text>
<circle cx="1543.8" cy="314.1" r="4.5" fill="#548235"/>
<text x="1556.0" y="321.2" font-size="21.5" fill="#525252" textLength="25.0" lengthAdjust="spacingAndGlyphs">7T</text>
<circle cx="1543.8" cy="357.6" r="4.5" fill="#000000"/>
<text x="1556.0" y="364.7" font-size="21.5" fill="#525252" textLength="25.0" lengthAdjust="spacingAndGlyphs">8T</text></g>
</svg>
</body></html>
